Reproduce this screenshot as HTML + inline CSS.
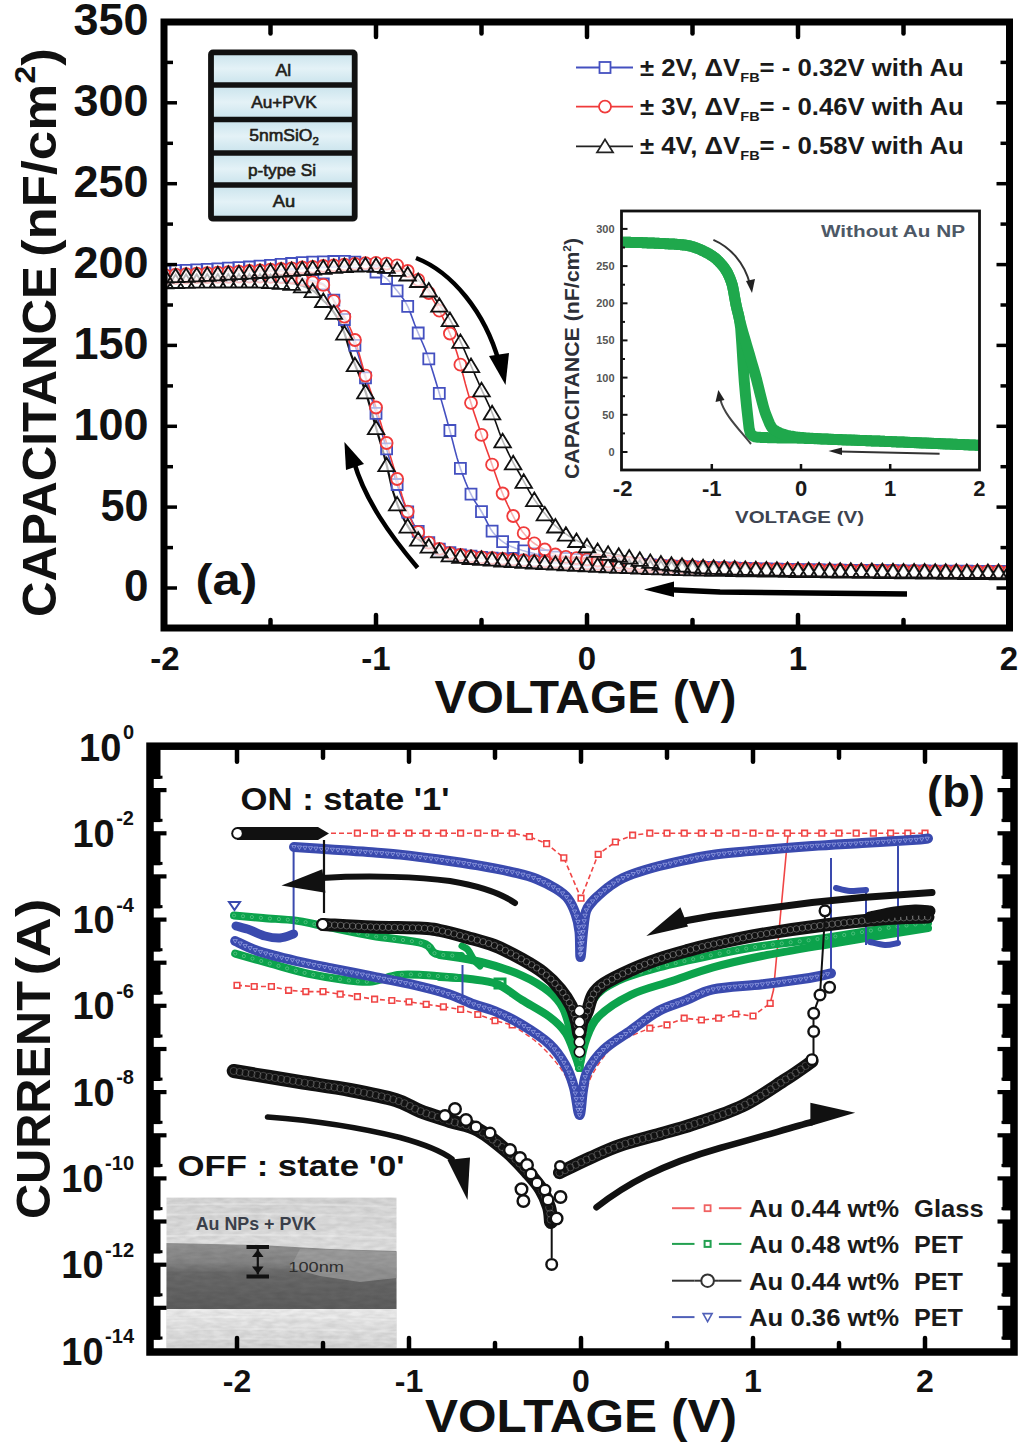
<!DOCTYPE html>
<html><head><meta charset="utf-8"><style>
html,body{margin:0;padding:0;background:#fff;}
svg{display:block;}
text{font-family:"Liberation Sans",sans-serif;}
</style></head><body>
<svg width="1025" height="1447" viewBox="0 0 1025 1447">
<rect width="1025" height="1447" fill="#fff"/>
<defs>
<linearGradient id="semTop" x1="0" y1="0" x2="0" y2="1"><stop offset="0" stop-color="#d8d8d8"/><stop offset="0.5" stop-color="#e6e6e6"/><stop offset="1" stop-color="#d4d4d4"/></linearGradient>
<linearGradient id="semMid" x1="0" y1="0" x2="0" y2="1"><stop offset="0" stop-color="#939393"/><stop offset="0.3" stop-color="#868686"/><stop offset="0.45" stop-color="#6a6a6a"/><stop offset="1" stop-color="#5e5e5e"/></linearGradient>
<linearGradient id="semBot" x1="0" y1="0" x2="0" y2="1"><stop offset="0" stop-color="#efefef"/><stop offset="0.5" stop-color="#e2e2e2"/><stop offset="1" stop-color="#d8d8d8"/></linearGradient>
<filter id="semNoise" x="0" y="0" width="1" height="1"><feTurbulence type="fractalNoise" baseFrequency="0.08 0.25" numOctaves="2" seed="3"/><feColorMatrix type="matrix" values="0 0 0 0 0  0 0 0 0 0  0 0 0 0 0  0 0 0 0.28 -0.07"/><feComposite in2="SourceGraphic" operator="in"/></filter>
</defs>
<rect x="166.5" y="1197.6" width="230.0" height="150" fill="url(#semTop)"/>
<path d="M166.5,1243 L260,1245 L330,1249 L396.5,1251 L396.5,1309 L166.5,1309 Z" fill="url(#semMid)"/>
<path d="M300,1249 L396.5,1252 L396.5,1278 L360,1282 L320,1276 L290,1268 Z" fill="#a4a4a4" opacity="0.7"/>
<rect x="166.5" y="1309" width="230.0" height="39" fill="url(#semBot)"/>
<rect x="166.5" y="1197.6" width="230.0" height="150" fill="#000" filter="url(#semNoise)" opacity="0.5"/>
<path d="M166.5,1205 Q280,1202 396.5,1207" stroke="#fff" stroke-width="2" fill="none" opacity="0.25"/>
<path d="M166.5,1215 Q280,1212 396.5,1217" stroke="#fff" stroke-width="2" fill="none" opacity="0.2"/>
<path d="M166.5,1236 Q280,1233 396.5,1238" stroke="#fff" stroke-width="2" fill="none" opacity="0.25"/>
<path d="M166.5,1318 Q280,1315 396.5,1320" stroke="#fff" stroke-width="2" fill="none" opacity="0.2"/>
<path d="M166.5,1330 Q280,1327 396.5,1332" stroke="#fff" stroke-width="2" fill="none" opacity="0.2"/>
<path d="M166.5,1340 Q280,1337 396.5,1342" stroke="#fff" stroke-width="2" fill="none" opacity="0.15"/>
<g fill="#111" stroke="#111">
<rect x="246.5" y="1245" width="22.5" height="4" stroke="none"/>
<rect x="246.5" y="1274.5" width="22.5" height="4" stroke="none"/>
<line x1="257.8" y1="1249" x2="257.8" y2="1274.5" stroke-width="2.2"/>
<path d="M252,1257 L263.6,1257 L257.8,1249.5 Z" stroke="none"/>
<path d="M252,1266.5 L263.6,1266.5 L257.8,1274 Z" stroke="none"/>
</g>
<text x="288.3" y="1271.5" font-size="15.5" fill="#2e2e2e" textLength="55.7" lengthAdjust="spacingAndGlyphs">100nm</text>
<text x="195.7" y="1230" font-size="17.5" font-weight="bold" fill="#3a3f4a" textLength="120.5" lengthAdjust="spacingAndGlyphs">Au NPs + PVK</text>
<path d="M331.0,833.2 L357.4,833.2 L374.6,833.2 L391.8,833.2 L409.0,833.2 L426.2,833.2 L443.4,833.2 L460.6,833.2 L477.8,833.2 L495.0,833.2 L512.2,833.2 L529.4,836.7 L546.6,843.7 L563.8,857.8 L581.0,898.2 L598.2,854.3 L615.4,842.0 L632.6,835.2 L649.8,833.2 L667.0,833.2 L684.2,833.2 L701.4,833.2 L718.6,833.2 L735.8,833.2 L753.0,833.2 L770.2,833.2 L787.4,833.2 L804.6,833.2 L821.8,833.2 L839.0,833.2 L856.2,833.2 L873.4,833.2 L890.6,833.2 L907.8,833.2 L925.0,833.2" fill="none" stroke="#f04545" stroke-width="1.6" stroke-dasharray="5,3"/>
<path d="M237.0,985.3 L254.2,986.5 L271.4,986.5 L288.6,990.3 L305.8,991.6 L323.0,991.6 L340.2,994.2 L357.4,996.7 L374.6,999.2 L391.8,1000.5 L409.0,1001.8 L426.2,1004.3 L443.4,1006.8 L460.6,1009.4 L477.8,1014.5 L495.0,1020.7 L512.2,1025.0" fill="none" stroke="#f04545" stroke-width="1.6" stroke-dasharray="5,3"/>
<path d="M649.8,1028.2 L667.0,1024.9 L684.2,1018.2 L701.4,1020.0 L718.6,1018.2 L735.8,1014.0 L753.0,1016.0 L770.2,1003.3" fill="none" stroke="#f04545" stroke-width="1.6" stroke-dasharray="5,3"/>
<path d="M770.2,1003.3 L773.5,990.0 L787.0,845.0 L788.0,836.0" fill="none" stroke="#f04545" stroke-width="1.6" />
<path d="M512.2,1025.0 C516.8,1028.3 531.2,1036.7 540.0,1045.0 C548.8,1053.3 558.5,1064.2 565.0,1075.0 C571.5,1085.8 574.5,1110.0 579.0,1110.0 C583.5,1110.0 586.0,1085.8 592.0,1075.0 C598.0,1064.2 605.4,1052.8 615.0,1045.0 C624.6,1037.2 644.0,1031.0 649.8,1028.2" fill="none" stroke="#f04545" stroke-width="1.4" stroke-dasharray="5,3"/>
<path d="M354.6,830.4h5.6v5.6h-5.6zM371.8,830.4h5.6v5.6h-5.6zM389.0,830.4h5.6v5.6h-5.6zM406.2,830.4h5.6v5.6h-5.6zM423.4,830.4h5.6v5.6h-5.6zM440.6,830.4h5.6v5.6h-5.6zM457.8,830.4h5.6v5.6h-5.6zM475.0,830.4h5.6v5.6h-5.6zM492.2,830.4h5.6v5.6h-5.6zM509.4,830.4h5.6v5.6h-5.6zM526.6,833.9h5.6v5.6h-5.6zM543.8,840.9h5.6v5.6h-5.6zM561.0,855.0h5.6v5.6h-5.6zM578.2,895.4h5.6v5.6h-5.6zM595.4,851.5h5.6v5.6h-5.6zM612.6,839.2h5.6v5.6h-5.6zM629.8,832.4h5.6v5.6h-5.6zM647.0,830.4h5.6v5.6h-5.6zM664.2,830.4h5.6v5.6h-5.6zM681.4,830.4h5.6v5.6h-5.6zM698.6,830.4h5.6v5.6h-5.6zM715.8,830.4h5.6v5.6h-5.6zM733.0,830.4h5.6v5.6h-5.6zM750.2,830.4h5.6v5.6h-5.6zM767.4,830.4h5.6v5.6h-5.6zM784.6,830.4h5.6v5.6h-5.6zM801.8,830.4h5.6v5.6h-5.6zM819.0,830.4h5.6v5.6h-5.6zM836.2,830.4h5.6v5.6h-5.6zM853.4,830.4h5.6v5.6h-5.6zM870.6,830.4h5.6v5.6h-5.6zM887.8,830.4h5.6v5.6h-5.6zM905.0,830.4h5.6v5.6h-5.6zM922.2,830.4h5.6v5.6h-5.6z" fill="#fff" stroke="#f04545" stroke-width="1.6"/>
<path d="M234.2,982.5h5.6v5.6h-5.6zM251.4,983.7h5.6v5.6h-5.6zM268.6,983.7h5.6v5.6h-5.6zM285.8,987.5h5.6v5.6h-5.6zM303.0,988.8h5.6v5.6h-5.6zM320.2,988.8h5.6v5.6h-5.6zM337.4,991.4h5.6v5.6h-5.6zM354.6,993.9h5.6v5.6h-5.6zM371.8,996.4h5.6v5.6h-5.6zM389.0,997.7h5.6v5.6h-5.6zM406.2,999.0h5.6v5.6h-5.6zM423.4,1001.5h5.6v5.6h-5.6zM440.6,1004.0h5.6v5.6h-5.6zM457.8,1006.6h5.6v5.6h-5.6zM475.0,1011.7h5.6v5.6h-5.6zM492.2,1017.9h5.6v5.6h-5.6zM509.4,1022.2h5.6v5.6h-5.6z" fill="#fff" stroke="#f04545" stroke-width="1.6"/>
<path d="M647.0,1025.4h5.6v5.6h-5.6zM664.2,1022.1h5.6v5.6h-5.6zM681.4,1015.4h5.6v5.6h-5.6zM698.6,1017.2h5.6v5.6h-5.6zM715.8,1015.4h5.6v5.6h-5.6zM733.0,1011.2h5.6v5.6h-5.6zM750.2,1013.2h5.6v5.6h-5.6zM767.4,1000.5h5.6v5.6h-5.6z" fill="#fff" stroke="#f04545" stroke-width="1.6"/>
<path d="M235.2,953.6 C241.1,955.3 258.4,960.3 270.7,963.7 C283.0,967.1 296.1,971.1 308.8,973.9 C321.5,976.6 336.3,978.9 346.8,980.2 C357.3,981.5 363.5,982.4 372.0,981.5 C380.5,980.6 389.1,976.1 397.6,975.0 C406.1,973.9 412.9,974.5 423.0,975.0 C433.1,975.5 452.6,977.5 458.5,978.0" fill="none" stroke="#0ca34c" stroke-width="8" stroke-linecap="round" stroke-linejoin="round" />
<path d="M234.0,915.5 C238.8,915.9 252.7,917.1 263.0,918.0 C273.3,918.9 286.2,919.3 296.0,920.6 C305.8,921.9 308.8,923.2 321.5,925.7 C334.2,928.2 355.1,932.8 372.0,935.8 C388.9,938.8 412.4,940.4 423.0,943.4 C433.6,946.4 429.3,951.5 435.6,953.6 C441.9,955.7 456.8,955.6 461.0,956.0" fill="none" stroke="#0ca34c" stroke-width="8" stroke-linecap="round" stroke-linejoin="round" />
<path d="M440.0,955.0 C446.8,956.2 467.3,958.6 481.0,962.0 C494.7,965.4 510.6,970.6 522.0,975.6 C533.4,980.6 542.5,986.5 549.3,992.0 C556.1,997.5 559.4,1001.6 563.0,1008.4 C566.6,1015.2 568.7,1025.2 571.0,1033.0 C573.3,1040.8 575.2,1049.2 576.6,1055.0 C578.0,1060.8 578.8,1065.8 579.3,1068.0" fill="none" stroke="#0ca34c" stroke-width="8" stroke-linecap="round" stroke-linejoin="round" />
<path d="M440.0,977.0 C445.0,977.3 460.5,977.8 470.0,979.0 C479.5,980.2 488.3,980.5 497.0,984.0 C505.7,987.5 513.3,994.6 522.0,1000.0 C530.7,1005.4 542.0,1011.1 549.3,1016.6 C556.6,1022.1 561.4,1026.6 565.7,1033.0 C570.0,1039.4 572.7,1049.2 575.0,1055.0 C577.3,1060.8 578.6,1065.8 579.3,1068.0" fill="none" stroke="#0ca34c" stroke-width="8" stroke-linecap="round" stroke-linejoin="round" />
<path d="M579.3,1068.0 C580.4,1063.3 582.8,1048.6 586.0,1040.0 C589.2,1031.4 591.0,1024.1 598.5,1016.6 C606.0,1009.1 618.8,1000.7 631.0,994.8 C643.2,988.9 658.3,985.6 672.0,981.0 C685.7,976.4 698.0,971.6 713.0,967.4 C728.0,963.2 742.5,959.9 762.0,956.0 C781.5,952.1 802.3,948.7 830.0,944.0 C857.7,939.3 911.7,930.7 928.0,928.0" fill="none" stroke="#0ca34c" stroke-width="8" stroke-linecap="round" stroke-linejoin="round" />
<path d="M579.3,1068.0 C580.1,1063.3 581.7,1051.3 584.0,1040.0 C586.3,1028.7 587.4,1010.0 593.0,1000.2 C598.6,990.4 606.7,986.5 617.6,981.0 C628.5,975.5 642.7,971.7 658.6,967.4 C674.5,963.1 695.7,958.6 713.0,955.0 C730.3,951.4 743.7,948.8 762.4,946.0 C781.1,943.2 804.2,941.0 825.0,938.0 C845.8,935.0 870.1,930.5 887.3,928.0 C904.5,925.5 921.2,923.8 928.0,923.0" fill="none" stroke="#0ca34c" stroke-width="8" stroke-linecap="round" stroke-linejoin="round" />
<path d="M232.4,915.5a1.6,1.6 0 1,0 3.2,0a1.6,1.6 0 1,0 -3.2,0M241.4,916.3a1.6,1.6 0 1,0 3.2,0a1.6,1.6 0 1,0 -3.2,0M250.3,917.1a1.6,1.6 0 1,0 3.2,0a1.6,1.6 0 1,0 -3.2,0M259.3,917.8a1.6,1.6 0 1,0 3.2,0a1.6,1.6 0 1,0 -3.2,0M268.3,918.5a1.6,1.6 0 1,0 3.2,0a1.6,1.6 0 1,0 -3.2,0M277.3,919.1a1.6,1.6 0 1,0 3.2,0a1.6,1.6 0 1,0 -3.2,0M286.2,919.7a1.6,1.6 0 1,0 3.2,0a1.6,1.6 0 1,0 -3.2,0M295.2,920.7a1.6,1.6 0 1,0 3.2,0a1.6,1.6 0 1,0 -3.2,0M304.0,922.2a1.6,1.6 0 1,0 3.2,0a1.6,1.6 0 1,0 -3.2,0M312.8,924.2a1.6,1.6 0 1,0 3.2,0a1.6,1.6 0 1,0 -3.2,0M321.6,926.0a1.6,1.6 0 1,0 3.2,0a1.6,1.6 0 1,0 -3.2,0M330.5,927.9a1.6,1.6 0 1,0 3.2,0a1.6,1.6 0 1,0 -3.2,0M339.3,929.7a1.6,1.6 0 1,0 3.2,0a1.6,1.6 0 1,0 -3.2,0M348.1,931.5a1.6,1.6 0 1,0 3.2,0a1.6,1.6 0 1,0 -3.2,0M356.9,933.3a1.6,1.6 0 1,0 3.2,0a1.6,1.6 0 1,0 -3.2,0M365.7,935.0a1.6,1.6 0 1,0 3.2,0a1.6,1.6 0 1,0 -3.2,0M374.6,936.5a1.6,1.6 0 1,0 3.2,0a1.6,1.6 0 1,0 -3.2,0M383.5,937.7a1.6,1.6 0 1,0 3.2,0a1.6,1.6 0 1,0 -3.2,0M392.5,938.9a1.6,1.6 0 1,0 3.2,0a1.6,1.6 0 1,0 -3.2,0M401.4,940.0a1.6,1.6 0 1,0 3.2,0a1.6,1.6 0 1,0 -3.2,0M410.3,941.2a1.6,1.6 0 1,0 3.2,0a1.6,1.6 0 1,0 -3.2,0M419.1,942.8a1.6,1.6 0 1,0 3.2,0a1.6,1.6 0 1,0 -3.2,0M427.4,946.3a1.6,1.6 0 1,0 3.2,0a1.6,1.6 0 1,0 -3.2,0M432.9,953.2a1.6,1.6 0 1,0 3.2,0a1.6,1.6 0 1,0 -3.2,0M441.7,955.0a1.6,1.6 0 1,0 3.2,0a1.6,1.6 0 1,0 -3.2,0M450.7,955.6a1.6,1.6 0 1,0 3.2,0a1.6,1.6 0 1,0 -3.2,0" fill="none" stroke="#9fe0b8" stroke-width="0.8" opacity="0.5"/>
<path d="M233.6,953.6a1.6,1.6 0 1,0 3.2,0a1.6,1.6 0 1,0 -3.2,0M242.3,956.1a1.6,1.6 0 1,0 3.2,0a1.6,1.6 0 1,0 -3.2,0M250.9,958.6a1.6,1.6 0 1,0 3.2,0a1.6,1.6 0 1,0 -3.2,0M259.6,961.0a1.6,1.6 0 1,0 3.2,0a1.6,1.6 0 1,0 -3.2,0M268.2,963.5a1.6,1.6 0 1,0 3.2,0a1.6,1.6 0 1,0 -3.2,0M276.9,965.9a1.6,1.6 0 1,0 3.2,0a1.6,1.6 0 1,0 -3.2,0M285.5,968.4a1.6,1.6 0 1,0 3.2,0a1.6,1.6 0 1,0 -3.2,0M294.2,970.7a1.6,1.6 0 1,0 3.2,0a1.6,1.6 0 1,0 -3.2,0M303.0,972.9a1.6,1.6 0 1,0 3.2,0a1.6,1.6 0 1,0 -3.2,0M311.7,974.8a1.6,1.6 0 1,0 3.2,0a1.6,1.6 0 1,0 -3.2,0M320.6,976.5a1.6,1.6 0 1,0 3.2,0a1.6,1.6 0 1,0 -3.2,0M329.5,978.0a1.6,1.6 0 1,0 3.2,0a1.6,1.6 0 1,0 -3.2,0M338.4,979.3a1.6,1.6 0 1,0 3.2,0a1.6,1.6 0 1,0 -3.2,0M347.3,980.5a1.6,1.6 0 1,0 3.2,0a1.6,1.6 0 1,0 -3.2,0M356.2,981.5a1.6,1.6 0 1,0 3.2,0a1.6,1.6 0 1,0 -3.2,0M365.2,981.8a1.6,1.6 0 1,0 3.2,0a1.6,1.6 0 1,0 -3.2,0M374.2,980.9a1.6,1.6 0 1,0 3.2,0a1.6,1.6 0 1,0 -3.2,0M382.8,978.4a1.6,1.6 0 1,0 3.2,0a1.6,1.6 0 1,0 -3.2,0M391.4,975.9a1.6,1.6 0 1,0 3.2,0a1.6,1.6 0 1,0 -3.2,0M400.3,974.6a1.6,1.6 0 1,0 3.2,0a1.6,1.6 0 1,0 -3.2,0M409.3,974.4a1.6,1.6 0 1,0 3.2,0a1.6,1.6 0 1,0 -3.2,0M418.3,974.8a1.6,1.6 0 1,0 3.2,0a1.6,1.6 0 1,0 -3.2,0M427.3,975.4a1.6,1.6 0 1,0 3.2,0a1.6,1.6 0 1,0 -3.2,0M436.3,976.1a1.6,1.6 0 1,0 3.2,0a1.6,1.6 0 1,0 -3.2,0M445.2,976.9a1.6,1.6 0 1,0 3.2,0a1.6,1.6 0 1,0 -3.2,0M454.2,977.8a1.6,1.6 0 1,0 3.2,0a1.6,1.6 0 1,0 -3.2,0" fill="none" stroke="#9fe0b8" stroke-width="0.8" opacity="0.5"/>
<path d="M577.7,1068.0a1.6,1.6 0 1,0 3.2,0a1.6,1.6 0 1,0 -3.2,0M579.1,1059.1a1.6,1.6 0 1,0 3.2,0a1.6,1.6 0 1,0 -3.2,0M580.5,1050.2a1.6,1.6 0 1,0 3.2,0a1.6,1.6 0 1,0 -3.2,0M582.1,1041.4a1.6,1.6 0 1,0 3.2,0a1.6,1.6 0 1,0 -3.2,0M583.7,1032.5a1.6,1.6 0 1,0 3.2,0a1.6,1.6 0 1,0 -3.2,0M585.0,1023.6a1.6,1.6 0 1,0 3.2,0a1.6,1.6 0 1,0 -3.2,0M586.6,1014.7a1.6,1.6 0 1,0 3.2,0a1.6,1.6 0 1,0 -3.2,0M588.9,1006.0a1.6,1.6 0 1,0 3.2,0a1.6,1.6 0 1,0 -3.2,0M592.8,998.0a1.6,1.6 0 1,0 3.2,0a1.6,1.6 0 1,0 -3.2,0M598.7,991.3a1.6,1.6 0 1,0 3.2,0a1.6,1.6 0 1,0 -3.2,0M606.1,986.2a1.6,1.6 0 1,0 3.2,0a1.6,1.6 0 1,0 -3.2,0M614.1,982.0a1.6,1.6 0 1,0 3.2,0a1.6,1.6 0 1,0 -3.2,0M622.3,978.2a1.6,1.6 0 1,0 3.2,0a1.6,1.6 0 1,0 -3.2,0M630.7,975.1a1.6,1.6 0 1,0 3.2,0a1.6,1.6 0 1,0 -3.2,0M639.3,972.4a1.6,1.6 0 1,0 3.2,0a1.6,1.6 0 1,0 -3.2,0M647.9,969.9a1.6,1.6 0 1,0 3.2,0a1.6,1.6 0 1,0 -3.2,0M656.6,967.5a1.6,1.6 0 1,0 3.2,0a1.6,1.6 0 1,0 -3.2,0M665.3,965.2a1.6,1.6 0 1,0 3.2,0a1.6,1.6 0 1,0 -3.2,0M674.1,963.1a1.6,1.6 0 1,0 3.2,0a1.6,1.6 0 1,0 -3.2,0M682.8,961.1a1.6,1.6 0 1,0 3.2,0a1.6,1.6 0 1,0 -3.2,0M691.6,959.2a1.6,1.6 0 1,0 3.2,0a1.6,1.6 0 1,0 -3.2,0M700.4,957.3a1.6,1.6 0 1,0 3.2,0a1.6,1.6 0 1,0 -3.2,0M709.2,955.4a1.6,1.6 0 1,0 3.2,0a1.6,1.6 0 1,0 -3.2,0M718.1,953.6a1.6,1.6 0 1,0 3.2,0a1.6,1.6 0 1,0 -3.2,0M726.9,951.9a1.6,1.6 0 1,0 3.2,0a1.6,1.6 0 1,0 -3.2,0M735.7,950.2a1.6,1.6 0 1,0 3.2,0a1.6,1.6 0 1,0 -3.2,0M744.6,948.6a1.6,1.6 0 1,0 3.2,0a1.6,1.6 0 1,0 -3.2,0M753.5,947.1a1.6,1.6 0 1,0 3.2,0a1.6,1.6 0 1,0 -3.2,0M762.4,945.8a1.6,1.6 0 1,0 3.2,0a1.6,1.6 0 1,0 -3.2,0M771.3,944.5a1.6,1.6 0 1,0 3.2,0a1.6,1.6 0 1,0 -3.2,0M780.2,943.4a1.6,1.6 0 1,0 3.2,0a1.6,1.6 0 1,0 -3.2,0M789.1,942.3a1.6,1.6 0 1,0 3.2,0a1.6,1.6 0 1,0 -3.2,0M798.1,941.3a1.6,1.6 0 1,0 3.2,0a1.6,1.6 0 1,0 -3.2,0M807.0,940.2a1.6,1.6 0 1,0 3.2,0a1.6,1.6 0 1,0 -3.2,0M815.9,939.0a1.6,1.6 0 1,0 3.2,0a1.6,1.6 0 1,0 -3.2,0M824.8,937.8a1.6,1.6 0 1,0 3.2,0a1.6,1.6 0 1,0 -3.2,0M833.7,936.4a1.6,1.6 0 1,0 3.2,0a1.6,1.6 0 1,0 -3.2,0M842.6,935.0a1.6,1.6 0 1,0 3.2,0a1.6,1.6 0 1,0 -3.2,0M851.5,933.5a1.6,1.6 0 1,0 3.2,0a1.6,1.6 0 1,0 -3.2,0M860.4,932.1a1.6,1.6 0 1,0 3.2,0a1.6,1.6 0 1,0 -3.2,0M869.3,930.6a1.6,1.6 0 1,0 3.2,0a1.6,1.6 0 1,0 -3.2,0M878.2,929.2a1.6,1.6 0 1,0 3.2,0a1.6,1.6 0 1,0 -3.2,0M887.1,927.8a1.6,1.6 0 1,0 3.2,0a1.6,1.6 0 1,0 -3.2,0M896.0,926.6a1.6,1.6 0 1,0 3.2,0a1.6,1.6 0 1,0 -3.2,0M904.9,925.5a1.6,1.6 0 1,0 3.2,0a1.6,1.6 0 1,0 -3.2,0M913.8,924.4a1.6,1.6 0 1,0 3.2,0a1.6,1.6 0 1,0 -3.2,0M922.8,923.4a1.6,1.6 0 1,0 3.2,0a1.6,1.6 0 1,0 -3.2,0" fill="none" stroke="#9fe0b8" stroke-width="0.8" opacity="0.5"/>
<path d="M462.0,946.0 C463.0,946.7 466.0,947.7 468.0,950.0 C470.0,952.3 472.0,957.3 474.0,960.0 C476.0,962.7 479.0,965.0 480.0,966.0" fill="none" stroke="#0ca34c" stroke-width="7" stroke-linecap="round" stroke-linejoin="round" />
<rect x="495" y="979" width="10" height="9" fill="none" stroke="#0ca34c" stroke-width="3"/>
<path d="M294.0,847.0 C300.2,847.4 318.7,848.7 331.0,849.5 C343.3,850.3 356.5,851.1 368.0,852.0 C379.5,852.9 388.2,853.4 400.0,854.6 C411.8,855.9 426.0,857.7 439.0,859.5 C452.0,861.3 465.0,863.1 478.0,865.4 C491.0,867.7 507.2,870.9 517.0,873.2 C526.8,875.5 530.1,876.4 536.6,879.0 C543.1,881.6 550.8,885.5 556.0,888.8 C561.2,892.0 564.5,894.3 567.8,898.5 C571.1,902.7 573.6,908.5 575.6,914.0 C577.6,919.5 578.7,924.5 579.5,931.7 C580.3,938.9 579.9,957.0 580.5,957.0 C581.1,957.0 582.1,939.6 583.0,932.0 C583.9,924.4 584.5,916.4 586.0,911.4 C587.5,906.4 589.9,904.6 592.0,902.0 C594.1,899.4 595.4,898.3 598.4,895.6 C601.4,892.9 605.9,888.9 610.0,886.0 C614.1,883.1 617.2,880.7 623.0,878.0 C628.8,875.3 636.2,872.6 645.0,870.0 C653.8,867.4 664.5,864.7 675.7,862.2 C686.9,859.7 697.6,857.0 712.0,855.0 C726.4,853.0 745.3,851.5 762.0,850.0 C778.7,848.5 795.3,847.2 812.0,846.0 C828.7,844.8 845.3,844.0 862.0,843.0 C878.7,842.0 901.0,840.8 912.0,840.0 C923.0,839.2 925.3,838.8 928.0,838.5" fill="none" stroke="#3a4aae" stroke-width="10" stroke-linecap="round" stroke-linejoin="round" />
<path d="M235.2,941.0 C239.0,942.7 247.9,947.7 258.0,951.0 C268.1,954.3 283.3,958.0 296.0,961.0 C308.7,964.0 321.3,966.2 334.0,968.8 C346.7,971.4 359.3,973.9 372.0,976.4 C384.7,978.9 397.3,981.1 410.0,984.0 C422.7,986.9 437.7,990.6 448.3,994.0 C458.9,997.4 466.0,1001.5 473.7,1004.3 C481.4,1007.1 486.6,1007.6 494.6,1011.0 C502.7,1014.4 512.9,1019.3 522.0,1024.8 C531.1,1030.3 542.0,1037.2 549.3,1044.0 C556.6,1050.8 561.6,1058.5 565.7,1065.8 C569.8,1073.1 571.7,1079.5 574.0,1087.7 C576.3,1095.9 578.0,1114.6 579.5,1115.0 C581.0,1115.4 581.7,1097.3 583.0,1090.0 C584.3,1082.7 584.0,1078.1 587.5,1071.3 C591.0,1064.5 596.8,1056.2 604.0,1049.4 C611.2,1042.6 621.9,1036.7 631.0,1030.3 C640.1,1023.9 649.4,1016.0 658.6,1011.0 C667.8,1006.0 676.9,1003.8 686.0,1000.2 C695.1,996.6 700.3,992.0 713.0,989.3 C725.7,986.6 746.4,986.1 762.4,984.2 C778.4,982.3 797.9,979.8 809.3,978.0 C820.7,976.2 827.4,974.1 831.0,973.3" fill="none" stroke="#3a4aae" stroke-width="10" stroke-linecap="round" stroke-linejoin="round" />
<path d="M236.0,926.0 C238.3,926.7 245.2,928.3 250.0,930.0 C254.8,931.7 260.0,934.7 265.0,936.0 C270.0,937.3 275.2,938.3 280.0,938.0 C284.8,937.7 291.3,934.7 293.6,934.0" fill="none" stroke="#3a4aae" stroke-width="9" stroke-linecap="round" stroke-linejoin="round" />
<path d="M291.9,845.6L296.1,845.6L294.0,849.1ZM297.4,846.0L301.6,846.0L299.5,849.5ZM302.9,846.3L307.1,846.3L305.0,849.8ZM308.4,846.7L312.6,846.7L310.5,850.2ZM313.8,847.1L318.0,847.1L315.9,850.6ZM319.3,847.5L323.5,847.5L321.4,851.0ZM324.8,847.8L329.0,847.8L326.9,851.3ZM330.3,848.2L334.5,848.2L332.4,851.7ZM335.8,848.6L340.0,848.6L337.9,852.1ZM341.3,848.9L345.5,848.9L343.4,852.4ZM346.8,849.3L351.0,849.3L348.9,852.8ZM352.3,849.6L356.5,849.6L354.4,853.1ZM357.8,850.0L362.0,850.0L359.9,853.5ZM363.2,850.4L367.4,850.4L365.3,853.9ZM368.7,850.8L372.9,850.8L370.8,854.3ZM374.2,851.2L378.4,851.2L376.3,854.7ZM379.7,851.6L383.9,851.6L381.8,855.1ZM385.2,852.0L389.4,852.0L387.3,855.5ZM390.7,852.5L394.9,852.5L392.8,856.0ZM396.1,853.0L400.3,853.0L398.2,856.5ZM401.6,853.6L405.8,853.6L403.7,857.1ZM407.1,854.2L411.3,854.2L409.2,857.7ZM412.5,854.9L416.7,854.9L414.6,858.4ZM418.0,855.6L422.2,855.6L420.1,859.1ZM423.4,856.3L427.6,856.3L425.5,859.8ZM428.9,857.0L433.1,857.0L431.0,860.5ZM434.3,857.7L438.5,857.7L436.4,861.2ZM439.8,858.5L444.0,858.5L441.9,862.0ZM445.2,859.3L449.4,859.3L447.3,862.8ZM450.7,860.0L454.9,860.0L452.8,863.5ZM456.1,860.8L460.3,860.8L458.2,864.3ZM461.6,861.6L465.8,861.6L463.7,865.1ZM467.0,862.5L471.2,862.5L469.1,866.0ZM472.4,863.4L476.6,863.4L474.5,866.9ZM477.8,864.3L482.0,864.3L479.9,867.8ZM483.3,865.3L487.5,865.3L485.4,868.8ZM488.7,866.3L492.9,866.3L490.8,869.8ZM494.1,867.4L498.3,867.4L496.2,870.9ZM499.4,868.5L503.6,868.5L501.5,872.0ZM504.8,869.6L509.0,869.6L506.9,873.1ZM510.2,870.7L514.4,870.7L512.3,874.2ZM515.6,872.0L519.8,872.0L517.7,875.5ZM520.9,873.2L525.1,873.2L523.0,876.7ZM526.2,874.7L530.4,874.7L528.3,878.2ZM531.4,876.4L535.6,876.4L533.5,879.9ZM536.6,878.5L540.8,878.5L538.7,882.0ZM541.6,880.7L545.8,880.7L543.7,884.2ZM546.5,883.2L550.7,883.2L548.6,886.7ZM551.3,885.8L555.5,885.8L553.4,889.3ZM556.0,888.7L560.2,888.7L558.1,892.2ZM560.5,891.9L564.7,891.9L562.6,895.4ZM564.5,895.6L568.7,895.6L566.6,899.1ZM567.7,900.1L571.9,900.1L569.8,903.6ZM570.4,904.9L574.6,904.9L572.5,908.4ZM572.5,910.0L576.7,910.0L574.6,913.5ZM574.3,915.1L578.5,915.1L576.4,918.6ZM575.8,920.4L580.0,920.4L577.9,923.9ZM576.8,925.8L581.0,925.8L578.9,929.3ZM577.5,931.3L581.7,931.3L579.6,934.8ZM577.8,936.8L582.0,936.8L579.9,940.3ZM577.9,942.3L582.1,942.3L580.0,945.8ZM578.0,947.8L582.2,947.8L580.1,951.3ZM578.1,953.3L582.3,953.3L580.2,956.8ZM578.9,952.5L583.1,952.5L581.0,956.0ZM579.4,947.0L583.6,947.0L581.5,950.5ZM579.9,941.5L584.1,941.5L582.0,945.0ZM580.3,936.1L584.5,936.1L582.4,939.6ZM580.9,930.6L585.1,930.6L583.0,934.1ZM581.5,925.1L585.7,925.1L583.6,928.6ZM582.1,919.7L586.3,919.7L584.2,923.2ZM582.9,914.2L587.1,914.2L585.0,917.7ZM584.3,908.9L588.5,908.9L586.4,912.4ZM586.9,904.1L591.1,904.1L589.0,907.6ZM590.5,899.9L594.7,899.9L592.6,903.4ZM594.3,896.0L598.5,896.0L596.4,899.5ZM598.4,892.3L602.6,892.3L600.5,895.8ZM602.6,888.7L606.8,888.7L604.7,892.2ZM606.9,885.3L611.1,885.3L609.0,888.8ZM611.4,882.1L615.6,882.1L613.5,885.6ZM616.0,879.1L620.2,879.1L618.1,882.6ZM620.9,876.6L625.1,876.6L623.0,880.1ZM625.9,874.4L630.1,874.4L628.0,877.9ZM631.1,872.5L635.3,872.5L633.2,876.0ZM636.3,870.7L640.5,870.7L638.4,874.2ZM641.5,869.0L645.7,869.0L643.6,872.5ZM646.8,867.5L651.0,867.5L648.9,871.0ZM652.1,866.0L656.3,866.0L654.2,869.5ZM657.4,864.6L661.6,864.6L659.5,868.1ZM662.8,863.3L667.0,863.3L664.9,866.8ZM668.1,862.1L672.3,862.1L670.2,865.6ZM673.5,860.8L677.7,860.8L675.6,864.3ZM678.8,859.6L683.0,859.6L680.9,863.1ZM684.2,858.4L688.4,858.4L686.3,861.9ZM689.6,857.2L693.8,857.2L691.7,860.7ZM695.0,856.1L699.2,856.1L697.1,859.6ZM700.4,855.1L704.6,855.1L702.5,858.6ZM705.8,854.2L710.0,854.2L707.9,857.7ZM711.2,853.4L715.4,853.4L713.3,856.9ZM716.7,852.7L720.9,852.7L718.8,856.2ZM722.1,852.1L726.3,852.1L724.2,855.6ZM727.6,851.5L731.8,851.5L729.7,855.0ZM733.1,851.0L737.3,851.0L735.2,854.5ZM738.6,850.5L742.8,850.5L740.7,854.0ZM744.0,850.0L748.2,850.0L746.1,853.5ZM749.5,849.5L753.7,849.5L751.6,853.0ZM755.0,849.0L759.2,849.0L757.1,852.5ZM760.5,848.5L764.7,848.5L762.6,852.0ZM766.0,848.1L770.2,848.1L768.1,851.6ZM771.4,847.6L775.6,847.6L773.5,851.1ZM776.9,847.1L781.1,847.1L779.0,850.6ZM782.4,846.7L786.6,846.7L784.5,850.2ZM787.9,846.2L792.1,846.2L790.0,849.7ZM793.4,845.8L797.6,845.8L795.5,849.3ZM798.9,845.4L803.1,845.4L801.0,848.9ZM804.3,845.0L808.5,845.0L806.4,848.5ZM809.8,844.6L814.0,844.6L811.9,848.1ZM815.3,844.2L819.5,844.2L817.4,847.7ZM820.8,843.9L825.0,843.9L822.9,847.4ZM826.3,843.5L830.5,843.5L828.4,847.0ZM831.8,843.2L836.0,843.2L833.9,846.7ZM837.3,842.9L841.5,842.9L839.4,846.4ZM842.8,842.6L847.0,842.6L844.9,846.1ZM848.3,842.3L852.5,842.3L850.4,845.8ZM853.7,842.0L857.9,842.0L855.8,845.5ZM859.2,841.6L863.4,841.6L861.3,845.1ZM864.7,841.3L868.9,841.3L866.8,844.8ZM870.2,841.0L874.4,841.0L872.3,844.5ZM875.7,840.7L879.9,840.7L877.8,844.2ZM881.2,840.3L885.4,840.3L883.3,843.8ZM886.7,840.0L890.9,840.0L888.8,843.5ZM892.2,839.7L896.4,839.7L894.3,843.2ZM897.7,839.4L901.9,839.4L899.8,842.9ZM903.2,839.0L907.4,839.0L905.3,842.5ZM908.6,838.7L912.8,838.7L910.7,842.2ZM914.1,838.3L918.3,838.3L916.2,841.8ZM919.6,837.8L923.8,837.8L921.7,841.3ZM925.1,837.2L929.3,837.2L927.2,840.7Z" fill="none" stroke="#c8d0ff" stroke-width="0.9" opacity="0.55"/>
<path d="M233.1,939.6L237.3,939.6L235.2,943.1ZM238.1,942.0L242.3,942.0L240.2,945.5ZM243.0,944.4L247.2,944.4L245.1,947.9ZM248.0,946.6L252.2,946.6L250.1,950.1ZM253.1,948.6L257.3,948.6L255.2,952.1ZM258.4,950.4L262.6,950.4L260.5,953.9ZM263.6,952.0L267.8,952.0L265.7,955.5ZM268.9,953.4L273.1,953.4L271.0,956.9ZM274.3,954.8L278.5,954.8L276.4,958.3ZM279.6,956.2L283.8,956.2L281.7,959.7ZM284.9,957.5L289.1,957.5L287.0,961.0ZM290.3,958.7L294.5,958.7L292.4,962.2ZM295.6,960.0L299.8,960.0L297.7,963.5ZM301.0,961.2L305.2,961.2L303.1,964.7ZM306.4,962.3L310.6,962.3L308.5,965.8ZM311.8,963.4L316.0,963.4L313.9,966.9ZM317.2,964.5L321.4,964.5L319.3,968.0ZM322.6,965.5L326.8,965.5L324.7,969.0ZM328.0,966.6L332.2,966.6L330.1,970.1ZM333.4,967.7L337.6,967.7L335.5,971.2ZM338.7,968.8L342.9,968.8L340.8,972.3ZM344.1,969.9L348.3,969.9L346.2,973.4ZM349.5,970.9L353.7,970.9L351.6,974.4ZM354.9,972.0L359.1,972.0L357.0,975.5ZM360.3,973.1L364.5,973.1L362.4,976.6ZM365.7,974.2L369.9,974.2L367.8,977.7ZM371.1,975.2L375.3,975.2L373.2,978.7ZM376.5,976.3L380.7,976.3L378.6,979.8ZM381.9,977.3L386.1,977.3L384.0,980.8ZM387.3,978.3L391.5,978.3L389.4,981.8ZM392.7,979.4L396.9,979.4L394.8,982.9ZM398.1,980.5L402.3,980.5L400.2,984.0ZM403.5,981.6L407.7,981.6L405.6,985.1ZM408.8,982.8L413.0,982.8L410.9,986.3ZM414.2,984.1L418.4,984.1L416.3,987.6ZM419.6,985.4L423.8,985.4L421.7,988.9ZM424.9,986.7L429.1,986.7L427.0,990.2ZM430.2,988.0L434.4,988.0L432.3,991.5ZM435.5,989.5L439.7,989.5L437.6,993.0ZM440.8,991.0L445.0,991.0L442.9,994.5ZM446.1,992.6L450.3,992.6L448.2,996.1ZM451.3,994.4L455.5,994.4L453.4,997.9ZM456.4,996.4L460.6,996.4L458.5,999.9ZM461.4,998.6L465.6,998.6L463.5,1002.1ZM466.5,1000.8L470.7,1000.8L468.6,1004.3ZM471.6,1002.9L475.8,1002.9L473.7,1006.4ZM476.8,1004.6L481.0,1004.6L478.9,1008.1ZM482.1,1006.1L486.3,1006.1L484.2,1009.6ZM487.4,1007.7L491.6,1007.7L489.5,1011.2ZM492.5,1009.6L496.7,1009.6L494.6,1013.1ZM497.5,1011.8L501.7,1011.8L499.6,1015.3ZM502.5,1014.1L506.7,1014.1L504.6,1017.6ZM507.5,1016.6L511.7,1016.6L509.6,1020.1ZM512.3,1019.1L516.5,1019.1L514.4,1022.6ZM517.1,1021.8L521.3,1021.8L519.2,1025.3ZM521.9,1024.6L526.1,1024.6L524.0,1028.1ZM526.5,1027.5L530.7,1027.5L528.6,1031.0ZM531.2,1030.4L535.4,1030.4L533.3,1033.9ZM535.7,1033.5L539.9,1033.5L537.8,1037.0ZM540.2,1036.8L544.4,1036.8L542.3,1040.3ZM544.5,1040.2L548.7,1040.2L546.6,1043.7ZM548.5,1043.9L552.7,1043.9L550.6,1047.4ZM552.3,1047.9L556.5,1047.9L554.4,1051.4ZM555.7,1052.2L559.9,1052.2L557.8,1055.7ZM558.9,1056.7L563.1,1056.7L561.0,1060.2ZM561.8,1061.3L566.0,1061.3L563.9,1064.8ZM564.5,1066.1L568.7,1066.1L566.6,1069.6ZM566.9,1071.1L571.1,1071.1L569.0,1074.6ZM568.9,1076.2L573.1,1076.2L571.0,1079.7ZM570.5,1081.5L574.7,1081.5L572.6,1085.0ZM572.0,1086.8L576.2,1086.8L574.1,1090.3ZM573.2,1092.1L577.4,1092.1L575.3,1095.6ZM574.1,1097.6L578.3,1097.6L576.2,1101.1ZM575.0,1103.0L579.2,1103.0L577.1,1106.5ZM575.9,1108.4L580.1,1108.4L578.0,1111.9ZM577.4,1113.6L581.6,1113.6L579.5,1117.1ZM578.7,1108.4L582.9,1108.4L580.8,1111.9ZM579.3,1102.9L583.5,1102.9L581.4,1106.4ZM579.8,1097.4L584.0,1097.4L581.9,1100.9ZM580.4,1092.0L584.6,1092.0L582.5,1095.5ZM581.2,1086.5L585.4,1086.5L583.3,1090.0ZM582.0,1081.1L586.2,1081.1L584.1,1084.6ZM583.1,1075.7L587.3,1075.7L585.2,1079.2ZM585.1,1070.6L589.3,1070.6L587.2,1074.1ZM587.7,1065.8L591.9,1065.8L589.8,1069.3ZM590.7,1061.1L594.9,1061.1L592.8,1064.6ZM594.0,1056.7L598.2,1056.7L596.1,1060.2ZM597.5,1052.5L601.7,1052.5L599.6,1056.0ZM601.3,1048.5L605.5,1048.5L603.4,1052.0ZM605.5,1044.9L609.7,1044.9L607.6,1048.4ZM609.9,1041.6L614.1,1041.6L612.0,1045.1ZM614.4,1038.5L618.6,1038.5L616.5,1042.0ZM619.0,1035.5L623.2,1035.5L621.1,1039.0ZM623.6,1032.5L627.8,1032.5L625.7,1036.0ZM628.2,1029.4L632.4,1029.4L630.3,1032.9ZM632.6,1026.2L636.8,1026.2L634.7,1029.7ZM637.0,1022.9L641.2,1022.9L639.1,1026.4ZM641.5,1019.6L645.7,1019.6L643.6,1023.1ZM645.9,1016.4L650.1,1016.4L648.0,1019.9ZM650.4,1013.3L654.6,1013.3L652.5,1016.8ZM655.1,1010.4L659.3,1010.4L657.2,1013.9ZM660.0,1007.8L664.2,1007.8L662.1,1011.3ZM665.0,1005.6L669.2,1005.6L667.1,1009.1ZM670.2,1003.7L674.4,1003.7L672.3,1007.2ZM675.4,1001.9L679.6,1001.9L677.5,1005.4ZM680.5,1000.1L684.7,1000.1L682.6,1003.6ZM685.7,998.1L689.9,998.1L687.8,1001.6ZM690.6,995.7L694.8,995.7L692.7,999.2ZM695.5,993.2L699.7,993.2L697.6,996.7ZM700.6,991.0L704.8,991.0L702.7,994.5ZM705.8,989.2L710.0,989.2L707.9,992.7ZM711.1,987.9L715.3,987.9L713.2,991.4ZM716.5,986.9L720.7,986.9L718.6,990.4ZM722.0,986.2L726.2,986.2L724.1,989.7ZM727.4,985.7L731.6,985.7L729.5,989.2ZM732.9,985.2L737.1,985.2L735.0,988.7ZM738.4,984.7L742.6,984.7L740.5,988.2ZM743.9,984.3L748.1,984.3L746.0,987.8ZM749.4,983.9L753.6,983.9L751.5,987.4ZM754.8,983.4L759.0,983.4L756.9,986.9ZM760.3,982.8L764.5,982.8L762.4,986.3ZM765.8,982.1L770.0,982.1L767.9,985.6ZM771.2,981.5L775.4,981.5L773.3,985.0ZM776.7,980.8L780.9,980.8L778.8,984.3ZM782.1,980.1L786.3,980.1L784.2,983.6ZM787.6,979.4L791.8,979.4L789.7,982.9ZM793.1,978.7L797.3,978.7L795.2,982.2ZM798.5,977.9L802.7,977.9L800.6,981.4ZM803.9,977.1L808.1,977.1L806.0,980.6ZM809.4,976.2L813.6,976.2L811.5,979.7ZM814.8,975.2L819.0,975.2L816.9,978.7ZM820.2,974.1L824.4,974.1L822.3,977.6ZM825.5,972.7L829.7,972.7L827.6,976.2Z" fill="none" stroke="#c8d0ff" stroke-width="0.9" opacity="0.55"/>
<path d="M293.6,848.0 L293.6,938.0" fill="none" stroke="#3a4aae" stroke-width="2" />
<path d="M831.0,973.0 L831.0,858.0" fill="none" stroke="#3a4aae" stroke-width="2" />
<path d="M898.0,846.0 L898.0,945.0" fill="none" stroke="#3a4aae" stroke-width="2" />
<path d="M866.0,888.0 L866.0,945.0" fill="none" stroke="#3a4aae" stroke-width="2" />
<path d="M462.5,965.0 L462.5,999.0" fill="none" stroke="#3a4aae" stroke-width="2" />
<path d="M836.0,888.0 C838.3,888.5 845.0,890.7 850.0,891.0 C855.0,891.3 863.3,890.2 866.0,890.0" fill="none" stroke="#3a4aae" stroke-width="6" stroke-linecap="round" stroke-linejoin="round" />
<path d="M870.0,942.0 C872.5,942.5 880.3,944.8 885.0,945.0 C889.7,945.2 895.8,943.3 898.0,943.0" fill="none" stroke="#3a4aae" stroke-width="6" stroke-linecap="round" stroke-linejoin="round" />
<path d="M229,902 h11 l-5.5,8z" fill="#fff" stroke="#3a4aae" stroke-width="2"/>
<path d="M237,827 L318,827 L329,833.4 L318,840 L237,840 Z" fill="#111"/>
<circle cx="237.5" cy="833.4" r="6.3" fill="#111"/>
<circle cx="237.5" cy="833.4" r="4.3" fill="#fff"/>
<path d="M324.0,840.0 L324.0,913.0" fill="none" stroke="#111" stroke-width="2.2" />
<path d="M322.7,924.4 C330.9,924.8 355.3,926.4 372.0,927.0 C388.7,927.6 411.7,927.6 423.0,928.2 C434.3,928.8 432.6,929.0 440.0,930.5 C447.4,932.0 458.2,934.9 467.3,937.4 C476.4,939.9 485.5,942.0 494.6,945.6 C503.7,949.2 513.8,954.6 522.0,959.2 C530.2,963.8 537.4,968.0 543.8,973.0 C550.2,978.0 555.7,983.8 560.2,989.3 C564.7,994.8 568.3,1000.2 571.0,1005.7 C573.7,1011.2 575.2,1017.1 576.6,1022.0 C578.0,1026.9 578.4,1035.0 579.3,1035.0 C580.2,1035.0 580.6,1026.0 582.0,1022.0 C583.4,1018.0 585.7,1015.5 587.5,1011.0 C589.3,1006.5 590.2,999.3 593.0,994.8 C595.8,990.3 597.7,987.9 604.0,983.8 C610.3,979.7 621.9,974.1 631.0,970.0 C640.1,965.9 649.4,962.4 658.6,959.2 C667.8,956.0 676.9,953.5 686.0,951.0 C695.1,948.5 700.3,947.0 713.0,944.2 C725.7,941.4 743.7,937.4 762.4,934.2 C781.1,931.0 804.2,927.6 825.0,925.0 C845.8,922.4 870.1,919.9 887.3,918.6 C904.5,917.3 921.2,917.3 928.0,917.0" fill="none" stroke="#111" stroke-width="13" stroke-linecap="round" stroke-linejoin="round" />
<path d="M319.5,924.4a3.2,3.2 0 1,0 6.4,0a3.2,3.2 0 1,0 -6.4,0M325.5,924.7a3.2,3.2 0 1,0 6.4,0a3.2,3.2 0 1,0 -6.4,0M331.5,925.1a3.2,3.2 0 1,0 6.4,0a3.2,3.2 0 1,0 -6.4,0M337.5,925.4a3.2,3.2 0 1,0 6.4,0a3.2,3.2 0 1,0 -6.4,0M343.5,925.8a3.2,3.2 0 1,0 6.4,0a3.2,3.2 0 1,0 -6.4,0M349.5,926.1a3.2,3.2 0 1,0 6.4,0a3.2,3.2 0 1,0 -6.4,0M355.4,926.4a3.2,3.2 0 1,0 6.4,0a3.2,3.2 0 1,0 -6.4,0M361.4,926.7a3.2,3.2 0 1,0 6.4,0a3.2,3.2 0 1,0 -6.4,0M367.4,926.9a3.2,3.2 0 1,0 6.4,0a3.2,3.2 0 1,0 -6.4,0M373.4,927.2a3.2,3.2 0 1,0 6.4,0a3.2,3.2 0 1,0 -6.4,0M379.4,927.3a3.2,3.2 0 1,0 6.4,0a3.2,3.2 0 1,0 -6.4,0M385.4,927.4a3.2,3.2 0 1,0 6.4,0a3.2,3.2 0 1,0 -6.4,0M391.4,927.5a3.2,3.2 0 1,0 6.4,0a3.2,3.2 0 1,0 -6.4,0M397.4,927.6a3.2,3.2 0 1,0 6.4,0a3.2,3.2 0 1,0 -6.4,0M403.4,927.7a3.2,3.2 0 1,0 6.4,0a3.2,3.2 0 1,0 -6.4,0M409.4,927.9a3.2,3.2 0 1,0 6.4,0a3.2,3.2 0 1,0 -6.4,0M415.4,928.0a3.2,3.2 0 1,0 6.4,0a3.2,3.2 0 1,0 -6.4,0M421.4,928.3a3.2,3.2 0 1,0 6.4,0a3.2,3.2 0 1,0 -6.4,0M427.4,928.7a3.2,3.2 0 1,0 6.4,0a3.2,3.2 0 1,0 -6.4,0M433.3,929.7a3.2,3.2 0 1,0 6.4,0a3.2,3.2 0 1,0 -6.4,0M439.2,931.0a3.2,3.2 0 1,0 6.4,0a3.2,3.2 0 1,0 -6.4,0M445.0,932.4a3.2,3.2 0 1,0 6.4,0a3.2,3.2 0 1,0 -6.4,0M450.8,933.8a3.2,3.2 0 1,0 6.4,0a3.2,3.2 0 1,0 -6.4,0M456.6,935.4a3.2,3.2 0 1,0 6.4,0a3.2,3.2 0 1,0 -6.4,0M462.4,936.9a3.2,3.2 0 1,0 6.4,0a3.2,3.2 0 1,0 -6.4,0M468.2,938.5a3.2,3.2 0 1,0 6.4,0a3.2,3.2 0 1,0 -6.4,0M474.0,940.1a3.2,3.2 0 1,0 6.4,0a3.2,3.2 0 1,0 -6.4,0M479.8,941.7a3.2,3.2 0 1,0 6.4,0a3.2,3.2 0 1,0 -6.4,0M485.5,943.5a3.2,3.2 0 1,0 6.4,0a3.2,3.2 0 1,0 -6.4,0M491.2,945.5a3.2,3.2 0 1,0 6.4,0a3.2,3.2 0 1,0 -6.4,0M496.7,947.8a3.2,3.2 0 1,0 6.4,0a3.2,3.2 0 1,0 -6.4,0M502.1,950.4a3.2,3.2 0 1,0 6.4,0a3.2,3.2 0 1,0 -6.4,0M507.5,953.1a3.2,3.2 0 1,0 6.4,0a3.2,3.2 0 1,0 -6.4,0M512.8,955.9a3.2,3.2 0 1,0 6.4,0a3.2,3.2 0 1,0 -6.4,0M518.0,958.8a3.2,3.2 0 1,0 6.4,0a3.2,3.2 0 1,0 -6.4,0M523.3,961.7a3.2,3.2 0 1,0 6.4,0a3.2,3.2 0 1,0 -6.4,0M528.4,964.7a3.2,3.2 0 1,0 6.4,0a3.2,3.2 0 1,0 -6.4,0M533.5,967.9a3.2,3.2 0 1,0 6.4,0a3.2,3.2 0 1,0 -6.4,0M538.4,971.4a3.2,3.2 0 1,0 6.4,0a3.2,3.2 0 1,0 -6.4,0M543.1,975.1a3.2,3.2 0 1,0 6.4,0a3.2,3.2 0 1,0 -6.4,0M547.6,979.1a3.2,3.2 0 1,0 6.4,0a3.2,3.2 0 1,0 -6.4,0M551.8,983.4a3.2,3.2 0 1,0 6.4,0a3.2,3.2 0 1,0 -6.4,0M555.8,987.9a3.2,3.2 0 1,0 6.4,0a3.2,3.2 0 1,0 -6.4,0M559.6,992.5a3.2,3.2 0 1,0 6.4,0a3.2,3.2 0 1,0 -6.4,0M563.0,997.4a3.2,3.2 0 1,0 6.4,0a3.2,3.2 0 1,0 -6.4,0M566.1,1002.6a3.2,3.2 0 1,0 6.4,0a3.2,3.2 0 1,0 -6.4,0M568.8,1007.9a3.2,3.2 0 1,0 6.4,0a3.2,3.2 0 1,0 -6.4,0M570.9,1013.5a3.2,3.2 0 1,0 6.4,0a3.2,3.2 0 1,0 -6.4,0M572.6,1019.3a3.2,3.2 0 1,0 6.4,0a3.2,3.2 0 1,0 -6.4,0M574.1,1025.1a3.2,3.2 0 1,0 6.4,0a3.2,3.2 0 1,0 -6.4,0M575.0,1031.0a3.2,3.2 0 1,0 6.4,0a3.2,3.2 0 1,0 -6.4,0M576.7,1033.4a3.2,3.2 0 1,0 6.4,0a3.2,3.2 0 1,0 -6.4,0M577.6,1027.4a3.2,3.2 0 1,0 6.4,0a3.2,3.2 0 1,0 -6.4,0M578.9,1021.6a3.2,3.2 0 1,0 6.4,0a3.2,3.2 0 1,0 -6.4,0M581.6,1016.2a3.2,3.2 0 1,0 6.4,0a3.2,3.2 0 1,0 -6.4,0M584.3,1010.9a3.2,3.2 0 1,0 6.4,0a3.2,3.2 0 1,0 -6.4,0M586.1,1005.2a3.2,3.2 0 1,0 6.4,0a3.2,3.2 0 1,0 -6.4,0M587.8,999.4a3.2,3.2 0 1,0 6.4,0a3.2,3.2 0 1,0 -6.4,0M590.3,994.0a3.2,3.2 0 1,0 6.4,0a3.2,3.2 0 1,0 -6.4,0M593.9,989.2a3.2,3.2 0 1,0 6.4,0a3.2,3.2 0 1,0 -6.4,0M598.5,985.4a3.2,3.2 0 1,0 6.4,0a3.2,3.2 0 1,0 -6.4,0M603.6,982.1a3.2,3.2 0 1,0 6.4,0a3.2,3.2 0 1,0 -6.4,0M608.8,979.2a3.2,3.2 0 1,0 6.4,0a3.2,3.2 0 1,0 -6.4,0M614.1,976.5a3.2,3.2 0 1,0 6.4,0a3.2,3.2 0 1,0 -6.4,0M619.5,973.8a3.2,3.2 0 1,0 6.4,0a3.2,3.2 0 1,0 -6.4,0M625.0,971.3a3.2,3.2 0 1,0 6.4,0a3.2,3.2 0 1,0 -6.4,0M630.4,968.8a3.2,3.2 0 1,0 6.4,0a3.2,3.2 0 1,0 -6.4,0M636.0,966.5a3.2,3.2 0 1,0 6.4,0a3.2,3.2 0 1,0 -6.4,0M641.5,964.3a3.2,3.2 0 1,0 6.4,0a3.2,3.2 0 1,0 -6.4,0M647.2,962.1a3.2,3.2 0 1,0 6.4,0a3.2,3.2 0 1,0 -6.4,0M652.8,960.1a3.2,3.2 0 1,0 6.4,0a3.2,3.2 0 1,0 -6.4,0M658.5,958.2a3.2,3.2 0 1,0 6.4,0a3.2,3.2 0 1,0 -6.4,0M664.2,956.3a3.2,3.2 0 1,0 6.4,0a3.2,3.2 0 1,0 -6.4,0M669.9,954.6a3.2,3.2 0 1,0 6.4,0a3.2,3.2 0 1,0 -6.4,0M675.7,953.0a3.2,3.2 0 1,0 6.4,0a3.2,3.2 0 1,0 -6.4,0M681.5,951.4a3.2,3.2 0 1,0 6.4,0a3.2,3.2 0 1,0 -6.4,0M687.3,949.8a3.2,3.2 0 1,0 6.4,0a3.2,3.2 0 1,0 -6.4,0M693.1,948.2a3.2,3.2 0 1,0 6.4,0a3.2,3.2 0 1,0 -6.4,0M698.9,946.7a3.2,3.2 0 1,0 6.4,0a3.2,3.2 0 1,0 -6.4,0M704.7,945.3a3.2,3.2 0 1,0 6.4,0a3.2,3.2 0 1,0 -6.4,0M710.6,944.0a3.2,3.2 0 1,0 6.4,0a3.2,3.2 0 1,0 -6.4,0M716.4,942.7a3.2,3.2 0 1,0 6.4,0a3.2,3.2 0 1,0 -6.4,0M722.3,941.5a3.2,3.2 0 1,0 6.4,0a3.2,3.2 0 1,0 -6.4,0M728.2,940.2a3.2,3.2 0 1,0 6.4,0a3.2,3.2 0 1,0 -6.4,0M734.0,939.0a3.2,3.2 0 1,0 6.4,0a3.2,3.2 0 1,0 -6.4,0M739.9,937.8a3.2,3.2 0 1,0 6.4,0a3.2,3.2 0 1,0 -6.4,0M745.8,936.6a3.2,3.2 0 1,0 6.4,0a3.2,3.2 0 1,0 -6.4,0M751.7,935.5a3.2,3.2 0 1,0 6.4,0a3.2,3.2 0 1,0 -6.4,0M757.6,934.5a3.2,3.2 0 1,0 6.4,0a3.2,3.2 0 1,0 -6.4,0M763.5,933.5a3.2,3.2 0 1,0 6.4,0a3.2,3.2 0 1,0 -6.4,0M769.4,932.5a3.2,3.2 0 1,0 6.4,0a3.2,3.2 0 1,0 -6.4,0M775.4,931.6a3.2,3.2 0 1,0 6.4,0a3.2,3.2 0 1,0 -6.4,0M781.3,930.6a3.2,3.2 0 1,0 6.4,0a3.2,3.2 0 1,0 -6.4,0M787.2,929.7a3.2,3.2 0 1,0 6.4,0a3.2,3.2 0 1,0 -6.4,0M793.2,928.9a3.2,3.2 0 1,0 6.4,0a3.2,3.2 0 1,0 -6.4,0M799.1,928.0a3.2,3.2 0 1,0 6.4,0a3.2,3.2 0 1,0 -6.4,0M805.0,927.2a3.2,3.2 0 1,0 6.4,0a3.2,3.2 0 1,0 -6.4,0M811.0,926.4a3.2,3.2 0 1,0 6.4,0a3.2,3.2 0 1,0 -6.4,0M816.9,925.6a3.2,3.2 0 1,0 6.4,0a3.2,3.2 0 1,0 -6.4,0M822.9,924.9a3.2,3.2 0 1,0 6.4,0a3.2,3.2 0 1,0 -6.4,0M828.9,924.1a3.2,3.2 0 1,0 6.4,0a3.2,3.2 0 1,0 -6.4,0M834.8,923.4a3.2,3.2 0 1,0 6.4,0a3.2,3.2 0 1,0 -6.4,0M840.8,922.8a3.2,3.2 0 1,0 6.4,0a3.2,3.2 0 1,0 -6.4,0M846.7,922.1a3.2,3.2 0 1,0 6.4,0a3.2,3.2 0 1,0 -6.4,0M852.7,921.5a3.2,3.2 0 1,0 6.4,0a3.2,3.2 0 1,0 -6.4,0M858.7,920.9a3.2,3.2 0 1,0 6.4,0a3.2,3.2 0 1,0 -6.4,0M864.6,920.3a3.2,3.2 0 1,0 6.4,0a3.2,3.2 0 1,0 -6.4,0M870.6,919.7a3.2,3.2 0 1,0 6.4,0a3.2,3.2 0 1,0 -6.4,0M876.6,919.2a3.2,3.2 0 1,0 6.4,0a3.2,3.2 0 1,0 -6.4,0M882.6,918.7a3.2,3.2 0 1,0 6.4,0a3.2,3.2 0 1,0 -6.4,0M888.6,918.3a3.2,3.2 0 1,0 6.4,0a3.2,3.2 0 1,0 -6.4,0M894.6,917.9a3.2,3.2 0 1,0 6.4,0a3.2,3.2 0 1,0 -6.4,0M900.5,917.7a3.2,3.2 0 1,0 6.4,0a3.2,3.2 0 1,0 -6.4,0M906.5,917.5a3.2,3.2 0 1,0 6.4,0a3.2,3.2 0 1,0 -6.4,0M912.5,917.3a3.2,3.2 0 1,0 6.4,0a3.2,3.2 0 1,0 -6.4,0M918.5,917.2a3.2,3.2 0 1,0 6.4,0a3.2,3.2 0 1,0 -6.4,0M924.5,917.0a3.2,3.2 0 1,0 6.4,0a3.2,3.2 0 1,0 -6.4,0" fill="none" stroke="#fff" stroke-width="0.8" opacity="0.35"/>
<circle cx="579.5" cy="1011" r="5.2" fill="#fff" stroke="#111" stroke-width="1.6"/>
<circle cx="579.5" cy="1022" r="5.2" fill="#fff" stroke="#111" stroke-width="1.6"/>
<circle cx="579.5" cy="1032" r="5.2" fill="#fff" stroke="#111" stroke-width="1.6"/>
<circle cx="579.5" cy="1042" r="5.2" fill="#fff" stroke="#111" stroke-width="1.6"/>
<circle cx="579.5" cy="1052" r="5.2" fill="#fff" stroke="#111" stroke-width="1.6"/>
<circle cx="322.7" cy="924.4" r="5.5" fill="#fff" stroke="#111" stroke-width="2"/>
<path d="M870.0,917.0 C874.2,916.2 887.5,913.2 895.0,912.0 C902.5,910.8 909.2,910.2 915.0,910.0 C920.8,909.8 927.5,910.8 930.0,911.0" fill="none" stroke="#111" stroke-width="11" stroke-linecap="round" stroke-linejoin="round" />
<path d="M233.7,1071.0 C239.8,1072.0 258.9,1075.2 270.0,1077.0 C281.1,1078.8 286.7,1079.8 300.0,1082.0 C313.3,1084.2 334.1,1087.0 350.0,1090.0 C365.9,1093.0 383.9,1096.5 395.6,1100.0 C407.3,1103.5 410.9,1107.5 420.0,1111.0 C429.1,1114.5 440.2,1117.8 450.0,1121.0 C459.8,1124.2 468.9,1124.8 478.5,1130.0 C488.1,1135.2 499.7,1145.0 507.8,1152.0 C515.9,1159.0 521.8,1165.8 527.3,1172.0 C532.8,1178.2 537.4,1183.2 541.0,1189.0 C544.6,1194.8 547.3,1201.5 549.0,1207.0 C550.7,1212.5 550.7,1219.5 551.0,1222.0" fill="none" stroke="#111" stroke-width="14" stroke-linecap="round" stroke-linejoin="round" />
<path d="M230.1,1071.0a3.6,3.6 0 1,0 7.2,0a3.6,3.6 0 1,0 -7.2,0M236.0,1072.0a3.6,3.6 0 1,0 7.2,0a3.6,3.6 0 1,0 -7.2,0M241.9,1073.0a3.6,3.6 0 1,0 7.2,0a3.6,3.6 0 1,0 -7.2,0M247.9,1073.9a3.6,3.6 0 1,0 7.2,0a3.6,3.6 0 1,0 -7.2,0M253.8,1074.9a3.6,3.6 0 1,0 7.2,0a3.6,3.6 0 1,0 -7.2,0M259.7,1075.9a3.6,3.6 0 1,0 7.2,0a3.6,3.6 0 1,0 -7.2,0M265.6,1076.9a3.6,3.6 0 1,0 7.2,0a3.6,3.6 0 1,0 -7.2,0M271.5,1077.9a3.6,3.6 0 1,0 7.2,0a3.6,3.6 0 1,0 -7.2,0M277.5,1078.9a3.6,3.6 0 1,0 7.2,0a3.6,3.6 0 1,0 -7.2,0M283.4,1079.8a3.6,3.6 0 1,0 7.2,0a3.6,3.6 0 1,0 -7.2,0M289.3,1080.8a3.6,3.6 0 1,0 7.2,0a3.6,3.6 0 1,0 -7.2,0M295.2,1081.8a3.6,3.6 0 1,0 7.2,0a3.6,3.6 0 1,0 -7.2,0M301.1,1082.8a3.6,3.6 0 1,0 7.2,0a3.6,3.6 0 1,0 -7.2,0M307.1,1083.7a3.6,3.6 0 1,0 7.2,0a3.6,3.6 0 1,0 -7.2,0M313.0,1084.6a3.6,3.6 0 1,0 7.2,0a3.6,3.6 0 1,0 -7.2,0M318.9,1085.5a3.6,3.6 0 1,0 7.2,0a3.6,3.6 0 1,0 -7.2,0M324.9,1086.4a3.6,3.6 0 1,0 7.2,0a3.6,3.6 0 1,0 -7.2,0M330.8,1087.3a3.6,3.6 0 1,0 7.2,0a3.6,3.6 0 1,0 -7.2,0M336.7,1088.3a3.6,3.6 0 1,0 7.2,0a3.6,3.6 0 1,0 -7.2,0M342.6,1089.3a3.6,3.6 0 1,0 7.2,0a3.6,3.6 0 1,0 -7.2,0M348.5,1090.4a3.6,3.6 0 1,0 7.2,0a3.6,3.6 0 1,0 -7.2,0M354.4,1091.5a3.6,3.6 0 1,0 7.2,0a3.6,3.6 0 1,0 -7.2,0M360.3,1092.7a3.6,3.6 0 1,0 7.2,0a3.6,3.6 0 1,0 -7.2,0M366.2,1093.9a3.6,3.6 0 1,0 7.2,0a3.6,3.6 0 1,0 -7.2,0M372.1,1095.1a3.6,3.6 0 1,0 7.2,0a3.6,3.6 0 1,0 -7.2,0M377.9,1096.4a3.6,3.6 0 1,0 7.2,0a3.6,3.6 0 1,0 -7.2,0M383.8,1097.8a3.6,3.6 0 1,0 7.2,0a3.6,3.6 0 1,0 -7.2,0M389.6,1099.3a3.6,3.6 0 1,0 7.2,0a3.6,3.6 0 1,0 -7.2,0M395.3,1101.1a3.6,3.6 0 1,0 7.2,0a3.6,3.6 0 1,0 -7.2,0M400.8,1103.3a3.6,3.6 0 1,0 7.2,0a3.6,3.6 0 1,0 -7.2,0M406.2,1106.0a3.6,3.6 0 1,0 7.2,0a3.6,3.6 0 1,0 -7.2,0M411.5,1108.8a3.6,3.6 0 1,0 7.2,0a3.6,3.6 0 1,0 -7.2,0M417.0,1111.2a3.6,3.6 0 1,0 7.2,0a3.6,3.6 0 1,0 -7.2,0M422.6,1113.3a3.6,3.6 0 1,0 7.2,0a3.6,3.6 0 1,0 -7.2,0M428.3,1115.2a3.6,3.6 0 1,0 7.2,0a3.6,3.6 0 1,0 -7.2,0M434.0,1117.1a3.6,3.6 0 1,0 7.2,0a3.6,3.6 0 1,0 -7.2,0M439.7,1118.9a3.6,3.6 0 1,0 7.2,0a3.6,3.6 0 1,0 -7.2,0M445.5,1120.7a3.6,3.6 0 1,0 7.2,0a3.6,3.6 0 1,0 -7.2,0M451.2,1122.4a3.6,3.6 0 1,0 7.2,0a3.6,3.6 0 1,0 -7.2,0M457.0,1123.8a3.6,3.6 0 1,0 7.2,0a3.6,3.6 0 1,0 -7.2,0M462.8,1125.3a3.6,3.6 0 1,0 7.2,0a3.6,3.6 0 1,0 -7.2,0M468.6,1127.2a3.6,3.6 0 1,0 7.2,0a3.6,3.6 0 1,0 -7.2,0M474.1,1129.6a3.6,3.6 0 1,0 7.2,0a3.6,3.6 0 1,0 -7.2,0M479.3,1132.6a3.6,3.6 0 1,0 7.2,0a3.6,3.6 0 1,0 -7.2,0M484.2,1135.9a3.6,3.6 0 1,0 7.2,0a3.6,3.6 0 1,0 -7.2,0M489.0,1139.5a3.6,3.6 0 1,0 7.2,0a3.6,3.6 0 1,0 -7.2,0M493.7,1143.2a3.6,3.6 0 1,0 7.2,0a3.6,3.6 0 1,0 -7.2,0M498.4,1147.0a3.6,3.6 0 1,0 7.2,0a3.6,3.6 0 1,0 -7.2,0M502.9,1150.9a3.6,3.6 0 1,0 7.2,0a3.6,3.6 0 1,0 -7.2,0M507.4,1154.9a3.6,3.6 0 1,0 7.2,0a3.6,3.6 0 1,0 -7.2,0M511.8,1159.1a3.6,3.6 0 1,0 7.2,0a3.6,3.6 0 1,0 -7.2,0M515.9,1163.4a3.6,3.6 0 1,0 7.2,0a3.6,3.6 0 1,0 -7.2,0M520.0,1167.8a3.6,3.6 0 1,0 7.2,0a3.6,3.6 0 1,0 -7.2,0M524.0,1172.3a3.6,3.6 0 1,0 7.2,0a3.6,3.6 0 1,0 -7.2,0M528.0,1176.8a3.6,3.6 0 1,0 7.2,0a3.6,3.6 0 1,0 -7.2,0M531.8,1181.3a3.6,3.6 0 1,0 7.2,0a3.6,3.6 0 1,0 -7.2,0M535.5,1186.1a3.6,3.6 0 1,0 7.2,0a3.6,3.6 0 1,0 -7.2,0M538.7,1191.2a3.6,3.6 0 1,0 7.2,0a3.6,3.6 0 1,0 -7.2,0M541.4,1196.5a3.6,3.6 0 1,0 7.2,0a3.6,3.6 0 1,0 -7.2,0M543.7,1202.1a3.6,3.6 0 1,0 7.2,0a3.6,3.6 0 1,0 -7.2,0M545.6,1207.7a3.6,3.6 0 1,0 7.2,0a3.6,3.6 0 1,0 -7.2,0M546.7,1213.6a3.6,3.6 0 1,0 7.2,0a3.6,3.6 0 1,0 -7.2,0M547.2,1219.6a3.6,3.6 0 1,0 7.2,0a3.6,3.6 0 1,0 -7.2,0" fill="none" stroke="#fff" stroke-width="0.8" opacity="0.25"/>
<path d="M559.5,1172.7 C564.6,1170.2 579.9,1162.5 590.0,1158.0 C600.1,1153.5 608.3,1149.4 620.0,1145.4 C631.7,1141.4 647.9,1137.5 660.0,1134.0 C672.1,1130.5 679.0,1129.1 692.7,1124.4 C706.4,1119.7 726.9,1113.5 742.4,1106.0 C757.9,1098.5 773.9,1087.0 785.5,1079.6 C797.1,1072.2 807.6,1064.4 812.0,1061.4" fill="none" stroke="#111" stroke-width="13" stroke-linecap="round" stroke-linejoin="round" />
<path d="M555.9,1172.7a3.6,3.6 0 1,0 7.2,0a3.6,3.6 0 1,0 -7.2,0M561.3,1170.1a3.6,3.6 0 1,0 7.2,0a3.6,3.6 0 1,0 -7.2,0M566.7,1167.4a3.6,3.6 0 1,0 7.2,0a3.6,3.6 0 1,0 -7.2,0M572.1,1164.8a3.6,3.6 0 1,0 7.2,0a3.6,3.6 0 1,0 -7.2,0M577.5,1162.2a3.6,3.6 0 1,0 7.2,0a3.6,3.6 0 1,0 -7.2,0M582.9,1159.6a3.6,3.6 0 1,0 7.2,0a3.6,3.6 0 1,0 -7.2,0M588.4,1157.1a3.6,3.6 0 1,0 7.2,0a3.6,3.6 0 1,0 -7.2,0M593.8,1154.6a3.6,3.6 0 1,0 7.2,0a3.6,3.6 0 1,0 -7.2,0M599.3,1152.2a3.6,3.6 0 1,0 7.2,0a3.6,3.6 0 1,0 -7.2,0M604.8,1149.8a3.6,3.6 0 1,0 7.2,0a3.6,3.6 0 1,0 -7.2,0M610.4,1147.6a3.6,3.6 0 1,0 7.2,0a3.6,3.6 0 1,0 -7.2,0M616.0,1145.5a3.6,3.6 0 1,0 7.2,0a3.6,3.6 0 1,0 -7.2,0M621.7,1143.7a3.6,3.6 0 1,0 7.2,0a3.6,3.6 0 1,0 -7.2,0M627.5,1142.0a3.6,3.6 0 1,0 7.2,0a3.6,3.6 0 1,0 -7.2,0M633.2,1140.3a3.6,3.6 0 1,0 7.2,0a3.6,3.6 0 1,0 -7.2,0M639.0,1138.8a3.6,3.6 0 1,0 7.2,0a3.6,3.6 0 1,0 -7.2,0M644.8,1137.2a3.6,3.6 0 1,0 7.2,0a3.6,3.6 0 1,0 -7.2,0M650.6,1135.6a3.6,3.6 0 1,0 7.2,0a3.6,3.6 0 1,0 -7.2,0M656.4,1134.0a3.6,3.6 0 1,0 7.2,0a3.6,3.6 0 1,0 -7.2,0M662.2,1132.4a3.6,3.6 0 1,0 7.2,0a3.6,3.6 0 1,0 -7.2,0M668.0,1130.8a3.6,3.6 0 1,0 7.2,0a3.6,3.6 0 1,0 -7.2,0M673.7,1129.2a3.6,3.6 0 1,0 7.2,0a3.6,3.6 0 1,0 -7.2,0M679.5,1127.5a3.6,3.6 0 1,0 7.2,0a3.6,3.6 0 1,0 -7.2,0M685.2,1125.7a3.6,3.6 0 1,0 7.2,0a3.6,3.6 0 1,0 -7.2,0M690.9,1123.8a3.6,3.6 0 1,0 7.2,0a3.6,3.6 0 1,0 -7.2,0M696.6,1121.9a3.6,3.6 0 1,0 7.2,0a3.6,3.6 0 1,0 -7.2,0M702.3,1120.0a3.6,3.6 0 1,0 7.2,0a3.6,3.6 0 1,0 -7.2,0M708.0,1118.1a3.6,3.6 0 1,0 7.2,0a3.6,3.6 0 1,0 -7.2,0M713.6,1116.1a3.6,3.6 0 1,0 7.2,0a3.6,3.6 0 1,0 -7.2,0M719.3,1114.1a3.6,3.6 0 1,0 7.2,0a3.6,3.6 0 1,0 -7.2,0M724.9,1112.0a3.6,3.6 0 1,0 7.2,0a3.6,3.6 0 1,0 -7.2,0M730.5,1109.7a3.6,3.6 0 1,0 7.2,0a3.6,3.6 0 1,0 -7.2,0M736.0,1107.3a3.6,3.6 0 1,0 7.2,0a3.6,3.6 0 1,0 -7.2,0M741.4,1104.7a3.6,3.6 0 1,0 7.2,0a3.6,3.6 0 1,0 -7.2,0M746.7,1101.9a3.6,3.6 0 1,0 7.2,0a3.6,3.6 0 1,0 -7.2,0M751.9,1098.9a3.6,3.6 0 1,0 7.2,0a3.6,3.6 0 1,0 -7.2,0M757.0,1095.8a3.6,3.6 0 1,0 7.2,0a3.6,3.6 0 1,0 -7.2,0M762.1,1092.6a3.6,3.6 0 1,0 7.2,0a3.6,3.6 0 1,0 -7.2,0M767.1,1089.3a3.6,3.6 0 1,0 7.2,0a3.6,3.6 0 1,0 -7.2,0M772.1,1086.0a3.6,3.6 0 1,0 7.2,0a3.6,3.6 0 1,0 -7.2,0M777.1,1082.7a3.6,3.6 0 1,0 7.2,0a3.6,3.6 0 1,0 -7.2,0M782.1,1079.4a3.6,3.6 0 1,0 7.2,0a3.6,3.6 0 1,0 -7.2,0M787.2,1076.2a3.6,3.6 0 1,0 7.2,0a3.6,3.6 0 1,0 -7.2,0M792.1,1072.8a3.6,3.6 0 1,0 7.2,0a3.6,3.6 0 1,0 -7.2,0M797.1,1069.4a3.6,3.6 0 1,0 7.2,0a3.6,3.6 0 1,0 -7.2,0M802.0,1065.9a3.6,3.6 0 1,0 7.2,0a3.6,3.6 0 1,0 -7.2,0M806.9,1062.5a3.6,3.6 0 1,0 7.2,0a3.6,3.6 0 1,0 -7.2,0" fill="none" stroke="#fff" stroke-width="0.8" opacity="0.25"/>
<path d="M551.7,1215.0 L551.7,1258.0" fill="none" stroke="#111" stroke-width="2" />
<path d="M813.5,1061.0 L813.5,1013.0 L820.0,995.0 L825.0,915.0" fill="none" stroke="#111" stroke-width="2" />
<circle cx="551.7" cy="1264.4" r="5.3" fill="#fff" stroke="#111" stroke-width="2.4"/>
<circle cx="521.5" cy="1189.3" r="5.8" fill="#fff" stroke="#111" stroke-width="2.4"/>
<circle cx="445" cy="1116" r="5.8" fill="#fff" stroke="#111" stroke-width="2.4"/>
<circle cx="455" cy="1109" r="5.8" fill="#fff" stroke="#111" stroke-width="2.4"/>
<circle cx="466" cy="1120" r="5.8" fill="#fff" stroke="#111" stroke-width="2.4"/>
<circle cx="476" cy="1127" r="5.3" fill="#fff" stroke="#111" stroke-width="2.4"/>
<circle cx="490" cy="1133" r="5.3" fill="#fff" stroke="#111" stroke-width="2.4"/>
<circle cx="510" cy="1150" r="5.8" fill="#fff" stroke="#111" stroke-width="2.4"/>
<circle cx="520" cy="1158" r="5.8" fill="#fff" stroke="#111" stroke-width="2.4"/>
<circle cx="527" cy="1165" r="5.8" fill="#fff" stroke="#111" stroke-width="2.4"/>
<circle cx="531" cy="1174" r="5.3" fill="#fff" stroke="#111" stroke-width="2.4"/>
<circle cx="537" cy="1183" r="5.3" fill="#fff" stroke="#111" stroke-width="2.4"/>
<circle cx="545" cy="1190" r="5.3" fill="#fff" stroke="#111" stroke-width="2.4"/>
<circle cx="523.4" cy="1201" r="5.8" fill="#fff" stroke="#111" stroke-width="2.4"/>
<circle cx="560.5" cy="1197" r="5.8" fill="#fff" stroke="#111" stroke-width="2.4"/>
<circle cx="556.6" cy="1218.5" r="5.8" fill="#fff" stroke="#111" stroke-width="2.4"/>
<circle cx="548" cy="1200" r="5.3" fill="#fff" stroke="#111" stroke-width="2.4"/>
<circle cx="813.7" cy="1013.3" r="5.3" fill="#fff" stroke="#111" stroke-width="2.4"/>
<circle cx="813.7" cy="1031.5" r="5.3" fill="#fff" stroke="#111" stroke-width="2.4"/>
<circle cx="812" cy="1059.7" r="5.3" fill="#fff" stroke="#111" stroke-width="2.4"/>
<circle cx="825" cy="910.8" r="5.3" fill="#fff" stroke="#111" stroke-width="2.4"/>
<circle cx="829.6" cy="987.3" r="5.3" fill="#fff" stroke="#111" stroke-width="2.4"/>
<circle cx="820" cy="995" r="5.3" fill="#fff" stroke="#111" stroke-width="2.4"/>
<circle cx="560" cy="1166" r="4.8" fill="#fff" stroke="#111" stroke-width="2.4"/>
<path d="M515,903 C502,894 480,886 450,881 C420,877 370,875 322,878" fill="none" stroke="#111" stroke-width="6" stroke-linecap="round"/>
<path d="M281.5,885.4 L322.4,869.3 L325.4,892.7 Z" fill="#111"/>
<path d="M932,892.5 L862,897.5 L812,902.5 L762,909 L712,916 L684,921" fill="none" stroke="#111" stroke-width="7" stroke-linecap="round"/>
<path d="M646.3,936 L680.4,907.3 L688,926.4 Z" fill="#111"/>
<path d="M267.5,1117 C320,1121 370,1130 400,1137.5 C420,1143 440,1150 452,1159" fill="none" stroke="#111" stroke-width="5.5" stroke-linecap="round"/>
<path d="M447.5,1160 L470,1157.5 L467.5,1200 Z" fill="#111"/>
<path d="M596.5,1207.3 C625,1185 660,1165 720,1148 C760,1137 790,1128 812,1122" fill="none" stroke="#111" stroke-width="6.5" stroke-linecap="round"/>
<path d="M810.4,1102.8 L810.4,1126 L855.2,1112.8 Z" fill="#111"/>
<line x1="672" y1="1208.2" x2="694.5" y2="1208.2" stroke="#f06262" stroke-width="2"/>
<line x1="718.9" y1="1208.2" x2="741.4" y2="1208.2" stroke="#f06262" stroke-width="2"/>
<rect x="704.6" y="1205.2" width="6" height="6" fill="#fff" stroke="#f06262" stroke-width="1.8"/>
<text x="749" y="1217.0" font-size="24" font-weight="bold" fill="#1a1a1a" textLength="150" lengthAdjust="spacingAndGlyphs">Au 0.44 wt%</text>
<text x="914" y="1217.0" font-size="24" font-weight="bold" fill="#1a1a1a" textLength="69.7" lengthAdjust="spacingAndGlyphs">Glass</text>
<line x1="672" y1="1243.9" x2="694.5" y2="1243.9" stroke="#22a050" stroke-width="2"/>
<line x1="718.9" y1="1243.9" x2="741.4" y2="1243.9" stroke="#22a050" stroke-width="2"/>
<rect x="704.6" y="1240.9" width="6" height="6" fill="#fff" stroke="#22a050" stroke-width="2"/>
<text x="749" y="1252.7" font-size="24" font-weight="bold" fill="#1a1a1a" textLength="150" lengthAdjust="spacingAndGlyphs">Au 0.48 wt%</text>
<text x="914" y="1252.7" font-size="24" font-weight="bold" fill="#1a1a1a" textLength="49" lengthAdjust="spacingAndGlyphs">PET</text>
<line x1="672" y1="1280.7" x2="694.5" y2="1280.7" stroke="#333" stroke-width="2"/>
<line x1="718.9" y1="1280.7" x2="741.4" y2="1280.7" stroke="#333" stroke-width="2"/>
<circle cx="707.6" cy="1280.7" r="6.3" fill="#fff" stroke="#333" stroke-width="2"/>
<line x1="694.5" y1="1280.7" x2="701.3" y2="1280.7" stroke="#333" stroke-width="2"/>
<line x1="713.9" y1="1280.7" x2="718.9" y2="1280.7" stroke="#333" stroke-width="2"/>
<text x="749" y="1289.5" font-size="24" font-weight="bold" fill="#1a1a1a" textLength="150" lengthAdjust="spacingAndGlyphs">Au 0.44 wt%</text>
<text x="914" y="1289.5" font-size="24" font-weight="bold" fill="#1a1a1a" textLength="49" lengthAdjust="spacingAndGlyphs">PET</text>
<line x1="672" y1="1317.1" x2="694.5" y2="1317.1" stroke="#5060b8" stroke-width="2"/>
<line x1="718.9" y1="1317.1" x2="741.4" y2="1317.1" stroke="#5060b8" stroke-width="2"/>
<path d="M703.1,1313.6 L712.1,1313.6 L707.6,1321.6 Z" fill="#fff" stroke="#5060b8" stroke-width="1.6"/>
<text x="749" y="1325.8999999999999" font-size="24" font-weight="bold" fill="#1a1a1a" textLength="150" lengthAdjust="spacingAndGlyphs">Au 0.36 wt%</text>
<text x="914" y="1325.8999999999999" font-size="24" font-weight="bold" fill="#1a1a1a" textLength="49" lengthAdjust="spacingAndGlyphs">PET</text>
<defs><clipPath id="clipA"><rect x="165" y="22" width="844" height="606"/></clipPath></defs><g clip-path="url(#clipA)">
<path d="M165.0,271.0 L167.1,271.0 L169.2,270.9 L171.3,270.8 L173.5,270.7 L175.6,270.7 L177.7,270.6 L179.8,270.5 L181.9,270.4 L184.0,270.3 L186.2,270.3 L188.3,270.2 L190.4,270.1 L192.5,270.0 L194.6,269.9 L196.7,269.8 L198.8,269.7 L201.0,269.6 L203.1,269.5 L205.2,269.4 L207.3,269.3 L209.4,269.2 L211.5,269.1 L213.7,269.0 L215.8,268.9 L217.9,268.8 L220.0,268.7 L222.1,268.5 L224.2,268.4 L226.3,268.3 L228.5,268.2 L230.6,268.1 L232.7,268.0 L234.8,267.8 L236.9,267.7 L239.0,267.6 L241.2,267.5 L243.3,267.3 L245.4,267.2 L247.5,267.1 L249.6,267.0 L251.7,266.8 L253.8,266.7 L256.0,266.5 L258.1,266.4 L260.2,266.2 L262.3,266.1 L264.4,265.9 L266.5,265.7 L268.6,265.5 L270.8,265.3 L272.9,265.1 L275.0,264.9 L277.1,264.7 L279.2,264.5 L281.3,264.3 L283.5,264.2 L285.6,264.0 L287.7,263.8 L289.8,263.6 L291.9,263.4 L294.0,263.3 L296.1,263.1 L298.3,262.9 L300.4,262.8 L302.5,262.7 L304.6,262.5 L306.7,262.4 L308.8,262.3 L311.0,262.2 L313.1,262.1 L315.2,262.0 L317.3,262.0 L319.4,261.9 L321.5,261.8 L323.6,261.7 L325.8,261.7 L327.9,261.6 L330.0,261.5 L332.1,261.5 L334.2,261.4 L336.3,261.4 L338.5,261.4 L340.6,261.3 L342.7,261.3 L344.8,261.3 L346.9,261.4 L349.0,261.5 L351.1,261.7 L353.3,262.0 L355.4,262.3 L357.5,262.7 L359.6,263.1 L361.7,263.6 L363.8,264.1 L366.0,264.7 L368.1,265.9 L370.2,267.5 L372.3,269.3 L374.4,271.0 L376.5,272.3 L378.6,273.4 L380.8,274.6 L382.9,275.8 L385.0,277.3 L387.1,279.0 L389.2,281.2 L391.3,283.7 L393.5,286.3 L395.6,289.0 L397.7,291.6 L399.8,294.2 L401.9,296.9 L404.0,299.9 L406.1,303.4 L408.3,307.7 L410.4,312.9 L412.5,318.5 L414.6,324.2 L416.7,329.5 L418.8,334.4 L420.9,339.3 L423.1,344.2 L425.2,349.3 L427.3,354.8 L429.4,360.9 L431.5,367.4 L433.6,374.3 L435.8,381.4 L437.9,388.5 L440.0,395.7 L442.1,402.9 L444.2,410.3 L446.3,417.8 L448.4,425.4 L450.6,433.2 L452.7,441.4 L454.8,449.6 L456.9,457.4 L459.0,464.3 L461.1,470.4 L463.3,476.2 L465.4,481.7 L467.5,486.8 L469.6,491.4 L471.7,495.7 L473.8,499.5 L475.9,502.9 L478.1,506.2 L480.2,509.5 L482.3,513.0 L484.4,516.8 L486.5,521.1 L488.6,525.4 L490.8,529.2 L492.9,532.2 L495.0,534.7 L497.1,536.9 L499.2,538.9 L501.3,540.6 L503.4,542.2 L505.6,543.6 L507.7,544.8 L509.8,545.9 L511.9,546.8 L514.0,547.6 L516.1,548.4 L518.3,549.1 L520.4,549.8 L522.5,550.5 L524.6,551.1 L526.7,551.7 L528.8,552.3 L530.9,552.8 L533.1,553.3 L535.2,553.8 L537.3,554.3 L539.4,554.7 L541.5,555.1 L543.6,555.5 L545.8,555.8 L547.9,556.1 L550.0,556.5 L552.1,556.8 L554.2,557.1 L556.3,557.4 L558.4,557.6 L560.6,557.9 L562.7,558.1 L564.8,558.4 L566.9,558.6 L569.0,558.8 L571.1,559.1 L573.3,559.3 L575.4,559.5 L577.5,559.7 L579.6,559.9 L581.7,560.1 L583.8,560.2 L585.9,560.4 L588.1,560.6 L590.2,560.8 L592.3,560.9 L594.4,561.1 L596.5,561.3 L598.6,561.5 L600.7,561.6 L602.9,561.8 L605.0,562.0 L607.1,562.1 L609.2,562.3 L611.3,562.4 L613.4,562.6 L615.6,562.8 L617.7,562.9 L619.8,563.1 L621.9,563.2 L624.0,563.4 L626.1,563.5 L628.2,563.7 L630.4,563.8 L632.5,563.9 L634.6,564.1 L636.7,564.2 L638.8,564.3 L640.9,564.5 L643.1,564.6 L645.2,564.7 L647.3,564.9 L649.4,565.0 L651.5,565.1 L653.6,565.2 L655.7,565.3 L657.9,565.5 L660.0,565.6 L662.1,565.7 L664.2,565.8 L666.3,565.9 L668.4,566.0 L670.6,566.1 L672.7,566.2 L674.8,566.3 L676.9,566.4 L679.0,566.5 L681.1,566.6 L683.2,566.6 L685.4,566.7 L687.5,566.8 L689.6,566.9 L691.7,566.9 L693.8,567.0 L695.9,567.1 L698.1,567.2 L700.2,567.2 L702.3,567.3 L704.4,567.4 L706.5,567.4 L708.6,567.5 L710.7,567.6 L712.9,567.6 L715.0,567.7 L717.1,567.7 L719.2,567.8 L721.3,567.9 L723.4,567.9 L725.6,568.0 L727.7,568.0 L729.8,568.1 L731.9,568.2 L734.0,568.2 L736.1,568.3 L738.2,568.3 L740.4,568.4 L742.5,568.4 L744.6,568.5 L746.7,568.6 L748.8,568.6 L750.9,568.7 L753.1,568.7 L755.2,568.8 L757.3,568.8 L759.4,568.9 L761.5,568.9 L763.6,569.0 L765.7,569.0 L767.9,569.0 L770.0,569.1 L772.1,569.1 L774.2,569.2 L776.3,569.2 L778.4,569.3 L780.5,569.3 L782.7,569.4 L784.8,569.4 L786.9,569.4 L789.0,569.5 L791.1,569.5 L793.2,569.5 L795.4,569.6 L797.5,569.6 L799.6,569.7 L801.7,569.7 L803.8,569.7 L805.9,569.8 L808.0,569.8 L810.2,569.8 L812.3,569.9 L814.4,569.9 L816.5,569.9 L818.6,569.9 L820.7,570.0 L822.9,570.0 L825.0,570.0 L827.1,570.1 L829.2,570.1 L831.3,570.1 L833.4,570.1 L835.5,570.2 L837.7,570.2 L839.8,570.2 L841.9,570.2 L844.0,570.3 L846.1,570.3 L848.2,570.3 L850.4,570.3 L852.5,570.3 L854.6,570.4 L856.7,570.4 L858.8,570.4 L860.9,570.4 L863.0,570.4 L865.2,570.5 L867.3,570.5 L869.4,570.5 L871.5,570.5 L873.6,570.5 L875.7,570.6 L877.9,570.6 L880.0,570.6 L882.1,570.6 L884.2,570.7 L886.3,570.7 L888.4,570.7 L890.5,570.7 L892.7,570.7 L894.8,570.7 L896.9,570.8 L899.0,570.8 L901.1,570.8 L903.2,570.8 L905.4,570.8 L907.5,570.9 L909.6,570.9 L911.7,570.9 L913.8,570.9 L915.9,570.9 L918.0,570.9 L920.2,571.0 L922.3,571.0 L924.4,571.0 L926.5,571.0 L928.6,571.0 L930.7,571.0 L932.8,571.1 L935.0,571.1 L937.1,571.1 L939.2,571.1 L941.3,571.1 L943.4,571.1 L945.5,571.1 L947.7,571.2 L949.8,571.2 L951.9,571.2 L954.0,571.2 L956.1,571.2 L958.2,571.2 L960.3,571.2 L962.5,571.2 L964.6,571.2 L966.7,571.2 L968.8,571.3 L970.9,571.3 L973.0,571.3 L975.2,571.3 L977.3,571.3 L979.4,571.3 L981.5,571.3 L983.6,571.3 L985.7,571.3 L987.8,571.3 L990.0,571.3 L992.1,571.3 L994.2,571.3 L996.3,571.3 L998.4,571.3 L1000.5,571.3 L1002.7,571.3 L1004.8,571.3 L1006.9,571.3 L1009.0,571.3" fill="none" stroke="#4450c0" stroke-width="1.6"/>
<path d="M165.0,277.5 L167.1,277.4 L169.2,277.3 L171.3,277.2 L173.5,277.1 L175.6,277.1 L177.7,277.0 L179.8,276.9 L181.9,276.8 L184.0,276.8 L186.2,276.7 L188.3,276.7 L190.4,276.6 L192.5,276.5 L194.6,276.5 L196.7,276.4 L198.8,276.4 L201.0,276.3 L203.1,276.3 L205.2,276.3 L207.3,276.2 L209.4,276.2 L211.5,276.1 L213.7,276.1 L215.8,276.1 L217.9,276.1 L220.0,276.0 L222.1,276.0 L224.2,276.0 L226.3,276.0 L228.5,276.0 L230.6,275.9 L232.7,275.9 L234.8,275.9 L236.9,275.9 L239.0,275.9 L241.2,275.9 L243.3,275.9 L245.4,275.9 L247.5,275.9 L249.6,275.9 L251.7,275.9 L253.8,275.9 L256.0,275.9 L258.1,275.9 L260.2,275.9 L262.3,276.0 L264.4,276.0 L266.5,276.0 L268.6,276.0 L270.8,276.1 L272.9,276.1 L275.0,276.2 L277.1,276.2 L279.2,276.3 L281.3,276.3 L283.5,276.4 L285.6,276.5 L287.7,276.5 L289.8,276.6 L291.9,276.7 L294.0,276.9 L296.1,277.1 L298.3,277.4 L300.4,277.8 L302.5,278.2 L304.6,278.7 L306.7,279.2 L308.8,279.8 L311.0,280.3 L313.1,280.8 L315.2,281.3 L317.3,281.8 L319.4,282.4 L321.5,283.2 L323.6,284.2 L325.8,286.3 L327.9,289.4 L330.0,293.2 L332.1,297.1 L334.2,300.8 L336.3,304.4 L338.5,308.2 L340.6,312.0 L342.7,316.1 L344.8,320.5 L346.9,325.2 L349.0,330.2 L351.1,335.5 L353.3,341.0 L355.4,346.7 L357.5,352.8 L359.6,359.2 L361.7,365.8 L363.8,372.6 L366.0,379.4 L368.1,386.4 L370.2,393.5 L372.3,400.7 L374.4,408.0 L376.5,415.1 L378.6,422.3 L380.8,429.4 L382.9,436.5 L385.0,443.7 L387.1,450.8 L389.2,458.1 L391.3,465.6 L393.5,472.9 L395.6,479.8 L397.7,486.2 L399.8,492.3 L401.9,498.1 L404.0,503.5 L406.1,508.6 L408.3,513.3 L410.4,517.7 L412.5,521.9 L414.6,525.8 L416.7,529.3 L418.8,532.2 L420.9,534.9 L423.1,537.4 L425.2,539.6 L427.3,541.5 L429.4,543.2 L431.5,544.8 L433.6,546.2 L435.8,547.5 L437.9,548.6 L440.0,549.5 L442.1,550.3 L444.2,551.0 L446.3,551.7 L448.4,552.3 L450.6,552.8 L452.7,553.3 L454.8,553.8 L456.9,554.2 L459.0,554.5 L461.1,554.9 L463.3,555.2 L465.4,555.5 L467.5,555.8 L469.6,556.1 L471.7,556.3 L473.8,556.5 L475.9,556.8 L478.1,557.0 L480.2,557.2 L482.3,557.3 L484.4,557.5 L486.5,557.7 L488.6,557.8 L490.8,558.0 L492.9,558.1 L495.0,558.3 L497.1,558.4 L499.2,558.6 L501.3,558.7 L503.4,558.9 L505.6,559.0 L507.7,559.1 L509.8,559.3 L511.9,559.4 L514.0,559.5 L516.1,559.6 L518.3,559.7 L520.4,559.8 L522.5,560.0 L524.6,560.1 L526.7,560.2 L528.8,560.3 L530.9,560.4 L533.1,560.5 L535.2,560.6 L537.3,560.7 L539.4,560.8 L541.5,560.9 L543.6,561.0 L545.8,561.1 L547.9,561.2 L550.0,561.3 L552.1,561.3 L554.2,561.4 L556.3,561.5 L558.4,561.6 L560.6,561.7 L562.7,561.8 L564.8,561.9 L566.9,562.0 L569.0,562.1 L571.1,562.2 L573.3,562.3 L575.4,562.4 L577.5,562.5 L579.6,562.6 L581.7,562.7 L583.8,562.8 L585.9,562.9 L588.1,563.0 L590.2,563.1 L592.3,563.2 L594.4,563.3 L596.5,563.4 L598.6,563.5 L600.7,563.6 L602.9,563.7 L605.0,563.9 L607.1,564.0 L609.2,564.1 L611.3,564.2 L613.4,564.3 L615.6,564.4 L617.7,564.5 L619.8,564.6 L621.9,564.7 L624.0,564.8 L626.1,565.0 L628.2,565.1 L630.4,565.2 L632.5,565.3 L634.6,565.4 L636.7,565.5 L638.8,565.6 L640.9,565.7 L643.1,565.8 L645.2,565.9 L647.3,566.0 L649.4,566.1 L651.5,566.2 L653.6,566.3 L655.7,566.4 L657.9,566.5 L660.0,566.6 L662.1,566.7 L664.2,566.8 L666.3,566.9 L668.4,567.0 L670.6,567.0 L672.7,567.1 L674.8,567.2 L676.9,567.3 L679.0,567.4 L681.1,567.4 L683.2,567.5 L685.4,567.6 L687.5,567.6 L689.6,567.7 L691.7,567.8 L693.8,567.8 L695.9,567.9 L698.1,567.9 L700.2,568.0 L702.3,568.0 L704.4,568.1 L706.5,568.2 L708.6,568.2 L710.7,568.3 L712.9,568.3 L715.0,568.4 L717.1,568.4 L719.2,568.5 L721.3,568.5 L723.4,568.6 L725.6,568.6 L727.7,568.7 L729.8,568.7 L731.9,568.7 L734.0,568.8 L736.1,568.8 L738.2,568.9 L740.4,568.9 L742.5,569.0 L744.6,569.0 L746.7,569.0 L748.8,569.1 L750.9,569.1 L753.1,569.2 L755.2,569.2 L757.3,569.2 L759.4,569.3 L761.5,569.3 L763.6,569.3 L765.7,569.4 L767.9,569.4 L770.0,569.5 L772.1,569.5 L774.2,569.5 L776.3,569.6 L778.4,569.6 L780.5,569.6 L782.7,569.7 L784.8,569.7 L786.9,569.7 L789.0,569.8 L791.1,569.8 L793.2,569.8 L795.4,569.8 L797.5,569.9 L799.6,569.9 L801.7,569.9 L803.8,570.0 L805.9,570.0 L808.0,570.0 L810.2,570.1 L812.3,570.1 L814.4,570.1 L816.5,570.2 L818.6,570.2 L820.7,570.2 L822.9,570.2 L825.0,570.3 L827.1,570.3 L829.2,570.3 L831.3,570.4 L833.4,570.4 L835.5,570.4 L837.7,570.4 L839.8,570.5 L841.9,570.5 L844.0,570.5 L846.1,570.6 L848.2,570.6 L850.4,570.6 L852.5,570.6 L854.6,570.7 L856.7,570.7 L858.8,570.7 L860.9,570.8 L863.0,570.8 L865.2,570.8 L867.3,570.8 L869.4,570.9 L871.5,570.9 L873.6,570.9 L875.7,570.9 L877.9,571.0 L880.0,571.0 L882.1,571.0 L884.2,571.1 L886.3,571.1 L888.4,571.1 L890.5,571.1 L892.7,571.2 L894.8,571.2 L896.9,571.2 L899.0,571.2 L901.1,571.3 L903.2,571.3 L905.4,571.3 L907.5,571.3 L909.6,571.3 L911.7,571.4 L913.8,571.4 L915.9,571.4 L918.0,571.4 L920.2,571.5 L922.3,571.5 L924.4,571.5 L926.5,571.5 L928.6,571.5 L930.7,571.6 L932.8,571.6 L935.0,571.6 L937.1,571.6 L939.2,571.7 L941.3,571.7 L943.4,571.7 L945.5,571.7 L947.7,571.7 L949.8,571.7 L951.9,571.8 L954.0,571.8 L956.1,571.8 L958.2,571.8 L960.3,571.8 L962.5,571.9 L964.6,571.9 L966.7,571.9 L968.8,571.9 L970.9,571.9 L973.0,571.9 L975.2,572.0 L977.3,572.0 L979.4,572.0 L981.5,572.0 L983.6,572.0 L985.7,572.0 L987.8,572.0 L990.0,572.0 L992.1,572.1 L994.2,572.1 L996.3,572.1 L998.4,572.1 L1000.5,572.1 L1002.7,572.1 L1004.8,572.1 L1006.9,572.1 L1009.0,572.2" fill="none" stroke="#4450c0" stroke-width="1.6"/>
<path d="M165.0,275.1 L167.1,275.0 L169.2,274.9 L171.3,274.8 L173.5,274.7 L175.6,274.7 L177.7,274.6 L179.8,274.5 L181.9,274.4 L184.0,274.3 L186.2,274.2 L188.3,274.1 L190.4,274.0 L192.5,273.9 L194.6,273.8 L196.7,273.7 L198.8,273.6 L201.0,273.5 L203.1,273.4 L205.2,273.3 L207.3,273.2 L209.4,273.1 L211.5,273.0 L213.7,272.9 L215.8,272.8 L217.9,272.7 L220.0,272.6 L222.1,272.5 L224.2,272.4 L226.3,272.3 L228.5,272.2 L230.6,272.1 L232.7,271.9 L234.8,271.8 L236.9,271.7 L239.0,271.6 L241.2,271.5 L243.3,271.4 L245.4,271.3 L247.5,271.1 L249.6,271.0 L251.7,270.9 L253.8,270.8 L256.0,270.6 L258.1,270.5 L260.2,270.4 L262.3,270.3 L264.4,270.1 L266.5,270.0 L268.6,269.8 L270.8,269.7 L272.9,269.6 L275.0,269.4 L277.1,269.3 L279.2,269.1 L281.3,269.0 L283.5,268.8 L285.6,268.7 L287.7,268.5 L289.8,268.4 L291.9,268.2 L294.0,268.1 L296.1,267.9 L298.3,267.8 L300.4,267.6 L302.5,267.5 L304.6,267.3 L306.7,267.2 L308.8,267.0 L311.0,266.9 L313.1,266.7 L315.2,266.6 L317.3,266.4 L319.4,266.3 L321.5,266.2 L323.6,266.0 L325.8,265.9 L327.9,265.7 L330.0,265.6 L332.1,265.5 L334.2,265.3 L336.3,265.2 L338.5,265.1 L340.6,264.9 L342.7,264.8 L344.8,264.6 L346.9,264.4 L349.0,264.3 L351.1,264.1 L353.3,263.9 L355.4,263.8 L357.5,263.7 L359.6,263.5 L361.7,263.4 L363.8,263.3 L366.0,263.2 L368.1,263.1 L370.2,263.0 L372.3,263.0 L374.4,262.9 L376.5,262.9 L378.6,263.0 L380.8,263.1 L382.9,263.2 L385.0,263.4 L387.1,263.7 L389.2,264.0 L391.3,264.3 L393.5,264.7 L395.6,265.1 L397.7,265.5 L399.8,266.2 L401.9,267.2 L404.0,268.5 L406.1,269.9 L408.3,271.5 L410.4,273.1 L412.5,274.7 L414.6,276.5 L416.7,278.4 L418.8,280.6 L420.9,282.8 L423.1,285.3 L425.2,288.0 L427.3,290.9 L429.4,294.0 L431.5,297.4 L433.6,300.8 L435.8,304.4 L437.9,308.1 L440.0,312.0 L442.1,316.2 L444.2,320.5 L446.3,325.2 L448.4,330.1 L450.6,335.3 L452.7,340.8 L454.8,346.6 L456.9,352.8 L459.0,359.7 L461.1,367.5 L463.3,375.7 L465.4,383.9 L467.5,391.4 L469.6,398.5 L471.7,405.3 L473.8,411.9 L475.9,418.3 L478.1,424.7 L480.2,431.0 L482.3,437.2 L484.4,443.2 L486.5,449.2 L488.6,455.1 L490.8,461.1 L492.9,467.1 L495.0,473.1 L497.1,479.1 L499.2,484.9 L501.3,490.4 L503.4,495.5 L505.6,500.3 L507.7,505.0 L509.8,509.4 L511.9,513.6 L514.0,517.7 L516.1,521.6 L518.3,525.4 L520.4,528.8 L522.5,531.7 L524.6,534.3 L526.7,536.7 L528.8,538.8 L530.9,540.7 L533.1,542.5 L535.2,544.0 L537.3,545.4 L539.4,546.6 L541.5,547.8 L543.6,548.9 L545.8,550.0 L547.9,551.2 L550.0,552.3 L552.1,553.3 L554.2,554.1 L556.3,554.8 L558.4,555.4 L560.6,555.8 L562.7,556.3 L564.8,556.6 L566.9,557.0 L569.0,557.3 L571.1,557.6 L573.3,557.8 L575.4,558.1 L577.5,558.4 L579.6,558.6 L581.7,558.9 L583.8,559.1 L585.9,559.3 L588.1,559.6 L590.2,559.8 L592.3,560.0 L594.4,560.2 L596.5,560.4 L598.6,560.6 L600.7,560.8 L602.9,561.0 L605.0,561.1 L607.1,561.3 L609.2,561.5 L611.3,561.6 L613.4,561.8 L615.6,562.0 L617.7,562.1 L619.8,562.3 L621.9,562.4 L624.0,562.6 L626.1,562.7 L628.2,562.9 L630.4,563.0 L632.5,563.2 L634.6,563.3 L636.7,563.4 L638.8,563.6 L640.9,563.7 L643.1,563.8 L645.2,564.0 L647.3,564.1 L649.4,564.2 L651.5,564.4 L653.6,564.5 L655.7,564.6 L657.9,564.7 L660.0,564.9 L662.1,565.0 L664.2,565.1 L666.3,565.2 L668.4,565.3 L670.6,565.4 L672.7,565.6 L674.8,565.7 L676.9,565.8 L679.0,565.9 L681.1,566.0 L683.2,566.1 L685.4,566.2 L687.5,566.3 L689.6,566.4 L691.7,566.5 L693.8,566.6 L695.9,566.6 L698.1,566.7 L700.2,566.8 L702.3,566.9 L704.4,567.0 L706.5,567.1 L708.6,567.1 L710.7,567.2 L712.9,567.3 L715.0,567.3 L717.1,567.4 L719.2,567.5 L721.3,567.5 L723.4,567.6 L725.6,567.7 L727.7,567.7 L729.8,567.8 L731.9,567.9 L734.0,567.9 L736.1,568.0 L738.2,568.1 L740.4,568.1 L742.5,568.2 L744.6,568.3 L746.7,568.3 L748.8,568.4 L750.9,568.4 L753.1,568.5 L755.2,568.6 L757.3,568.6 L759.4,568.7 L761.5,568.7 L763.6,568.8 L765.7,568.8 L767.9,568.9 L770.0,568.9 L772.1,569.0 L774.2,569.0 L776.3,569.1 L778.4,569.1 L780.5,569.2 L782.7,569.2 L784.8,569.3 L786.9,569.3 L789.0,569.4 L791.1,569.4 L793.2,569.5 L795.4,569.5 L797.5,569.6 L799.6,569.6 L801.7,569.6 L803.8,569.7 L805.9,569.7 L808.0,569.8 L810.2,569.8 L812.3,569.8 L814.4,569.9 L816.5,569.9 L818.6,569.9 L820.7,570.0 L822.9,570.0 L825.0,570.0 L827.1,570.1 L829.2,570.1 L831.3,570.1 L833.4,570.1 L835.5,570.2 L837.7,570.2 L839.8,570.2 L841.9,570.2 L844.0,570.3 L846.1,570.3 L848.2,570.3 L850.4,570.3 L852.5,570.3 L854.6,570.4 L856.7,570.4 L858.8,570.4 L860.9,570.4 L863.0,570.4 L865.2,570.5 L867.3,570.5 L869.4,570.5 L871.5,570.5 L873.6,570.6 L875.7,570.6 L877.9,570.6 L880.0,570.6 L882.1,570.6 L884.2,570.7 L886.3,570.7 L888.4,570.7 L890.5,570.7 L892.7,570.7 L894.8,570.8 L896.9,570.8 L899.0,570.8 L901.1,570.8 L903.2,570.8 L905.4,570.8 L907.5,570.9 L909.6,570.9 L911.7,570.9 L913.8,570.9 L915.9,570.9 L918.0,571.0 L920.2,571.0 L922.3,571.0 L924.4,571.0 L926.5,571.0 L928.6,571.0 L930.7,571.0 L932.8,571.1 L935.0,571.1 L937.1,571.1 L939.2,571.1 L941.3,571.1 L943.4,571.1 L945.5,571.1 L947.7,571.2 L949.8,571.2 L951.9,571.2 L954.0,571.2 L956.1,571.2 L958.2,571.2 L960.3,571.2 L962.5,571.2 L964.6,571.2 L966.7,571.2 L968.8,571.3 L970.9,571.3 L973.0,571.3 L975.2,571.3 L977.3,571.3 L979.4,571.3 L981.5,571.3 L983.6,571.3 L985.7,571.3 L987.8,571.3 L990.0,571.3 L992.1,571.3 L994.2,571.3 L996.3,571.3 L998.4,571.3 L1000.5,571.3 L1002.7,571.3 L1004.8,571.3 L1006.9,571.3 L1009.0,571.3" fill="none" stroke="#f03a3a" stroke-width="1.6"/>
<path d="M165.0,278.3 L167.1,278.2 L169.2,278.1 L171.3,278.0 L173.5,278.0 L175.6,277.9 L177.7,277.8 L179.8,277.7 L181.9,277.7 L184.0,277.6 L186.2,277.5 L188.3,277.5 L190.4,277.4 L192.5,277.3 L194.6,277.3 L196.7,277.2 L198.8,277.2 L201.0,277.1 L203.1,277.1 L205.2,277.1 L207.3,277.0 L209.4,277.0 L211.5,277.0 L213.7,276.9 L215.8,276.9 L217.9,276.9 L220.0,276.8 L222.1,276.8 L224.2,276.8 L226.3,276.8 L228.5,276.8 L230.6,276.7 L232.7,276.7 L234.8,276.7 L236.9,276.7 L239.0,276.7 L241.2,276.7 L243.3,276.7 L245.4,276.7 L247.5,276.7 L249.6,276.7 L251.7,276.7 L253.8,276.7 L256.0,276.7 L258.1,276.7 L260.2,276.7 L262.3,276.8 L264.4,276.8 L266.5,276.8 L268.6,276.9 L270.8,276.9 L272.9,276.9 L275.0,277.0 L277.1,277.0 L279.2,277.1 L281.3,277.1 L283.5,277.2 L285.6,277.3 L287.7,277.4 L289.8,277.4 L291.9,277.5 L294.0,277.7 L296.1,278.0 L298.3,278.4 L300.4,278.9 L302.5,279.5 L304.6,280.1 L306.7,280.7 L308.8,281.3 L311.0,281.9 L313.1,282.4 L315.2,282.9 L317.3,283.2 L319.4,283.7 L321.5,284.2 L323.6,285.1 L325.8,287.1 L327.9,290.1 L330.0,293.9 L332.1,298.0 L334.2,301.9 L336.3,305.3 L338.5,308.3 L340.6,311.2 L342.7,314.1 L344.8,317.4 L346.9,321.2 L349.0,325.5 L351.1,330.3 L353.3,335.6 L355.4,341.4 L357.5,348.1 L359.6,355.4 L361.7,363.0 L363.8,370.4 L366.0,377.2 L368.1,383.6 L370.2,389.9 L372.3,396.1 L374.4,402.5 L376.5,409.2 L378.6,416.2 L380.8,423.3 L382.9,430.5 L385.0,437.7 L387.1,444.9 L389.2,452.1 L391.3,459.4 L393.5,466.7 L395.6,473.8 L397.7,481.0 L399.8,488.2 L401.9,495.3 L404.0,501.8 L406.1,507.6 L408.3,513.1 L410.4,518.3 L412.5,523.0 L414.6,527.0 L416.7,530.2 L418.8,533.0 L420.9,535.6 L423.1,537.8 L425.2,539.8 L427.3,541.6 L429.4,543.2 L431.5,544.6 L433.6,545.9 L435.8,547.1 L437.9,548.2 L440.0,549.2 L442.1,550.2 L444.2,551.1 L446.3,552.0 L448.4,552.7 L450.6,553.2 L452.7,553.7 L454.8,554.1 L456.9,554.4 L459.0,554.8 L461.1,555.1 L463.3,555.4 L465.4,555.7 L467.5,555.9 L469.6,556.1 L471.7,556.4 L473.8,556.6 L475.9,556.8 L478.1,557.0 L480.2,557.2 L482.3,557.3 L484.4,557.5 L486.5,557.7 L488.6,557.9 L490.8,558.1 L492.9,558.2 L495.0,558.4 L497.1,558.6 L499.2,558.7 L501.3,558.9 L503.4,559.1 L505.6,559.2 L507.7,559.4 L509.8,559.5 L511.9,559.7 L514.0,559.8 L516.1,559.9 L518.3,560.1 L520.4,560.2 L522.5,560.4 L524.6,560.5 L526.7,560.6 L528.8,560.7 L530.9,560.9 L533.1,561.0 L535.2,561.1 L537.3,561.2 L539.4,561.4 L541.5,561.5 L543.6,561.6 L545.8,561.7 L547.9,561.8 L550.0,561.9 L552.1,562.0 L554.2,562.1 L556.3,562.3 L558.4,562.4 L560.6,562.5 L562.7,562.6 L564.8,562.7 L566.9,562.8 L569.0,562.9 L571.1,563.0 L573.3,563.1 L575.4,563.2 L577.5,563.3 L579.6,563.4 L581.7,563.5 L583.8,563.6 L585.9,563.7 L588.1,563.8 L590.2,563.9 L592.3,564.0 L594.4,564.1 L596.5,564.2 L598.6,564.3 L600.7,564.4 L602.9,564.5 L605.0,564.6 L607.1,564.7 L609.2,564.8 L611.3,564.9 L613.4,564.9 L615.6,565.0 L617.7,565.1 L619.8,565.2 L621.9,565.3 L624.0,565.4 L626.1,565.5 L628.2,565.6 L630.4,565.7 L632.5,565.8 L634.6,565.8 L636.7,565.9 L638.8,566.0 L640.9,566.1 L643.1,566.2 L645.2,566.2 L647.3,566.3 L649.4,566.4 L651.5,566.5 L653.6,566.6 L655.7,566.6 L657.9,566.7 L660.0,566.8 L662.1,566.9 L664.2,566.9 L666.3,567.0 L668.4,567.1 L670.6,567.1 L672.7,567.2 L674.8,567.3 L676.9,567.3 L679.0,567.4 L681.1,567.5 L683.2,567.5 L685.4,567.6 L687.5,567.6 L689.6,567.7 L691.7,567.8 L693.8,567.8 L695.9,567.9 L698.1,567.9 L700.2,568.0 L702.3,568.0 L704.4,568.1 L706.5,568.1 L708.6,568.2 L710.7,568.2 L712.9,568.3 L715.0,568.3 L717.1,568.4 L719.2,568.4 L721.3,568.5 L723.4,568.5 L725.6,568.6 L727.7,568.6 L729.8,568.7 L731.9,568.7 L734.0,568.8 L736.1,568.8 L738.2,568.9 L740.4,568.9 L742.5,568.9 L744.6,569.0 L746.7,569.0 L748.8,569.1 L750.9,569.1 L753.1,569.1 L755.2,569.2 L757.3,569.2 L759.4,569.3 L761.5,569.3 L763.6,569.3 L765.7,569.4 L767.9,569.4 L770.0,569.4 L772.1,569.5 L774.2,569.5 L776.3,569.6 L778.4,569.6 L780.5,569.6 L782.7,569.7 L784.8,569.7 L786.9,569.7 L789.0,569.8 L791.1,569.8 L793.2,569.8 L795.4,569.8 L797.5,569.9 L799.6,569.9 L801.7,569.9 L803.8,570.0 L805.9,570.0 L808.0,570.0 L810.2,570.1 L812.3,570.1 L814.4,570.1 L816.5,570.2 L818.6,570.2 L820.7,570.2 L822.9,570.2 L825.0,570.3 L827.1,570.3 L829.2,570.3 L831.3,570.4 L833.4,570.4 L835.5,570.4 L837.7,570.4 L839.8,570.5 L841.9,570.5 L844.0,570.5 L846.1,570.6 L848.2,570.6 L850.4,570.6 L852.5,570.6 L854.6,570.7 L856.7,570.7 L858.8,570.7 L860.9,570.8 L863.0,570.8 L865.2,570.8 L867.3,570.8 L869.4,570.9 L871.5,570.9 L873.6,570.9 L875.7,570.9 L877.9,571.0 L880.0,571.0 L882.1,571.0 L884.2,571.1 L886.3,571.1 L888.4,571.1 L890.5,571.1 L892.7,571.2 L894.8,571.2 L896.9,571.2 L899.0,571.2 L901.1,571.3 L903.2,571.3 L905.4,571.3 L907.5,571.3 L909.6,571.3 L911.7,571.4 L913.8,571.4 L915.9,571.4 L918.0,571.4 L920.2,571.5 L922.3,571.5 L924.4,571.5 L926.5,571.5 L928.6,571.5 L930.7,571.6 L932.8,571.6 L935.0,571.6 L937.1,571.6 L939.2,571.7 L941.3,571.7 L943.4,571.7 L945.5,571.7 L947.7,571.7 L949.8,571.7 L951.9,571.8 L954.0,571.8 L956.1,571.8 L958.2,571.8 L960.3,571.8 L962.5,571.9 L964.6,571.9 L966.7,571.9 L968.8,571.9 L970.9,571.9 L973.0,571.9 L975.2,572.0 L977.3,572.0 L979.4,572.0 L981.5,572.0 L983.6,572.0 L985.7,572.0 L987.8,572.0 L990.0,572.0 L992.1,572.1 L994.2,572.1 L996.3,572.1 L998.4,572.1 L1000.5,572.1 L1002.7,572.1 L1004.8,572.1 L1006.9,572.1 L1009.0,572.2" fill="none" stroke="#f03a3a" stroke-width="1.6"/>
<path d="M165.0,281.5 L167.1,281.5 L169.2,281.4 L171.3,281.4 L173.5,281.3 L175.6,281.3 L177.7,281.2 L179.8,281.2 L181.9,281.1 L184.0,281.1 L186.2,281.1 L188.3,281.0 L190.4,281.0 L192.5,281.0 L194.6,281.0 L196.7,280.9 L198.8,280.9 L201.0,280.9 L203.1,280.9 L205.2,280.8 L207.3,280.8 L209.4,280.8 L211.5,280.8 L213.7,280.8 L215.8,280.8 L217.9,280.8 L220.0,280.8 L222.1,280.8 L224.2,280.8 L226.3,280.7 L228.5,280.7 L230.6,280.7 L232.7,280.7 L234.8,280.7 L236.9,280.7 L239.0,280.7 L241.2,280.7 L243.3,280.7 L245.4,280.7 L247.5,280.7 L249.6,280.7 L251.7,280.7 L253.8,280.8 L256.0,280.8 L258.1,280.8 L260.2,280.9 L262.3,281.0 L264.4,281.1 L266.5,281.2 L268.6,281.3 L270.8,281.4 L272.9,281.5 L275.0,281.7 L277.1,281.8 L279.2,282.0 L281.3,282.2 L283.5,282.4 L285.6,282.5 L287.7,282.8 L289.8,283.0 L291.9,283.2 L294.0,283.5 L296.1,283.9 L298.3,284.4 L300.4,285.1 L302.5,285.8 L304.6,286.6 L306.7,287.5 L308.8,288.5 L311.0,289.5 L313.1,290.6 L315.2,292.2 L317.3,294.3 L319.4,296.5 L321.5,298.6 L323.6,300.7 L325.8,302.7 L327.9,304.9 L330.0,307.2 L332.1,309.8 L334.2,312.8 L336.3,316.1 L338.5,319.9 L340.6,324.0 L342.7,328.6 L344.8,334.2 L346.9,340.9 L349.0,348.0 L351.1,354.6 L353.3,360.3 L355.4,365.6 L357.5,370.8 L359.6,375.9 L361.7,381.2 L363.8,386.9 L366.0,393.1 L368.1,399.9 L370.2,407.1 L372.3,414.5 L374.4,421.9 L376.5,429.2 L378.6,436.4 L380.8,443.6 L382.9,451.0 L385.0,458.6 L387.1,466.7 L389.2,475.8 L391.3,485.0 L393.5,493.0 L395.6,499.4 L397.7,505.2 L399.8,510.4 L401.9,515.1 L404.0,519.4 L406.1,523.3 L408.3,526.9 L410.4,530.2 L412.5,533.2 L414.6,535.6 L416.7,537.6 L418.8,539.5 L420.9,541.1 L423.1,542.5 L425.2,543.8 L427.3,545.1 L429.4,546.2 L431.5,547.2 L433.6,548.1 L435.8,549.0 L437.9,549.9 L440.0,550.8 L442.1,551.8 L444.2,552.7 L446.3,553.5 L448.4,554.2 L450.6,554.7 L452.7,555.0 L454.8,555.4 L456.9,555.7 L459.0,556.0 L461.1,556.2 L463.3,556.5 L465.4,556.7 L467.5,556.9 L469.6,557.1 L471.7,557.3 L473.8,557.5 L475.9,557.6 L478.1,557.8 L480.2,558.0 L482.3,558.1 L484.4,558.3 L486.5,558.5 L488.6,558.7 L490.8,558.8 L492.9,559.0 L495.0,559.2 L497.1,559.3 L499.2,559.5 L501.3,559.6 L503.4,559.8 L505.6,559.9 L507.7,560.1 L509.8,560.2 L511.9,560.4 L514.0,560.5 L516.1,560.7 L518.3,560.8 L520.4,560.9 L522.5,561.1 L524.6,561.2 L526.7,561.3 L528.8,561.5 L530.9,561.6 L533.1,561.7 L535.2,561.9 L537.3,562.0 L539.4,562.1 L541.5,562.2 L543.6,562.3 L545.8,562.5 L547.9,562.6 L550.0,562.7 L552.1,562.8 L554.2,562.9 L556.3,563.0 L558.4,563.1 L560.6,563.3 L562.7,563.4 L564.8,563.5 L566.9,563.6 L569.0,563.7 L571.1,563.8 L573.3,563.9 L575.4,564.0 L577.5,564.1 L579.6,564.2 L581.7,564.3 L583.8,564.4 L585.9,564.5 L588.1,564.6 L590.2,564.7 L592.3,564.8 L594.4,564.9 L596.5,565.0 L598.6,565.1 L600.7,565.2 L602.9,565.3 L605.0,565.4 L607.1,565.5 L609.2,565.6 L611.3,565.7 L613.4,565.8 L615.6,565.9 L617.7,566.0 L619.8,566.1 L621.9,566.2 L624.0,566.2 L626.1,566.3 L628.2,566.4 L630.4,566.5 L632.5,566.6 L634.6,566.7 L636.7,566.8 L638.8,566.9 L640.9,567.0 L643.1,567.0 L645.2,567.1 L647.3,567.2 L649.4,567.3 L651.5,567.4 L653.6,567.4 L655.7,567.5 L657.9,567.6 L660.0,567.7 L662.1,567.7 L664.2,567.8 L666.3,567.9 L668.4,567.9 L670.6,568.0 L672.7,568.1 L674.8,568.1 L676.9,568.2 L679.0,568.3 L681.1,568.3 L683.2,568.4 L685.4,568.4 L687.5,568.5 L689.6,568.5 L691.7,568.6 L693.8,568.6 L695.9,568.7 L698.1,568.7 L700.2,568.8 L702.3,568.8 L704.4,568.8 L706.5,568.9 L708.6,568.9 L710.7,569.0 L712.9,569.0 L715.0,569.0 L717.1,569.1 L719.2,569.1 L721.3,569.1 L723.4,569.2 L725.6,569.2 L727.7,569.3 L729.8,569.3 L731.9,569.3 L734.0,569.3 L736.1,569.4 L738.2,569.4 L740.4,569.4 L742.5,569.5 L744.6,569.5 L746.7,569.5 L748.8,569.6 L750.9,569.6 L753.1,569.6 L755.2,569.7 L757.3,569.7 L759.4,569.7 L761.5,569.7 L763.6,569.8 L765.7,569.8 L767.9,569.8 L770.0,569.8 L772.1,569.9 L774.2,569.9 L776.3,569.9 L778.4,570.0 L780.5,570.0 L782.7,570.0 L784.8,570.0 L786.9,570.1 L789.0,570.1 L791.1,570.1 L793.2,570.1 L795.4,570.2 L797.5,570.2 L799.6,570.2 L801.7,570.3 L803.8,570.3 L805.9,570.3 L808.0,570.3 L810.2,570.4 L812.3,570.4 L814.4,570.4 L816.5,570.5 L818.6,570.5 L820.7,570.5 L822.9,570.5 L825.0,570.6 L827.1,570.6 L829.2,570.6 L831.3,570.6 L833.4,570.7 L835.5,570.7 L837.7,570.7 L839.8,570.8 L841.9,570.8 L844.0,570.8 L846.1,570.8 L848.2,570.9 L850.4,570.9 L852.5,570.9 L854.6,570.9 L856.7,571.0 L858.8,571.0 L860.9,571.0 L863.0,571.1 L865.2,571.1 L867.3,571.1 L869.4,571.1 L871.5,571.2 L873.6,571.2 L875.7,571.2 L877.9,571.2 L880.0,571.3 L882.1,571.3 L884.2,571.3 L886.3,571.3 L888.4,571.4 L890.5,571.4 L892.7,571.4 L894.8,571.4 L896.9,571.5 L899.0,571.5 L901.1,571.5 L903.2,571.5 L905.4,571.6 L907.5,571.6 L909.6,571.6 L911.7,571.6 L913.8,571.7 L915.9,571.7 L918.0,571.7 L920.2,571.7 L922.3,571.8 L924.4,571.8 L926.5,571.8 L928.6,571.8 L930.7,571.8 L932.8,571.9 L935.0,571.9 L937.1,571.9 L939.2,571.9 L941.3,572.0 L943.4,572.0 L945.5,572.0 L947.7,572.0 L949.8,572.1 L951.9,572.1 L954.0,572.1 L956.1,572.1 L958.2,572.1 L960.3,572.2 L962.5,572.2 L964.6,572.2 L966.7,572.2 L968.8,572.3 L970.9,572.3 L973.0,572.3 L975.2,572.3 L977.3,572.3 L979.4,572.4 L981.5,572.4 L983.6,572.4 L985.7,572.4 L987.8,572.4 L990.0,572.5 L992.1,572.5 L994.2,572.5 L996.3,572.5 L998.4,572.5 L1000.5,572.6 L1002.7,572.6 L1004.8,572.6 L1006.9,572.6 L1009.0,572.6" fill="none" stroke="#111" stroke-width="2.2"/>
<path d="M165.0,275.9 L167.1,275.8 L169.2,275.7 L171.3,275.6 L173.5,275.5 L175.6,275.5 L177.7,275.4 L179.8,275.3 L181.9,275.2 L184.0,275.1 L186.2,275.0 L188.3,274.9 L190.4,274.8 L192.5,274.7 L194.6,274.6 L196.7,274.5 L198.8,274.4 L201.0,274.3 L203.1,274.2 L205.2,274.1 L207.3,274.0 L209.4,273.9 L211.5,273.8 L213.7,273.7 L215.8,273.6 L217.9,273.5 L220.0,273.4 L222.1,273.3 L224.2,273.2 L226.3,273.1 L228.5,273.0 L230.6,272.9 L232.7,272.7 L234.8,272.6 L236.9,272.5 L239.0,272.4 L241.2,272.3 L243.3,272.2 L245.4,272.1 L247.5,271.9 L249.6,271.8 L251.7,271.7 L253.8,271.6 L256.0,271.5 L258.1,271.3 L260.2,271.2 L262.3,271.1 L264.4,271.0 L266.5,270.8 L268.6,270.7 L270.8,270.5 L272.9,270.4 L275.0,270.3 L277.1,270.1 L279.2,270.0 L281.3,269.9 L283.5,269.7 L285.6,269.6 L287.7,269.4 L289.8,269.3 L291.9,269.1 L294.0,269.0 L296.1,268.9 L298.3,268.7 L300.4,268.6 L302.5,268.4 L304.6,268.3 L306.7,268.2 L308.8,268.0 L311.0,267.9 L313.1,267.8 L315.2,267.6 L317.3,267.5 L319.4,267.3 L321.5,267.2 L323.6,267.0 L325.8,266.8 L327.9,266.7 L330.0,266.5 L332.1,266.3 L334.2,266.1 L336.3,266.0 L338.5,265.8 L340.6,265.7 L342.7,265.5 L344.8,265.4 L346.9,265.2 L349.0,265.1 L351.1,265.0 L353.3,264.9 L355.4,264.8 L357.5,264.7 L359.6,264.6 L361.7,264.6 L363.8,264.6 L366.0,264.6 L368.1,264.6 L370.2,264.7 L372.3,264.8 L374.4,264.9 L376.5,265.1 L378.6,265.3 L380.8,265.5 L382.9,265.7 L385.0,266.0 L387.1,266.3 L389.2,266.6 L391.3,267.2 L393.5,267.8 L395.6,268.5 L397.7,269.4 L399.8,270.2 L401.9,271.2 L404.0,272.1 L406.1,273.1 L408.3,274.1 L410.4,275.2 L412.5,276.4 L414.6,277.7 L416.7,279.2 L418.8,280.7 L420.9,282.3 L423.1,284.1 L425.2,286.0 L427.3,288.2 L429.4,290.5 L431.5,293.2 L433.6,296.4 L435.8,299.7 L437.9,302.9 L440.0,305.9 L442.1,308.6 L444.2,311.2 L446.3,314.0 L448.4,317.0 L450.6,320.6 L452.7,324.7 L454.8,329.1 L456.9,333.6 L459.0,338.2 L461.1,342.8 L463.3,347.6 L465.4,352.5 L467.5,357.4 L469.6,362.2 L471.7,367.1 L473.8,372.0 L475.9,376.9 L478.1,381.7 L480.2,386.6 L482.3,391.2 L484.4,395.7 L486.5,400.2 L488.6,404.7 L490.8,409.5 L492.9,414.6 L495.0,420.2 L497.1,426.1 L499.2,432.0 L501.3,437.5 L503.4,442.5 L505.6,447.2 L507.7,451.7 L509.8,456.0 L511.9,460.2 L514.0,464.2 L516.1,467.9 L518.3,471.5 L520.4,475.2 L522.5,478.9 L524.6,482.8 L526.7,486.7 L528.8,490.6 L530.9,494.2 L533.1,497.6 L535.2,500.7 L537.3,503.7 L539.4,506.6 L541.5,509.4 L543.6,512.1 L545.8,514.8 L547.9,517.5 L550.0,520.1 L552.1,522.5 L554.2,524.7 L556.3,526.6 L558.4,528.4 L560.6,530.1 L562.7,531.7 L564.8,533.2 L566.9,534.6 L569.0,536.0 L571.1,537.3 L573.3,538.5 L575.4,539.7 L577.5,540.8 L579.6,541.9 L581.7,543.0 L583.8,544.0 L585.9,545.0 L588.1,546.0 L590.2,547.0 L592.3,548.0 L594.4,548.9 L596.5,549.8 L598.6,550.6 L600.7,551.3 L602.9,551.8 L605.0,552.4 L607.1,552.9 L609.2,553.3 L611.3,553.7 L613.4,554.1 L615.6,554.5 L617.7,554.8 L619.8,555.2 L621.9,555.5 L624.0,555.9 L626.1,556.3 L628.2,556.7 L630.4,557.1 L632.5,557.5 L634.6,558.0 L636.7,558.4 L638.8,558.8 L640.9,559.3 L643.1,559.7 L645.2,560.2 L647.3,560.6 L649.4,561.0 L651.5,561.4 L653.6,561.7 L655.7,562.1 L657.9,562.4 L660.0,562.7 L662.1,563.0 L664.2,563.2 L666.3,563.4 L668.4,563.7 L670.6,563.9 L672.7,564.1 L674.8,564.3 L676.9,564.5 L679.0,564.7 L681.1,564.9 L683.2,565.1 L685.4,565.3 L687.5,565.4 L689.6,565.6 L691.7,565.8 L693.8,565.9 L695.9,566.1 L698.1,566.2 L700.2,566.3 L702.3,566.5 L704.4,566.6 L706.5,566.7 L708.6,566.8 L710.7,566.9 L712.9,567.0 L715.0,567.1 L717.1,567.2 L719.2,567.3 L721.3,567.4 L723.4,567.5 L725.6,567.5 L727.7,567.6 L729.8,567.7 L731.9,567.8 L734.0,567.8 L736.1,567.9 L738.2,568.0 L740.4,568.0 L742.5,568.1 L744.6,568.2 L746.7,568.2 L748.8,568.3 L750.9,568.3 L753.1,568.4 L755.2,568.4 L757.3,568.5 L759.4,568.5 L761.5,568.6 L763.6,568.6 L765.7,568.7 L767.9,568.7 L770.0,568.8 L772.1,568.8 L774.2,568.9 L776.3,568.9 L778.4,568.9 L780.5,569.0 L782.7,569.0 L784.8,569.1 L786.9,569.1 L789.0,569.2 L791.1,569.2 L793.2,569.2 L795.4,569.3 L797.5,569.3 L799.6,569.3 L801.7,569.4 L803.8,569.4 L805.9,569.5 L808.0,569.5 L810.2,569.5 L812.3,569.6 L814.4,569.6 L816.5,569.6 L818.6,569.7 L820.7,569.7 L822.9,569.7 L825.0,569.8 L827.1,569.8 L829.2,569.8 L831.3,569.8 L833.4,569.9 L835.5,569.9 L837.7,569.9 L839.8,570.0 L841.9,570.0 L844.0,570.0 L846.1,570.0 L848.2,570.1 L850.4,570.1 L852.5,570.1 L854.6,570.1 L856.7,570.2 L858.8,570.2 L860.9,570.2 L863.0,570.2 L865.2,570.3 L867.3,570.3 L869.4,570.3 L871.5,570.3 L873.6,570.3 L875.7,570.4 L877.9,570.4 L880.0,570.4 L882.1,570.4 L884.2,570.5 L886.3,570.5 L888.4,570.5 L890.5,570.5 L892.7,570.5 L894.8,570.6 L896.9,570.6 L899.0,570.6 L901.1,570.6 L903.2,570.6 L905.4,570.7 L907.5,570.7 L909.6,570.7 L911.7,570.7 L913.8,570.7 L915.9,570.8 L918.0,570.8 L920.2,570.8 L922.3,570.8 L924.4,570.8 L926.5,570.9 L928.6,570.9 L930.7,570.9 L932.8,570.9 L935.0,570.9 L937.1,570.9 L939.2,571.0 L941.3,571.0 L943.4,571.0 L945.5,571.0 L947.7,571.0 L949.8,571.0 L951.9,571.1 L954.0,571.1 L956.1,571.1 L958.2,571.1 L960.3,571.1 L962.5,571.1 L964.6,571.1 L966.7,571.2 L968.8,571.2 L970.9,571.2 L973.0,571.2 L975.2,571.2 L977.3,571.2 L979.4,571.2 L981.5,571.2 L983.6,571.2 L985.7,571.3 L987.8,571.3 L990.0,571.3 L992.1,571.3 L994.2,571.3 L996.3,571.3 L998.4,571.3 L1000.5,571.3 L1002.7,571.3 L1004.8,571.3 L1006.9,571.3 L1009.0,571.3" fill="none" stroke="#111" stroke-width="1.6"/>
<path d="M159.5,272.0h11v11h-11zM170.1,271.6h11v11h-11zM180.6,271.2h11v11h-11zM191.2,270.9h11v11h-11zM201.7,270.7h11v11h-11zM212.3,270.6h11v11h-11zM222.8,270.5h11v11h-11zM233.4,270.4h11v11h-11zM243.9,270.4h11v11h-11zM254.5,270.4h11v11h-11zM265.0,270.6h11v11h-11zM275.6,270.8h11v11h-11zM286.1,271.2h11v11h-11zM296.7,272.7h11v11h-11zM307.2,275.2h11v11h-11zM317.8,278.5h11v11h-11zM328.3,294.6h11v11h-11zM338.9,314.0h11v11h-11zM349.4,339.9h11v11h-11zM360.0,372.3h11v11h-11zM370.5,407.8h11v11h-11zM381.1,443.4h11v11h-11zM391.6,479.0h11v11h-11zM402.2,506.5h11v11h-11zM412.7,525.9h11v11h-11zM423.3,537.2h11v11h-11zM433.8,543.7h11v11h-11zM444.4,547.2h11v11h-11zM454.9,549.3h11v11h-11zM465.5,550.7h11v11h-11zM476.0,551.8h11v11h-11zM486.6,552.6h11v11h-11zM497.1,553.3h11v11h-11zM507.7,553.9h11v11h-11zM518.2,554.5h11v11h-11zM528.8,555.0h11v11h-11zM539.3,555.5h11v11h-11zM549.9,556.0h11v11h-11zM560.4,556.5h11v11h-11zM571.0,556.9h11v11h-11zM581.5,557.4h11v11h-11zM592.1,558.0h11v11h-11zM602.6,558.5h11v11h-11zM613.2,559.1h11v11h-11zM623.7,559.6h11v11h-11zM634.3,560.1h11v11h-11zM644.8,560.7h11v11h-11zM655.4,561.1h11v11h-11zM665.9,561.6h11v11h-11zM676.5,562.0h11v11h-11zM687.0,562.3h11v11h-11zM697.6,562.6h11v11h-11zM708.1,562.8h11v11h-11zM718.7,563.1h11v11h-11zM729.2,563.3h11v11h-11zM739.8,563.5h11v11h-11zM750.3,563.7h11v11h-11zM760.9,563.9h11v11h-11zM771.4,564.1h11v11h-11zM782.0,564.2h11v11h-11zM792.5,564.4h11v11h-11zM803.1,564.5h11v11h-11zM813.6,564.7h11v11h-11zM824.2,564.8h11v11h-11zM834.7,565.0h11v11h-11zM845.3,565.1h11v11h-11zM855.8,565.3h11v11h-11zM866.4,565.4h11v11h-11zM876.9,565.5h11v11h-11zM887.5,565.7h11v11h-11zM898.0,565.8h11v11h-11zM908.6,565.9h11v11h-11zM919.1,566.0h11v11h-11zM929.7,566.1h11v11h-11zM940.2,566.2h11v11h-11zM950.8,566.3h11v11h-11zM961.3,566.4h11v11h-11zM971.9,566.5h11v11h-11zM982.4,566.5h11v11h-11zM993.0,566.6h11v11h-11zM1003.5,566.7h11v11h-11z" fill="#fff" fill-opacity="0.6" stroke="#4450c0" stroke-width="1.8"/>
<path d="M159.5,265.5h11v11h-11zM170.1,265.2h11v11h-11zM180.6,264.8h11v11h-11zM191.2,264.3h11v11h-11zM201.7,263.8h11v11h-11zM212.3,263.3h11v11h-11zM222.8,262.7h11v11h-11zM233.4,262.1h11v11h-11zM243.9,261.5h11v11h-11zM254.5,260.7h11v11h-11zM265.0,259.8h11v11h-11zM275.6,258.9h11v11h-11zM286.1,258.0h11v11h-11zM296.7,257.2h11v11h-11zM307.2,256.6h11v11h-11zM317.8,256.3h11v11h-11zM328.3,256.0h11v11h-11zM338.9,255.8h11v11h-11zM349.4,256.7h11v11h-11zM360.0,259.1h11v11h-11zM370.5,266.5h11v11h-11zM381.1,273.0h11v11h-11zM391.6,285.4h11v11h-11zM402.2,300.9h11v11h-11zM412.7,327.5h11v11h-11zM423.3,353.4h11v11h-11zM433.8,387.9h11v11h-11zM444.4,425.0h11v11h-11zM454.9,462.8h11v11h-11zM465.5,488.7h11v11h-11zM476.0,506.1h11v11h-11zM486.6,525.6h11v11h-11zM497.1,536.1h11v11h-11zM507.7,541.8h11v11h-11zM518.2,545.3h11v11h-11zM528.8,548.1h11v11h-11zM539.3,550.2h11v11h-11zM549.9,551.7h11v11h-11zM560.4,553.0h11v11h-11zM571.0,554.1h11v11h-11zM581.5,555.0h11v11h-11zM592.1,555.9h11v11h-11zM602.6,556.7h11v11h-11zM613.2,557.5h11v11h-11zM623.7,558.2h11v11h-11zM634.3,558.9h11v11h-11zM644.8,559.5h11v11h-11zM655.4,560.1h11v11h-11zM665.9,560.6h11v11h-11zM676.5,561.1h11v11h-11zM687.0,561.5h11v11h-11zM697.6,561.8h11v11h-11zM708.1,562.1h11v11h-11zM718.7,562.5h11v11h-11zM729.2,562.7h11v11h-11zM739.8,563.0h11v11h-11zM750.3,563.3h11v11h-11zM760.9,563.5h11v11h-11zM771.4,563.7h11v11h-11zM782.0,563.9h11v11h-11zM792.5,564.1h11v11h-11zM803.1,564.3h11v11h-11zM813.6,564.5h11v11h-11zM824.2,564.6h11v11h-11zM834.7,564.7h11v11h-11zM845.3,564.8h11v11h-11zM855.8,564.9h11v11h-11zM866.4,565.0h11v11h-11zM876.9,565.1h11v11h-11zM887.5,565.2h11v11h-11zM898.0,565.3h11v11h-11zM908.6,565.4h11v11h-11zM919.1,565.5h11v11h-11zM929.7,565.6h11v11h-11zM940.2,565.6h11v11h-11zM950.8,565.7h11v11h-11zM961.3,565.7h11v11h-11zM971.9,565.8h11v11h-11zM982.4,565.8h11v11h-11zM993.0,565.8h11v11h-11zM1003.5,565.8h11v11h-11z" fill="#fff" fill-opacity="0.6" stroke="#4450c0" stroke-width="1.8"/>
<circle cx="165.0" cy="278.3" r="6" fill="#fff" fill-opacity="0.6" stroke="#f03a3a" stroke-width="1.8"/>
<circle cx="175.6" cy="277.9" r="6" fill="#fff" fill-opacity="0.6" stroke="#f03a3a" stroke-width="1.8"/>
<circle cx="186.1" cy="277.5" r="6" fill="#fff" fill-opacity="0.6" stroke="#f03a3a" stroke-width="1.8"/>
<circle cx="196.7" cy="277.2" r="6" fill="#fff" fill-opacity="0.6" stroke="#f03a3a" stroke-width="1.8"/>
<circle cx="207.2" cy="277.0" r="6" fill="#fff" fill-opacity="0.6" stroke="#f03a3a" stroke-width="1.8"/>
<circle cx="217.8" cy="276.9" r="6" fill="#fff" fill-opacity="0.6" stroke="#f03a3a" stroke-width="1.8"/>
<circle cx="228.3" cy="276.8" r="6" fill="#fff" fill-opacity="0.6" stroke="#f03a3a" stroke-width="1.8"/>
<circle cx="238.9" cy="276.7" r="6" fill="#fff" fill-opacity="0.6" stroke="#f03a3a" stroke-width="1.8"/>
<circle cx="249.4" cy="276.7" r="6" fill="#fff" fill-opacity="0.6" stroke="#f03a3a" stroke-width="1.8"/>
<circle cx="260.0" cy="276.7" r="6" fill="#fff" fill-opacity="0.6" stroke="#f03a3a" stroke-width="1.8"/>
<circle cx="270.5" cy="276.9" r="6" fill="#fff" fill-opacity="0.6" stroke="#f03a3a" stroke-width="1.8"/>
<circle cx="281.1" cy="277.1" r="6" fill="#fff" fill-opacity="0.6" stroke="#f03a3a" stroke-width="1.8"/>
<circle cx="291.6" cy="277.5" r="6" fill="#fff" fill-opacity="0.6" stroke="#f03a3a" stroke-width="1.8"/>
<circle cx="302.2" cy="279.4" r="6" fill="#fff" fill-opacity="0.6" stroke="#f03a3a" stroke-width="1.8"/>
<circle cx="312.7" cy="282.3" r="6" fill="#fff" fill-opacity="0.6" stroke="#f03a3a" stroke-width="1.8"/>
<circle cx="323.3" cy="284.9" r="6" fill="#fff" fill-opacity="0.6" stroke="#f03a3a" stroke-width="1.8"/>
<circle cx="333.8" cy="301.1" r="6" fill="#fff" fill-opacity="0.6" stroke="#f03a3a" stroke-width="1.8"/>
<circle cx="344.4" cy="316.7" r="6" fill="#fff" fill-opacity="0.6" stroke="#f03a3a" stroke-width="1.8"/>
<circle cx="354.9" cy="340.0" r="6" fill="#fff" fill-opacity="0.6" stroke="#f03a3a" stroke-width="1.8"/>
<circle cx="365.5" cy="375.6" r="6" fill="#fff" fill-opacity="0.6" stroke="#f03a3a" stroke-width="1.8"/>
<circle cx="376.0" cy="407.5" r="6" fill="#fff" fill-opacity="0.6" stroke="#f03a3a" stroke-width="1.8"/>
<circle cx="386.6" cy="443.0" r="6" fill="#fff" fill-opacity="0.6" stroke="#f03a3a" stroke-width="1.8"/>
<circle cx="397.1" cy="479.0" r="6" fill="#fff" fill-opacity="0.6" stroke="#f03a3a" stroke-width="1.8"/>
<circle cx="407.7" cy="511.6" r="6" fill="#fff" fill-opacity="0.6" stroke="#f03a3a" stroke-width="1.8"/>
<circle cx="418.2" cy="532.2" r="6" fill="#fff" fill-opacity="0.6" stroke="#f03a3a" stroke-width="1.8"/>
<circle cx="428.8" cy="542.7" r="6" fill="#fff" fill-opacity="0.6" stroke="#f03a3a" stroke-width="1.8"/>
<circle cx="439.3" cy="548.9" r="6" fill="#fff" fill-opacity="0.6" stroke="#f03a3a" stroke-width="1.8"/>
<circle cx="449.9" cy="553.1" r="6" fill="#fff" fill-opacity="0.6" stroke="#f03a3a" stroke-width="1.8"/>
<circle cx="460.4" cy="555.0" r="6" fill="#fff" fill-opacity="0.6" stroke="#f03a3a" stroke-width="1.8"/>
<circle cx="471.0" cy="556.3" r="6" fill="#fff" fill-opacity="0.6" stroke="#f03a3a" stroke-width="1.8"/>
<circle cx="481.5" cy="557.3" r="6" fill="#fff" fill-opacity="0.6" stroke="#f03a3a" stroke-width="1.8"/>
<circle cx="492.1" cy="558.2" r="6" fill="#fff" fill-opacity="0.6" stroke="#f03a3a" stroke-width="1.8"/>
<circle cx="502.6" cy="559.0" r="6" fill="#fff" fill-opacity="0.6" stroke="#f03a3a" stroke-width="1.8"/>
<circle cx="513.2" cy="559.7" r="6" fill="#fff" fill-opacity="0.6" stroke="#f03a3a" stroke-width="1.8"/>
<circle cx="523.7" cy="560.4" r="6" fill="#fff" fill-opacity="0.6" stroke="#f03a3a" stroke-width="1.8"/>
<circle cx="534.3" cy="561.1" r="6" fill="#fff" fill-opacity="0.6" stroke="#f03a3a" stroke-width="1.8"/>
<circle cx="544.8" cy="561.7" r="6" fill="#fff" fill-opacity="0.6" stroke="#f03a3a" stroke-width="1.8"/>
<circle cx="555.4" cy="562.2" r="6" fill="#fff" fill-opacity="0.6" stroke="#f03a3a" stroke-width="1.8"/>
<circle cx="565.9" cy="562.7" r="6" fill="#fff" fill-opacity="0.6" stroke="#f03a3a" stroke-width="1.8"/>
<circle cx="576.5" cy="563.2" r="6" fill="#fff" fill-opacity="0.6" stroke="#f03a3a" stroke-width="1.8"/>
<circle cx="587.0" cy="563.7" r="6" fill="#fff" fill-opacity="0.6" stroke="#f03a3a" stroke-width="1.8"/>
<circle cx="597.6" cy="564.2" r="6" fill="#fff" fill-opacity="0.6" stroke="#f03a3a" stroke-width="1.8"/>
<circle cx="608.1" cy="564.7" r="6" fill="#fff" fill-opacity="0.6" stroke="#f03a3a" stroke-width="1.8"/>
<circle cx="618.7" cy="565.2" r="6" fill="#fff" fill-opacity="0.6" stroke="#f03a3a" stroke-width="1.8"/>
<circle cx="629.2" cy="565.6" r="6" fill="#fff" fill-opacity="0.6" stroke="#f03a3a" stroke-width="1.8"/>
<circle cx="639.8" cy="566.0" r="6" fill="#fff" fill-opacity="0.6" stroke="#f03a3a" stroke-width="1.8"/>
<circle cx="650.3" cy="566.4" r="6" fill="#fff" fill-opacity="0.6" stroke="#f03a3a" stroke-width="1.8"/>
<circle cx="660.9" cy="566.8" r="6" fill="#fff" fill-opacity="0.6" stroke="#f03a3a" stroke-width="1.8"/>
<circle cx="671.4" cy="567.2" r="6" fill="#fff" fill-opacity="0.6" stroke="#f03a3a" stroke-width="1.8"/>
<circle cx="682.0" cy="567.5" r="6" fill="#fff" fill-opacity="0.6" stroke="#f03a3a" stroke-width="1.8"/>
<circle cx="692.5" cy="567.8" r="6" fill="#fff" fill-opacity="0.6" stroke="#f03a3a" stroke-width="1.8"/>
<circle cx="703.1" cy="568.1" r="6" fill="#fff" fill-opacity="0.6" stroke="#f03a3a" stroke-width="1.8"/>
<circle cx="713.6" cy="568.3" r="6" fill="#fff" fill-opacity="0.6" stroke="#f03a3a" stroke-width="1.8"/>
<circle cx="724.2" cy="568.5" r="6" fill="#fff" fill-opacity="0.6" stroke="#f03a3a" stroke-width="1.8"/>
<circle cx="734.7" cy="568.8" r="6" fill="#fff" fill-opacity="0.6" stroke="#f03a3a" stroke-width="1.8"/>
<circle cx="745.3" cy="569.0" r="6" fill="#fff" fill-opacity="0.6" stroke="#f03a3a" stroke-width="1.8"/>
<circle cx="755.8" cy="569.2" r="6" fill="#fff" fill-opacity="0.6" stroke="#f03a3a" stroke-width="1.8"/>
<circle cx="766.4" cy="569.4" r="6" fill="#fff" fill-opacity="0.6" stroke="#f03a3a" stroke-width="1.8"/>
<circle cx="776.9" cy="569.6" r="6" fill="#fff" fill-opacity="0.6" stroke="#f03a3a" stroke-width="1.8"/>
<circle cx="787.5" cy="569.7" r="6" fill="#fff" fill-opacity="0.6" stroke="#f03a3a" stroke-width="1.8"/>
<circle cx="798.0" cy="569.9" r="6" fill="#fff" fill-opacity="0.6" stroke="#f03a3a" stroke-width="1.8"/>
<circle cx="808.6" cy="570.0" r="6" fill="#fff" fill-opacity="0.6" stroke="#f03a3a" stroke-width="1.8"/>
<circle cx="819.1" cy="570.2" r="6" fill="#fff" fill-opacity="0.6" stroke="#f03a3a" stroke-width="1.8"/>
<circle cx="829.7" cy="570.3" r="6" fill="#fff" fill-opacity="0.6" stroke="#f03a3a" stroke-width="1.8"/>
<circle cx="840.2" cy="570.5" r="6" fill="#fff" fill-opacity="0.6" stroke="#f03a3a" stroke-width="1.8"/>
<circle cx="850.8" cy="570.6" r="6" fill="#fff" fill-opacity="0.6" stroke="#f03a3a" stroke-width="1.8"/>
<circle cx="861.3" cy="570.8" r="6" fill="#fff" fill-opacity="0.6" stroke="#f03a3a" stroke-width="1.8"/>
<circle cx="871.9" cy="570.9" r="6" fill="#fff" fill-opacity="0.6" stroke="#f03a3a" stroke-width="1.8"/>
<circle cx="882.4" cy="571.0" r="6" fill="#fff" fill-opacity="0.6" stroke="#f03a3a" stroke-width="1.8"/>
<circle cx="893.0" cy="571.2" r="6" fill="#fff" fill-opacity="0.6" stroke="#f03a3a" stroke-width="1.8"/>
<circle cx="903.5" cy="571.3" r="6" fill="#fff" fill-opacity="0.6" stroke="#f03a3a" stroke-width="1.8"/>
<circle cx="914.1" cy="571.4" r="6" fill="#fff" fill-opacity="0.6" stroke="#f03a3a" stroke-width="1.8"/>
<circle cx="924.6" cy="571.5" r="6" fill="#fff" fill-opacity="0.6" stroke="#f03a3a" stroke-width="1.8"/>
<circle cx="935.2" cy="571.6" r="6" fill="#fff" fill-opacity="0.6" stroke="#f03a3a" stroke-width="1.8"/>
<circle cx="945.7" cy="571.7" r="6" fill="#fff" fill-opacity="0.6" stroke="#f03a3a" stroke-width="1.8"/>
<circle cx="956.3" cy="571.8" r="6" fill="#fff" fill-opacity="0.6" stroke="#f03a3a" stroke-width="1.8"/>
<circle cx="966.8" cy="571.9" r="6" fill="#fff" fill-opacity="0.6" stroke="#f03a3a" stroke-width="1.8"/>
<circle cx="977.4" cy="572.0" r="6" fill="#fff" fill-opacity="0.6" stroke="#f03a3a" stroke-width="1.8"/>
<circle cx="987.9" cy="572.0" r="6" fill="#fff" fill-opacity="0.6" stroke="#f03a3a" stroke-width="1.8"/>
<circle cx="998.5" cy="572.1" r="6" fill="#fff" fill-opacity="0.6" stroke="#f03a3a" stroke-width="1.8"/>
<circle cx="1009.0" cy="572.2" r="6" fill="#fff" fill-opacity="0.6" stroke="#f03a3a" stroke-width="1.8"/>
<circle cx="165.0" cy="275.1" r="6" fill="#fff" fill-opacity="0.6" stroke="#f03a3a" stroke-width="1.8"/>
<circle cx="175.6" cy="274.7" r="6" fill="#fff" fill-opacity="0.6" stroke="#f03a3a" stroke-width="1.8"/>
<circle cx="186.1" cy="274.2" r="6" fill="#fff" fill-opacity="0.6" stroke="#f03a3a" stroke-width="1.8"/>
<circle cx="196.7" cy="273.7" r="6" fill="#fff" fill-opacity="0.6" stroke="#f03a3a" stroke-width="1.8"/>
<circle cx="207.2" cy="273.2" r="6" fill="#fff" fill-opacity="0.6" stroke="#f03a3a" stroke-width="1.8"/>
<circle cx="217.8" cy="272.7" r="6" fill="#fff" fill-opacity="0.6" stroke="#f03a3a" stroke-width="1.8"/>
<circle cx="228.3" cy="272.2" r="6" fill="#fff" fill-opacity="0.6" stroke="#f03a3a" stroke-width="1.8"/>
<circle cx="238.9" cy="271.6" r="6" fill="#fff" fill-opacity="0.6" stroke="#f03a3a" stroke-width="1.8"/>
<circle cx="249.4" cy="271.0" r="6" fill="#fff" fill-opacity="0.6" stroke="#f03a3a" stroke-width="1.8"/>
<circle cx="260.0" cy="270.4" r="6" fill="#fff" fill-opacity="0.6" stroke="#f03a3a" stroke-width="1.8"/>
<circle cx="270.5" cy="269.7" r="6" fill="#fff" fill-opacity="0.6" stroke="#f03a3a" stroke-width="1.8"/>
<circle cx="281.1" cy="269.0" r="6" fill="#fff" fill-opacity="0.6" stroke="#f03a3a" stroke-width="1.8"/>
<circle cx="291.6" cy="268.3" r="6" fill="#fff" fill-opacity="0.6" stroke="#f03a3a" stroke-width="1.8"/>
<circle cx="302.2" cy="267.5" r="6" fill="#fff" fill-opacity="0.6" stroke="#f03a3a" stroke-width="1.8"/>
<circle cx="312.7" cy="266.8" r="6" fill="#fff" fill-opacity="0.6" stroke="#f03a3a" stroke-width="1.8"/>
<circle cx="323.3" cy="266.0" r="6" fill="#fff" fill-opacity="0.6" stroke="#f03a3a" stroke-width="1.8"/>
<circle cx="333.8" cy="265.4" r="6" fill="#fff" fill-opacity="0.6" stroke="#f03a3a" stroke-width="1.8"/>
<circle cx="344.4" cy="264.6" r="6" fill="#fff" fill-opacity="0.6" stroke="#f03a3a" stroke-width="1.8"/>
<circle cx="354.9" cy="263.8" r="6" fill="#fff" fill-opacity="0.6" stroke="#f03a3a" stroke-width="1.8"/>
<circle cx="365.5" cy="263.2" r="6" fill="#fff" fill-opacity="0.6" stroke="#f03a3a" stroke-width="1.8"/>
<circle cx="376.0" cy="262.9" r="6" fill="#fff" fill-opacity="0.6" stroke="#f03a3a" stroke-width="1.8"/>
<circle cx="386.6" cy="263.6" r="6" fill="#fff" fill-opacity="0.6" stroke="#f03a3a" stroke-width="1.8"/>
<circle cx="397.1" cy="265.4" r="6" fill="#fff" fill-opacity="0.6" stroke="#f03a3a" stroke-width="1.8"/>
<circle cx="407.7" cy="271.0" r="6" fill="#fff" fill-opacity="0.6" stroke="#f03a3a" stroke-width="1.8"/>
<circle cx="418.2" cy="279.9" r="6" fill="#fff" fill-opacity="0.6" stroke="#f03a3a" stroke-width="1.8"/>
<circle cx="428.8" cy="293.0" r="6" fill="#fff" fill-opacity="0.6" stroke="#f03a3a" stroke-width="1.8"/>
<circle cx="439.3" cy="310.7" r="6" fill="#fff" fill-opacity="0.6" stroke="#f03a3a" stroke-width="1.8"/>
<circle cx="449.9" cy="333.5" r="6" fill="#fff" fill-opacity="0.6" stroke="#f03a3a" stroke-width="1.8"/>
<circle cx="460.4" cy="364.7" r="6" fill="#fff" fill-opacity="0.6" stroke="#f03a3a" stroke-width="1.8"/>
<circle cx="471.0" cy="402.8" r="6" fill="#fff" fill-opacity="0.6" stroke="#f03a3a" stroke-width="1.8"/>
<circle cx="481.5" cy="434.9" r="6" fill="#fff" fill-opacity="0.6" stroke="#f03a3a" stroke-width="1.8"/>
<circle cx="492.1" cy="464.7" r="6" fill="#fff" fill-opacity="0.6" stroke="#f03a3a" stroke-width="1.8"/>
<circle cx="502.6" cy="493.5" r="6" fill="#fff" fill-opacity="0.6" stroke="#f03a3a" stroke-width="1.8"/>
<circle cx="513.2" cy="516.0" r="6" fill="#fff" fill-opacity="0.6" stroke="#f03a3a" stroke-width="1.8"/>
<circle cx="523.7" cy="533.2" r="6" fill="#fff" fill-opacity="0.6" stroke="#f03a3a" stroke-width="1.8"/>
<circle cx="534.3" cy="543.3" r="6" fill="#fff" fill-opacity="0.6" stroke="#f03a3a" stroke-width="1.8"/>
<circle cx="544.8" cy="549.5" r="6" fill="#fff" fill-opacity="0.6" stroke="#f03a3a" stroke-width="1.8"/>
<circle cx="555.4" cy="554.5" r="6" fill="#fff" fill-opacity="0.6" stroke="#f03a3a" stroke-width="1.8"/>
<circle cx="565.9" cy="556.8" r="6" fill="#fff" fill-opacity="0.6" stroke="#f03a3a" stroke-width="1.8"/>
<circle cx="576.5" cy="558.2" r="6" fill="#fff" fill-opacity="0.6" stroke="#f03a3a" stroke-width="1.8"/>
<circle cx="587.0" cy="559.4" r="6" fill="#fff" fill-opacity="0.6" stroke="#f03a3a" stroke-width="1.8"/>
<circle cx="597.6" cy="560.5" r="6" fill="#fff" fill-opacity="0.6" stroke="#f03a3a" stroke-width="1.8"/>
<circle cx="608.1" cy="561.4" r="6" fill="#fff" fill-opacity="0.6" stroke="#f03a3a" stroke-width="1.8"/>
<circle cx="618.7" cy="562.2" r="6" fill="#fff" fill-opacity="0.6" stroke="#f03a3a" stroke-width="1.8"/>
<circle cx="629.2" cy="562.9" r="6" fill="#fff" fill-opacity="0.6" stroke="#f03a3a" stroke-width="1.8"/>
<circle cx="639.8" cy="563.6" r="6" fill="#fff" fill-opacity="0.6" stroke="#f03a3a" stroke-width="1.8"/>
<circle cx="650.3" cy="564.3" r="6" fill="#fff" fill-opacity="0.6" stroke="#f03a3a" stroke-width="1.8"/>
<circle cx="660.9" cy="564.9" r="6" fill="#fff" fill-opacity="0.6" stroke="#f03a3a" stroke-width="1.8"/>
<circle cx="671.4" cy="565.5" r="6" fill="#fff" fill-opacity="0.6" stroke="#f03a3a" stroke-width="1.8"/>
<circle cx="682.0" cy="566.0" r="6" fill="#fff" fill-opacity="0.6" stroke="#f03a3a" stroke-width="1.8"/>
<circle cx="692.5" cy="566.5" r="6" fill="#fff" fill-opacity="0.6" stroke="#f03a3a" stroke-width="1.8"/>
<circle cx="703.1" cy="566.9" r="6" fill="#fff" fill-opacity="0.6" stroke="#f03a3a" stroke-width="1.8"/>
<circle cx="713.6" cy="567.3" r="6" fill="#fff" fill-opacity="0.6" stroke="#f03a3a" stroke-width="1.8"/>
<circle cx="724.2" cy="567.6" r="6" fill="#fff" fill-opacity="0.6" stroke="#f03a3a" stroke-width="1.8"/>
<circle cx="734.7" cy="568.0" r="6" fill="#fff" fill-opacity="0.6" stroke="#f03a3a" stroke-width="1.8"/>
<circle cx="745.3" cy="568.3" r="6" fill="#fff" fill-opacity="0.6" stroke="#f03a3a" stroke-width="1.8"/>
<circle cx="755.8" cy="568.6" r="6" fill="#fff" fill-opacity="0.6" stroke="#f03a3a" stroke-width="1.8"/>
<circle cx="766.4" cy="568.8" r="6" fill="#fff" fill-opacity="0.6" stroke="#f03a3a" stroke-width="1.8"/>
<circle cx="776.9" cy="569.1" r="6" fill="#fff" fill-opacity="0.6" stroke="#f03a3a" stroke-width="1.8"/>
<circle cx="787.5" cy="569.3" r="6" fill="#fff" fill-opacity="0.6" stroke="#f03a3a" stroke-width="1.8"/>
<circle cx="798.0" cy="569.6" r="6" fill="#fff" fill-opacity="0.6" stroke="#f03a3a" stroke-width="1.8"/>
<circle cx="808.6" cy="569.8" r="6" fill="#fff" fill-opacity="0.6" stroke="#f03a3a" stroke-width="1.8"/>
<circle cx="819.1" cy="569.9" r="6" fill="#fff" fill-opacity="0.6" stroke="#f03a3a" stroke-width="1.8"/>
<circle cx="829.7" cy="570.1" r="6" fill="#fff" fill-opacity="0.6" stroke="#f03a3a" stroke-width="1.8"/>
<circle cx="840.2" cy="570.2" r="6" fill="#fff" fill-opacity="0.6" stroke="#f03a3a" stroke-width="1.8"/>
<circle cx="850.8" cy="570.3" r="6" fill="#fff" fill-opacity="0.6" stroke="#f03a3a" stroke-width="1.8"/>
<circle cx="861.3" cy="570.4" r="6" fill="#fff" fill-opacity="0.6" stroke="#f03a3a" stroke-width="1.8"/>
<circle cx="871.9" cy="570.5" r="6" fill="#fff" fill-opacity="0.6" stroke="#f03a3a" stroke-width="1.8"/>
<circle cx="882.4" cy="570.6" r="6" fill="#fff" fill-opacity="0.6" stroke="#f03a3a" stroke-width="1.8"/>
<circle cx="893.0" cy="570.7" r="6" fill="#fff" fill-opacity="0.6" stroke="#f03a3a" stroke-width="1.8"/>
<circle cx="903.5" cy="570.8" r="6" fill="#fff" fill-opacity="0.6" stroke="#f03a3a" stroke-width="1.8"/>
<circle cx="914.1" cy="570.9" r="6" fill="#fff" fill-opacity="0.6" stroke="#f03a3a" stroke-width="1.8"/>
<circle cx="924.6" cy="571.0" r="6" fill="#fff" fill-opacity="0.6" stroke="#f03a3a" stroke-width="1.8"/>
<circle cx="935.2" cy="571.1" r="6" fill="#fff" fill-opacity="0.6" stroke="#f03a3a" stroke-width="1.8"/>
<circle cx="945.7" cy="571.1" r="6" fill="#fff" fill-opacity="0.6" stroke="#f03a3a" stroke-width="1.8"/>
<circle cx="956.3" cy="571.2" r="6" fill="#fff" fill-opacity="0.6" stroke="#f03a3a" stroke-width="1.8"/>
<circle cx="966.8" cy="571.3" r="6" fill="#fff" fill-opacity="0.6" stroke="#f03a3a" stroke-width="1.8"/>
<circle cx="977.4" cy="571.3" r="6" fill="#fff" fill-opacity="0.6" stroke="#f03a3a" stroke-width="1.8"/>
<circle cx="987.9" cy="571.3" r="6" fill="#fff" fill-opacity="0.6" stroke="#f03a3a" stroke-width="1.8"/>
<circle cx="998.5" cy="571.3" r="6" fill="#fff" fill-opacity="0.6" stroke="#f03a3a" stroke-width="1.8"/>
<circle cx="1009.0" cy="571.3" r="6" fill="#fff" fill-opacity="0.6" stroke="#f03a3a" stroke-width="1.8"/>
<path d="M156.8,288.3 L165.0,274.8 L173.2,288.3 ZM167.3,288.0 L175.6,274.5 L183.8,288.0 ZM177.9,287.8 L186.1,274.3 L194.4,287.8 ZM188.4,287.7 L196.7,274.2 L204.9,287.7 ZM199.0,287.6 L207.2,274.1 L215.5,287.6 ZM209.5,287.5 L217.8,274.0 L226.0,287.5 ZM220.1,287.5 L228.3,274.0 L236.6,287.5 ZM230.6,287.5 L238.9,274.0 L247.1,287.5 ZM241.2,287.5 L249.4,274.0 L257.7,287.5 ZM251.7,287.6 L260.0,274.1 L268.2,287.6 ZM262.3,288.1 L270.5,274.6 L278.8,288.1 ZM272.8,288.9 L281.1,275.4 L289.3,288.9 ZM283.4,289.9 L291.6,276.4 L299.9,289.9 ZM293.9,292.4 L302.2,278.9 L310.4,292.4 ZM304.5,297.2 L312.7,283.7 L321.0,297.2 ZM315.0,307.0 L323.3,293.5 L331.5,307.0 ZM325.6,318.9 L333.8,305.4 L342.1,318.9 ZM336.1,339.6 L344.4,326.1 L352.6,339.6 ZM346.7,371.2 L354.9,357.7 L363.2,371.2 ZM357.2,398.3 L365.5,384.8 L373.7,398.3 ZM367.8,434.2 L376.0,420.7 L384.3,434.2 ZM378.3,471.2 L386.6,457.7 L394.8,471.2 ZM388.9,510.4 L397.1,496.9 L405.4,510.4 ZM399.4,532.6 L407.7,519.1 L415.9,532.6 ZM410.0,545.7 L418.2,532.2 L426.5,545.7 ZM420.5,552.6 L428.8,539.1 L437.0,552.6 ZM431.1,557.3 L439.3,543.8 L447.6,557.3 ZM441.6,561.3 L449.9,547.8 L458.1,561.3 ZM452.2,562.9 L460.4,549.4 L468.7,562.9 ZM462.7,564.0 L471.0,550.5 L479.2,564.0 ZM473.3,564.8 L481.5,551.3 L489.8,564.8 ZM483.8,565.7 L492.1,552.2 L500.3,565.7 ZM494.4,566.5 L502.6,553.0 L510.9,566.5 ZM504.9,567.2 L513.2,553.7 L521.4,567.2 ZM515.5,567.9 L523.7,554.4 L532.0,567.9 ZM526.0,568.5 L534.3,555.0 L542.5,568.5 ZM536.6,569.2 L544.8,555.7 L553.1,569.2 ZM547.1,569.7 L555.4,556.2 L563.6,569.7 ZM557.7,570.3 L565.9,556.8 L574.2,570.3 ZM568.2,570.8 L576.5,557.3 L584.7,570.8 ZM578.8,571.3 L587.0,557.8 L595.3,571.3 ZM589.3,571.8 L597.6,558.3 L605.8,571.8 ZM599.9,572.3 L608.1,558.8 L616.4,572.3 ZM610.4,572.8 L618.7,559.3 L626.9,572.8 ZM621.0,573.2 L629.2,559.7 L637.5,573.2 ZM631.5,573.7 L639.8,560.2 L648.0,573.7 ZM642.1,574.1 L650.3,560.6 L658.6,574.1 ZM652.6,574.4 L660.9,560.9 L669.1,574.4 ZM663.2,574.8 L671.4,561.3 L679.7,574.8 ZM673.7,575.1 L682.0,561.6 L690.2,575.1 ZM684.3,575.3 L692.5,561.8 L700.8,575.3 ZM694.8,575.6 L703.1,562.1 L711.3,575.6 ZM705.4,575.8 L713.6,562.3 L721.9,575.8 ZM715.9,575.9 L724.2,562.4 L732.4,575.9 ZM726.5,576.1 L734.7,562.6 L743.0,576.1 ZM737.0,576.3 L745.3,562.8 L753.5,576.3 ZM747.6,576.4 L755.8,562.9 L764.1,576.4 ZM758.1,576.5 L766.4,563.0 L774.6,576.5 ZM768.7,576.7 L776.9,563.2 L785.2,576.7 ZM779.2,576.8 L787.5,563.3 L795.7,576.8 ZM789.8,577.0 L798.0,563.5 L806.3,577.0 ZM800.3,577.1 L808.6,563.6 L816.8,577.1 ZM810.9,577.2 L819.1,563.7 L827.4,577.2 ZM821.4,577.4 L829.7,563.9 L837.9,577.4 ZM832.0,577.5 L840.2,564.0 L848.5,577.5 ZM842.5,577.6 L850.8,564.1 L859.0,577.6 ZM853.1,577.8 L861.3,564.3 L869.6,577.8 ZM863.6,577.9 L871.9,564.4 L880.1,577.9 ZM874.2,578.0 L882.4,564.5 L890.7,578.0 ZM884.7,578.2 L893.0,564.7 L901.2,578.2 ZM895.3,578.3 L903.5,564.8 L911.8,578.3 ZM905.8,578.4 L914.1,564.9 L922.3,578.4 ZM916.4,578.5 L924.6,565.0 L932.9,578.5 ZM926.9,578.6 L935.2,565.1 L943.4,578.6 ZM937.5,578.8 L945.7,565.3 L954.0,578.8 ZM948.0,578.9 L956.3,565.4 L964.5,578.9 ZM958.6,579.0 L966.8,565.5 L975.1,579.0 ZM969.1,579.1 L977.4,565.6 L985.6,579.1 ZM979.7,579.2 L987.9,565.7 L996.2,579.2 ZM990.2,579.3 L998.5,565.8 L1006.7,579.3 ZM1000.8,579.4 L1009.0,565.9 L1017.3,579.4 Z" fill="#fff" fill-opacity="0.7" stroke="#111" stroke-width="1.8" stroke-linejoin="miter"/>
<path d="M156.8,282.6 L165.0,269.1 L173.2,282.6 ZM167.3,282.2 L175.6,268.7 L183.8,282.2 ZM177.9,281.8 L186.1,268.3 L194.4,281.8 ZM188.4,281.3 L196.7,267.8 L204.9,281.3 ZM199.0,280.8 L207.2,267.3 L215.5,280.8 ZM209.5,280.3 L217.8,266.8 L226.0,280.3 ZM220.1,279.7 L228.3,266.2 L236.6,279.7 ZM230.6,279.2 L238.9,265.7 L247.1,279.2 ZM241.2,278.6 L249.4,265.1 L257.7,278.6 ZM251.7,278.0 L260.0,264.5 L268.2,278.0 ZM262.3,277.3 L270.5,263.8 L278.8,277.3 ZM272.8,276.6 L281.1,263.1 L289.3,276.6 ZM283.4,275.9 L291.6,262.4 L299.9,275.9 ZM293.9,275.2 L302.2,261.7 L310.4,275.2 ZM304.5,274.5 L312.7,261.0 L321.0,274.5 ZM315.0,273.8 L323.3,260.3 L331.5,273.8 ZM325.6,272.9 L333.8,259.4 L342.1,272.9 ZM336.1,272.1 L344.4,258.6 L352.6,272.1 ZM346.7,271.5 L354.9,258.0 L363.2,271.5 ZM357.2,271.3 L365.5,257.8 L373.7,271.3 ZM367.8,271.8 L376.0,258.3 L384.3,271.8 ZM378.3,272.9 L386.6,259.4 L394.8,272.9 ZM388.9,275.9 L397.1,262.4 L405.4,275.9 ZM399.4,280.5 L407.7,267.0 L415.9,280.5 ZM410.0,287.0 L418.2,273.5 L426.5,287.0 ZM420.5,296.5 L428.8,283.0 L437.0,296.5 ZM431.1,311.7 L439.3,298.2 L447.6,311.7 ZM441.6,326.1 L449.9,312.6 L458.1,326.1 ZM452.2,347.9 L460.4,334.4 L468.7,347.9 ZM462.7,372.1 L471.0,358.6 L479.2,372.1 ZM473.3,396.3 L481.5,382.8 L489.8,396.3 ZM483.8,419.3 L492.1,405.8 L500.3,419.3 ZM494.4,447.3 L502.6,433.8 L510.9,447.3 ZM504.9,469.3 L513.2,455.8 L521.4,469.3 ZM515.5,487.8 L523.7,474.3 L532.0,487.8 ZM526.0,506.1 L534.3,492.6 L542.5,506.1 ZM536.6,520.4 L544.8,506.9 L553.1,520.4 ZM547.1,532.5 L555.4,519.0 L563.6,532.5 ZM557.7,540.7 L565.9,527.2 L574.2,540.7 ZM568.2,547.0 L576.5,533.5 L584.7,547.0 ZM578.8,552.3 L587.0,538.8 L595.3,552.3 ZM589.3,556.9 L597.6,543.4 L605.8,556.9 ZM599.9,559.8 L608.1,546.3 L616.4,559.8 ZM610.4,561.7 L618.7,548.2 L626.9,561.7 ZM621.0,563.6 L629.2,550.1 L637.5,563.6 ZM631.5,565.8 L639.8,552.3 L648.0,565.8 ZM642.1,567.9 L650.3,554.4 L658.6,567.9 ZM652.6,569.6 L660.9,556.1 L669.1,569.6 ZM663.2,570.7 L671.4,557.2 L679.7,570.7 ZM673.7,571.7 L682.0,558.2 L690.2,571.7 ZM684.3,572.6 L692.5,559.1 L700.8,572.6 ZM694.8,573.3 L703.1,559.8 L711.3,573.3 ZM705.4,573.8 L713.6,560.3 L721.9,573.8 ZM715.9,574.2 L724.2,560.7 L732.4,574.2 ZM726.5,574.6 L734.7,561.1 L743.0,574.6 ZM737.0,574.9 L745.3,561.4 L753.5,574.9 ZM747.6,575.2 L755.8,561.7 L764.1,575.2 ZM758.1,575.4 L766.4,561.9 L774.6,575.4 ZM768.7,575.7 L776.9,562.2 L785.2,575.7 ZM779.2,575.9 L787.5,562.4 L795.7,575.9 ZM789.8,576.1 L798.0,562.6 L806.3,576.1 ZM800.3,576.2 L808.6,562.7 L816.8,576.2 ZM810.9,576.4 L819.1,562.9 L827.4,576.4 ZM821.4,576.6 L829.7,563.1 L837.9,576.6 ZM832.0,576.7 L840.2,563.2 L848.5,576.7 ZM842.5,576.8 L850.8,563.3 L859.0,576.8 ZM853.1,577.0 L861.3,563.5 L869.6,577.0 ZM863.6,577.1 L871.9,563.6 L880.1,577.1 ZM874.2,577.2 L882.4,563.7 L890.7,577.2 ZM884.7,577.3 L893.0,563.8 L901.2,577.3 ZM895.3,577.4 L903.5,563.9 L911.8,577.4 ZM905.8,577.5 L914.1,564.0 L922.3,577.5 ZM916.4,577.6 L924.6,564.1 L932.9,577.6 ZM926.9,577.7 L935.2,564.2 L943.4,577.7 ZM937.5,577.8 L945.7,564.3 L954.0,577.8 ZM948.0,577.8 L956.3,564.3 L964.5,577.8 ZM958.6,577.9 L966.8,564.4 L975.1,577.9 ZM969.1,578.0 L977.4,564.5 L985.6,578.0 ZM979.7,578.0 L987.9,564.5 L996.2,578.0 ZM990.2,578.1 L998.5,564.6 L1006.7,578.1 ZM1000.8,578.1 L1009.0,564.6 L1017.3,578.1 Z" fill="#fff" fill-opacity="0.7" stroke="#111" stroke-width="1.8" stroke-linejoin="miter"/>
</g>
<path d="M416,258 C452,272 485,312 499,362" fill="none" stroke="#000" stroke-width="4.5"/>
<path d="M489,356 L509,353 L505.5,385 Z" fill="#000"/>
<path d="M417.6,567.8 C390,535 365,500 354,462" fill="none" stroke="#000" stroke-width="4.5"/>
<path d="M346,470 L364,464 L344.4,442 Z" fill="#000"/>
<path d="M907,594 L720,592 L665,589.5" fill="none" stroke="#000" stroke-width="5.5"/>
<path d="M674,581.5 L674,597 L644,589.5 Z" fill="#000"/>
<rect x="621.5" y="211" width="358.0" height="259" fill="#fff"/>
<path d="M622.6,242.3 L623.8,242.3 L625.0,242.3 L626.2,242.3 L627.4,242.3 L628.6,242.3 L629.8,242.3 L631.0,242.4 L632.1,242.4 L633.3,242.4 L634.5,242.4 L635.7,242.5 L636.9,242.5 L638.1,242.5 L639.3,242.6 L640.5,242.6 L641.7,242.6 L642.9,242.7 L644.1,242.7 L645.3,242.8 L646.5,242.8 L647.7,242.9 L648.9,242.9 L650.0,243.0 L651.2,243.0 L652.4,243.1 L653.6,243.1 L654.8,243.2 L656.0,243.2 L657.2,243.3 L658.4,243.3 L659.6,243.4 L660.8,243.4 L662.0,243.5 L663.2,243.6 L664.4,243.6 L665.6,243.7 L666.8,243.7 L667.9,243.8 L669.1,243.9 L670.3,243.9 L671.5,244.0 L672.7,244.1 L673.9,244.1 L675.1,244.2 L676.3,244.3 L677.5,244.4 L678.7,244.5 L679.9,244.6 L681.1,244.7 L682.3,244.8 L683.5,245.0 L684.7,245.1 L685.8,245.2 L687.0,245.4 L688.2,245.6 L689.4,245.9 L690.6,246.2 L691.8,246.5 L693.0,246.8 L694.2,247.2 L695.4,247.6 L696.6,248.1 L697.8,248.5 L699.0,249.0 L700.2,249.5 L701.4,250.1 L702.6,250.6 L703.7,251.2 L704.9,251.8 L706.1,252.3 L707.3,253.0 L708.5,253.6 L709.7,254.3 L710.9,255.1 L712.1,255.9 L713.3,256.7 L714.5,257.6 L715.7,258.6 L716.9,259.6 L718.1,260.8 L719.3,261.9 L720.5,263.2 L721.6,264.5 L722.8,265.9 L724.0,267.4 L725.2,269.1 L726.4,271.0 L727.6,273.1 L728.8,275.6 L730.0,278.4 L731.2,281.6 L732.4,285.4 L733.6,291.2 L734.8,298.1 L736.0,304.7 L737.2,309.8 L738.4,314.3 L739.5,319.9 L740.7,328.3 L741.9,345.0 L743.1,364.1 L744.3,381.6 L745.5,395.3 L746.7,407.1 L747.9,417.8 L749.1,428.4 L750.3,433.1 L751.5,434.5 L752.7,435.6 L753.9,436.4 L755.1,436.9 L756.3,437.1 L757.4,437.2 L758.6,437.3 L759.8,437.3 L761.0,437.4 L762.2,437.4 L763.4,437.5 L764.6,437.5 L765.8,437.6 L767.0,437.6 L768.2,437.7 L769.4,437.7 L770.6,437.7 L771.8,437.7 L773.0,437.8 L774.2,437.8 L775.3,437.8 L776.5,437.8 L777.7,437.9 L778.9,437.9 L780.1,437.9 L781.3,437.9 L782.5,437.9 L783.7,437.9 L784.9,438.0 L786.1,438.0 L787.3,438.0 L788.5,438.0 L789.7,438.0 L790.9,438.0 L792.1,438.0 L793.2,438.1 L794.4,438.1 L795.6,438.1 L796.8,438.1 L798.0,438.2 L799.2,438.2 L800.4,438.2 L801.6,438.3 L802.8,438.3 L804.0,438.3 L805.2,438.4 L806.4,438.4 L807.6,438.4 L808.8,438.5 L809.9,438.5 L811.1,438.6 L812.3,438.6 L813.5,438.6 L814.7,438.7 L815.9,438.7 L817.1,438.8 L818.3,438.8 L819.5,438.8 L820.7,438.9 L821.9,438.9 L823.1,439.0 L824.3,439.0 L825.5,439.0 L826.7,439.1 L827.8,439.1 L829.0,439.2 L830.2,439.2 L831.4,439.3 L832.6,439.3 L833.8,439.4 L835.0,439.4 L836.2,439.4 L837.4,439.5 L838.6,439.5 L839.8,439.6 L841.0,439.6 L842.2,439.7 L843.4,439.7 L844.6,439.8 L845.7,439.8 L846.9,439.9 L848.1,439.9 L849.3,439.9 L850.5,440.0 L851.7,440.0 L852.9,440.1 L854.1,440.1 L855.3,440.2 L856.5,440.2 L857.7,440.3 L858.9,440.3 L860.1,440.4 L861.3,440.4 L862.5,440.5 L863.6,440.5 L864.8,440.6 L866.0,440.6 L867.2,440.7 L868.4,440.7 L869.6,440.8 L870.8,440.8 L872.0,440.9 L873.2,440.9 L874.4,441.0 L875.6,441.0 L876.8,441.1 L878.0,441.1 L879.2,441.1 L880.4,441.2 L881.5,441.2 L882.7,441.3 L883.9,441.3 L885.1,441.4 L886.3,441.4 L887.5,441.5 L888.7,441.5 L889.9,441.6 L891.1,441.6 L892.3,441.7 L893.5,441.7 L894.7,441.8 L895.9,441.8 L897.1,441.9 L898.3,441.9 L899.4,442.0 L900.6,442.0 L901.8,442.1 L903.0,442.1 L904.2,442.1 L905.4,442.2 L906.6,442.2 L907.8,442.3 L909.0,442.3 L910.2,442.4 L911.4,442.4 L912.6,442.5 L913.8,442.5 L915.0,442.6 L916.2,442.6 L917.3,442.7 L918.5,442.7 L919.7,442.8 L920.9,442.8 L922.1,442.9 L923.3,442.9 L924.5,443.0 L925.7,443.0 L926.9,443.1 L928.1,443.1 L929.3,443.2 L930.5,443.2 L931.7,443.3 L932.9,443.3 L934.1,443.4 L935.2,443.4 L936.4,443.5 L937.6,443.5 L938.8,443.6 L940.0,443.6 L941.2,443.7 L942.4,443.7 L943.6,443.8 L944.8,443.8 L946.0,443.9 L947.2,443.9 L948.4,444.0 L949.6,444.0 L950.8,444.1 L952.0,444.1 L953.1,444.2 L954.3,444.2 L955.5,444.3 L956.7,444.3 L957.9,444.4 L959.1,444.4 L960.3,444.5 L961.5,444.5 L962.7,444.6 L963.9,444.6 L965.1,444.7 L966.3,444.7 L967.5,444.8 L968.7,444.8 L969.9,444.9 L971.0,444.9 L972.2,445.0 L973.4,445.0 L974.6,445.1 L975.8,445.2 L977.0,445.2 L978.2,445.3 L979.4,445.3" fill="none" stroke="#1fa84c" stroke-width="11" stroke-linejoin="round"/>
<path d="M622.6,242.3 L623.8,242.3 L625.0,242.3 L626.2,242.3 L627.4,242.3 L628.6,242.3 L629.8,242.3 L631.0,242.4 L632.1,242.4 L633.3,242.4 L634.5,242.4 L635.7,242.5 L636.9,242.5 L638.1,242.5 L639.3,242.6 L640.5,242.6 L641.7,242.6 L642.9,242.7 L644.1,242.7 L645.3,242.8 L646.5,242.8 L647.7,242.9 L648.9,242.9 L650.0,243.0 L651.2,243.0 L652.4,243.1 L653.6,243.1 L654.8,243.2 L656.0,243.2 L657.2,243.3 L658.4,243.3 L659.6,243.4 L660.8,243.4 L662.0,243.5 L663.2,243.6 L664.4,243.6 L665.6,243.7 L666.8,243.7 L667.9,243.8 L669.1,243.9 L670.3,243.9 L671.5,244.0 L672.7,244.1 L673.9,244.1 L675.1,244.2 L676.3,244.3 L677.5,244.4 L678.7,244.5 L679.9,244.6 L681.1,244.7 L682.3,244.8 L683.5,245.0 L684.7,245.1 L685.8,245.2 L687.0,245.4 L688.2,245.6 L689.4,245.9 L690.6,246.2 L691.8,246.5 L693.0,246.8 L694.2,247.2 L695.4,247.6 L696.6,248.1 L697.8,248.5 L699.0,249.0 L700.2,249.5 L701.4,250.1 L702.6,250.6 L703.7,251.2 L704.9,251.8 L706.1,252.3 L707.3,253.0 L708.5,253.6 L709.7,254.3 L710.9,255.1 L712.1,255.9 L713.3,256.7 L714.5,257.6 L715.7,258.6 L716.9,259.6 L718.1,260.8 L719.3,261.9 L720.5,263.2 L721.6,264.5 L722.8,265.9 L724.0,267.4 L725.2,269.1 L726.4,271.0 L727.6,273.1 L728.8,275.6 L730.0,278.4 L731.2,281.6 L732.4,285.4 L733.6,291.4 L734.8,298.4 L736.0,304.7 L737.2,310.0 L738.4,314.9 L739.5,319.6 L740.7,324.1 L741.9,328.6 L743.1,332.9 L744.3,337.1 L745.5,341.1 L746.7,345.2 L747.9,349.3 L749.1,353.4 L750.3,357.6 L751.5,361.7 L752.7,365.8 L753.9,369.9 L755.1,374.1 L756.3,378.4 L757.4,382.9 L758.6,387.7 L759.8,392.6 L761.0,397.4 L762.2,402.2 L763.4,406.6 L764.6,410.7 L765.8,414.2 L767.0,417.3 L768.2,420.3 L769.4,423.2 L770.6,425.6 L771.8,427.6 L773.0,428.9 L774.2,429.8 L775.3,430.6 L776.5,431.3 L777.7,431.9 L778.9,432.5 L780.1,433.1 L781.3,433.5 L782.5,434.0 L783.7,434.4 L784.9,434.7 L786.1,435.1 L787.3,435.4 L788.5,435.6 L789.7,435.9 L790.9,436.1 L792.1,436.3 L793.2,436.5 L794.4,436.7 L795.6,436.9 L796.8,437.1 L798.0,437.2 L799.2,437.3 L800.4,437.4 L801.6,437.5 L802.8,437.6 L804.0,437.7 L805.2,437.8 L806.4,437.9 L807.6,438.0 L808.8,438.1 L809.9,438.2 L811.1,438.2 L812.3,438.3 L813.5,438.4 L814.7,438.5 L815.9,438.5 L817.1,438.6 L818.3,438.7 L819.5,438.7 L820.7,438.8 L821.9,438.9 L823.1,438.9 L824.3,439.0 L825.5,439.1 L826.7,439.1 L827.8,439.2 L829.0,439.2 L830.2,439.3 L831.4,439.4 L832.6,439.4 L833.8,439.5 L835.0,439.5 L836.2,439.6 L837.4,439.6 L838.6,439.7 L839.8,439.7 L841.0,439.8 L842.2,439.8 L843.4,439.9 L844.6,439.9 L845.7,439.9 L846.9,440.0 L848.1,440.0 L849.3,440.1 L850.5,440.1 L851.7,440.2 L852.9,440.2 L854.1,440.3 L855.3,440.3 L856.5,440.3 L857.7,440.4 L858.9,440.4 L860.1,440.5 L861.3,440.5 L862.5,440.5 L863.6,440.6 L864.8,440.6 L866.0,440.7 L867.2,440.7 L868.4,440.8 L869.6,440.8 L870.8,440.8 L872.0,440.9 L873.2,440.9 L874.4,441.0 L875.6,441.0 L876.8,441.1 L878.0,441.1 L879.2,441.1 L880.4,441.2 L881.5,441.2 L882.7,441.3 L883.9,441.3 L885.1,441.4 L886.3,441.4 L887.5,441.5 L888.7,441.5 L889.9,441.6 L891.1,441.6 L892.3,441.7 L893.5,441.7 L894.7,441.8 L895.9,441.8 L897.1,441.9 L898.3,441.9 L899.4,442.0 L900.6,442.0 L901.8,442.1 L903.0,442.1 L904.2,442.2 L905.4,442.2 L906.6,442.3 L907.8,442.4 L909.0,442.4 L910.2,442.5 L911.4,442.5 L912.6,442.6 L913.8,442.6 L915.0,442.7 L916.2,442.7 L917.3,442.8 L918.5,442.8 L919.7,442.9 L920.9,442.9 L922.1,443.0 L923.3,443.0 L924.5,443.1 L925.7,443.1 L926.9,443.2 L928.1,443.2 L929.3,443.3 L930.5,443.3 L931.7,443.4 L932.9,443.4 L934.1,443.5 L935.2,443.5 L936.4,443.6 L937.6,443.6 L938.8,443.7 L940.0,443.7 L941.2,443.8 L942.4,443.8 L943.6,443.9 L944.8,443.9 L946.0,444.0 L947.2,444.0 L948.4,444.1 L949.6,444.1 L950.8,444.2 L952.0,444.2 L953.1,444.3 L954.3,444.3 L955.5,444.3 L956.7,444.4 L957.9,444.4 L959.1,444.5 L960.3,444.5 L961.5,444.6 L962.7,444.6 L963.9,444.7 L965.1,444.7 L966.3,444.8 L967.5,444.8 L968.7,444.9 L969.9,444.9 L971.0,445.0 L972.2,445.0 L973.4,445.1 L974.6,445.1 L975.8,445.2 L977.0,445.2 L978.2,445.3 L979.4,445.3" fill="none" stroke="#1fa84c" stroke-width="11" stroke-linejoin="round"/>
<rect x="621.5" y="211" width="358.0" height="259" fill="none" stroke="#111" stroke-width="2.8"/>
<line x1="711.8" y1="470" x2="711.8" y2="464" stroke="#111" stroke-width="2.5"/>
<line x1="801.0" y1="470" x2="801.0" y2="464" stroke="#111" stroke-width="2.5"/>
<line x1="890.2" y1="470" x2="890.2" y2="464" stroke="#111" stroke-width="2.5"/>
<line x1="621.5" y1="452.0" x2="627.5" y2="452.0" stroke="#111" stroke-width="2"/>
<line x1="621.5" y1="433.4" x2="625.0" y2="433.4" stroke="#111" stroke-width="2"/>
<line x1="621.5" y1="414.8" x2="627.5" y2="414.8" stroke="#111" stroke-width="2"/>
<line x1="621.5" y1="396.2" x2="625.0" y2="396.2" stroke="#111" stroke-width="2"/>
<line x1="621.5" y1="377.6" x2="627.5" y2="377.6" stroke="#111" stroke-width="2"/>
<line x1="621.5" y1="359.0" x2="625.0" y2="359.0" stroke="#111" stroke-width="2"/>
<line x1="621.5" y1="340.4" x2="627.5" y2="340.4" stroke="#111" stroke-width="2"/>
<line x1="621.5" y1="321.9" x2="625.0" y2="321.9" stroke="#111" stroke-width="2"/>
<line x1="621.5" y1="303.3" x2="627.5" y2="303.3" stroke="#111" stroke-width="2"/>
<line x1="621.5" y1="284.7" x2="625.0" y2="284.7" stroke="#111" stroke-width="2"/>
<line x1="621.5" y1="266.1" x2="627.5" y2="266.1" stroke="#111" stroke-width="2"/>
<line x1="621.5" y1="247.5" x2="625.0" y2="247.5" stroke="#111" stroke-width="2"/>
<line x1="621.5" y1="228.9" x2="627.5" y2="228.9" stroke="#111" stroke-width="2"/>
<text x="614.5" y="456.0" font-size="11" font-weight="bold" fill="#555" text-anchor="end">0</text>
<text x="614.5" y="418.8" font-size="11" font-weight="bold" fill="#555" text-anchor="end">50</text>
<text x="614.5" y="381.6" font-size="11" font-weight="bold" fill="#555" text-anchor="end">100</text>
<text x="614.5" y="344.4" font-size="11" font-weight="bold" fill="#555" text-anchor="end">150</text>
<text x="614.5" y="307.3" font-size="11" font-weight="bold" fill="#555" text-anchor="end">200</text>
<text x="614.5" y="270.1" font-size="11" font-weight="bold" fill="#555" text-anchor="end">250</text>
<text x="614.5" y="232.9" font-size="11" font-weight="bold" fill="#555" text-anchor="end">300</text>
<text x="622.6" y="496.4" font-size="22" font-weight="bold" fill="#1a1a1a" text-anchor="middle">-2</text>
<text x="711.8" y="496.4" font-size="22" font-weight="bold" fill="#1a1a1a" text-anchor="middle">-1</text>
<text x="801.0" y="496.4" font-size="22" font-weight="bold" fill="#1a1a1a" text-anchor="middle">0</text>
<text x="890.2" y="496.4" font-size="22" font-weight="bold" fill="#1a1a1a" text-anchor="middle">1</text>
<text x="979.4" y="496.4" font-size="22" font-weight="bold" fill="#1a1a1a" text-anchor="middle">2</text>
<text x="735" y="522.7" font-size="16.5" font-weight="bold" fill="#3d4350" textLength="129" lengthAdjust="spacingAndGlyphs">VOLTAGE (V)</text>
<text transform="translate(579,479) rotate(-90)" font-size="20" font-weight="bold" fill="#2d3038" textLength="241" lengthAdjust="spacingAndGlyphs">CAPACITANCE  (nF/cm<tspan font-size="11" dy="-8">2</tspan><tspan dy="8">)</tspan></text>
<text x="821" y="237" font-size="16" font-weight="bold" fill="#4d5866" textLength="144" lengthAdjust="spacingAndGlyphs">Without Au NP</text>
<path d="M713.4,239.8 C730,247 744,262 750,284" fill="none" stroke="#333" stroke-width="2"/>
<path d="M746,281 L755,279 L752,293 Z" fill="#222"/>
<path d="M751,444 C738,428 724,414 720.5,400" fill="none" stroke="#444" stroke-width="2"/>
<path d="M715.5,402 L724.5,400 L718.3,390 Z" fill="#222"/>
<path d="M939.6,453.8 L840,451.5" fill="none" stroke="#333" stroke-width="2"/>
<path d="M842,447.5 L842,455 L828.5,451 Z" fill="#222"/>
<defs><linearGradient id="cellg" x1="0" y1="0" x2="0" y2="1"><stop offset="0" stop-color="#c9e3ec"/><stop offset="0.5" stop-color="#e4f2f7"/><stop offset="1" stop-color="#c9e3ec"/></linearGradient></defs>
<rect x="211" y="52.4" width="143.7" height="32.6" fill="url(#cellg)"/>
<rect x="211" y="85" width="143.7" height="34.5" fill="url(#cellg)"/>
<rect x="211" y="119.5" width="143.7" height="33.5" fill="url(#cellg)"/>
<rect x="211" y="153" width="143.7" height="32" fill="url(#cellg)"/>
<rect x="211" y="185" width="143.7" height="33.69999999999999" fill="url(#cellg)"/>
<line x1="211" y1="85" x2="354.7" y2="85" stroke="#111" stroke-width="5.5"/>
<line x1="211" y1="119.5" x2="354.7" y2="119.5" stroke="#111" stroke-width="5.5"/>
<line x1="211" y1="153" x2="354.7" y2="153" stroke="#111" stroke-width="5.5"/>
<line x1="211" y1="185" x2="354.7" y2="185" stroke="#111" stroke-width="5.5"/>
<rect x="211" y="52.4" width="143.7" height="166.29999999999998" rx="2" fill="none" stroke="#111" stroke-width="5.8"/>
<text x="275.4" y="75.6" font-size="17" fill="#221e1a" stroke="#221e1a" stroke-width="0.6" textLength="15.7" lengthAdjust="spacingAndGlyphs">Al</text>
<text x="251.2" y="108" font-size="17" fill="#221e1a" stroke="#221e1a" stroke-width="0.6" textLength="65.5" lengthAdjust="spacingAndGlyphs">Au+PVK</text>
<text x="249.2" y="141.2" font-size="17" fill="#221e1a" stroke="#221e1a" stroke-width="0.6" textLength="69.6" lengthAdjust="spacingAndGlyphs">5nmSiO<tspan font-size="11" dy="4">2</tspan></text>
<text x="248.0" y="175.5" font-size="17" fill="#221e1a" stroke="#221e1a" stroke-width="0.6" textLength="68" lengthAdjust="spacingAndGlyphs">p-type Si</text>
<text x="272.8" y="206.7" font-size="17" fill="#221e1a" stroke="#221e1a" stroke-width="0.6" textLength="22.4" lengthAdjust="spacingAndGlyphs">Au</text>
<line x1="576" y1="67.5" x2="633" y2="67.5" stroke="#4450c0" stroke-width="1.8"/>
<rect x="599.5" y="62.0" width="11" height="11" fill="#fff" stroke="#4450c0" stroke-width="1.8"/>
<text x="640" y="75.5" font-size="23" font-weight="bold" fill="#1a1a1a" textLength="323.7" lengthAdjust="spacingAndGlyphs">± 2V, ΔV<tspan font-size="13" dy="6">FB</tspan><tspan dy="-6">= - 0.32V with Au</tspan></text>
<line x1="576" y1="106.6" x2="633" y2="106.6" stroke="#f03a3a" stroke-width="1.8"/>
<circle cx="605" cy="106.6" r="6" fill="#fff" stroke="#f03a3a" stroke-width="1.8"/>
<text x="640" y="114.6" font-size="23" font-weight="bold" fill="#1a1a1a" textLength="323.7" lengthAdjust="spacingAndGlyphs">± 3V, ΔV<tspan font-size="13" dy="6">FB</tspan><tspan dy="-6">= - 0.46V with Au</tspan></text>
<line x1="576" y1="146.4" x2="633" y2="146.4" stroke="#222" stroke-width="1.8"/>
<path d="M597,152.4 L605,139.4 L613,152.4 Z" fill="#fff" stroke="#222" stroke-width="1.8"/>
<text x="640" y="154.4" font-size="23" font-weight="bold" fill="#1a1a1a" textLength="323.7" lengthAdjust="spacingAndGlyphs">± 4V, ΔV<tspan font-size="13" dy="6">FB</tspan><tspan dy="-6">= - 0.58V with Au</tspan></text>
<line x1="270.5" y1="628" x2="270.5" y2="620" stroke="#000" stroke-width="4.5" stroke-linecap="round"/>
<line x1="270.5" y1="22" x2="270.5" y2="33.5" stroke="#000" stroke-width="4.5" stroke-linecap="round"/>
<line x1="376.0" y1="628" x2="376.0" y2="615" stroke="#000" stroke-width="4.5" stroke-linecap="round"/>
<line x1="376.0" y1="22" x2="376.0" y2="37" stroke="#000" stroke-width="4.5" stroke-linecap="round"/>
<line x1="481.5" y1="628" x2="481.5" y2="620" stroke="#000" stroke-width="4.5" stroke-linecap="round"/>
<line x1="481.5" y1="22" x2="481.5" y2="33.5" stroke="#000" stroke-width="4.5" stroke-linecap="round"/>
<line x1="587.0" y1="628" x2="587.0" y2="615" stroke="#000" stroke-width="4.5" stroke-linecap="round"/>
<line x1="587.0" y1="22" x2="587.0" y2="37" stroke="#000" stroke-width="4.5" stroke-linecap="round"/>
<line x1="692.5" y1="628" x2="692.5" y2="620" stroke="#000" stroke-width="4.5" stroke-linecap="round"/>
<line x1="692.5" y1="22" x2="692.5" y2="33.5" stroke="#000" stroke-width="4.5" stroke-linecap="round"/>
<line x1="798.0" y1="628" x2="798.0" y2="615" stroke="#000" stroke-width="4.5" stroke-linecap="round"/>
<line x1="798.0" y1="22" x2="798.0" y2="37" stroke="#000" stroke-width="4.5" stroke-linecap="round"/>
<line x1="903.5" y1="628" x2="903.5" y2="620" stroke="#000" stroke-width="4.5" stroke-linecap="round"/>
<line x1="903.5" y1="22" x2="903.5" y2="33.5" stroke="#000" stroke-width="4.5" stroke-linecap="round"/>
<line x1="164" y1="588.0" x2="177" y2="588.0" stroke="#000" stroke-width="3.5"/>
<line x1="1009.5" y1="588.0" x2="996.5" y2="588.0" stroke="#000" stroke-width="3.5"/>
<line x1="164" y1="547.6" x2="173" y2="547.6" stroke="#000" stroke-width="3.5"/>
<line x1="1009.5" y1="547.6" x2="1000.5" y2="547.6" stroke="#000" stroke-width="3.5"/>
<line x1="164" y1="507.1" x2="177" y2="507.1" stroke="#000" stroke-width="3.5"/>
<line x1="1009.5" y1="507.1" x2="996.5" y2="507.1" stroke="#000" stroke-width="3.5"/>
<line x1="164" y1="466.7" x2="173" y2="466.7" stroke="#000" stroke-width="3.5"/>
<line x1="1009.5" y1="466.7" x2="1000.5" y2="466.7" stroke="#000" stroke-width="3.5"/>
<line x1="164" y1="426.3" x2="177" y2="426.3" stroke="#000" stroke-width="3.5"/>
<line x1="1009.5" y1="426.3" x2="996.5" y2="426.3" stroke="#000" stroke-width="3.5"/>
<line x1="164" y1="385.9" x2="173" y2="385.9" stroke="#000" stroke-width="3.5"/>
<line x1="1009.5" y1="385.9" x2="1000.5" y2="385.9" stroke="#000" stroke-width="3.5"/>
<line x1="164" y1="345.4" x2="177" y2="345.4" stroke="#000" stroke-width="3.5"/>
<line x1="1009.5" y1="345.4" x2="996.5" y2="345.4" stroke="#000" stroke-width="3.5"/>
<line x1="164" y1="305.0" x2="173" y2="305.0" stroke="#000" stroke-width="3.5"/>
<line x1="1009.5" y1="305.0" x2="1000.5" y2="305.0" stroke="#000" stroke-width="3.5"/>
<line x1="164" y1="264.6" x2="177" y2="264.6" stroke="#000" stroke-width="3.5"/>
<line x1="1009.5" y1="264.6" x2="996.5" y2="264.6" stroke="#000" stroke-width="3.5"/>
<line x1="164" y1="224.1" x2="173" y2="224.1" stroke="#000" stroke-width="3.5"/>
<line x1="1009.5" y1="224.1" x2="1000.5" y2="224.1" stroke="#000" stroke-width="3.5"/>
<line x1="164" y1="183.7" x2="177" y2="183.7" stroke="#000" stroke-width="3.5"/>
<line x1="1009.5" y1="183.7" x2="996.5" y2="183.7" stroke="#000" stroke-width="3.5"/>
<line x1="164" y1="143.3" x2="173" y2="143.3" stroke="#000" stroke-width="3.5"/>
<line x1="1009.5" y1="143.3" x2="1000.5" y2="143.3" stroke="#000" stroke-width="3.5"/>
<line x1="164" y1="102.8" x2="177" y2="102.8" stroke="#000" stroke-width="3.5"/>
<line x1="1009.5" y1="102.8" x2="996.5" y2="102.8" stroke="#000" stroke-width="3.5"/>
<line x1="164" y1="62.4" x2="173" y2="62.4" stroke="#000" stroke-width="3.5"/>
<line x1="1009.5" y1="62.4" x2="1000.5" y2="62.4" stroke="#000" stroke-width="3.5"/>
<rect x="164" y="22" width="845.5" height="606" fill="none" stroke="#000" stroke-width="7"/>
<text x="148.5" y="601.4" font-size="44" font-weight="bold" text-anchor="end" fill="#111" >0</text>
<text x="148.5" y="520.5" font-size="44" font-weight="bold" text-anchor="end" fill="#111" textLength="48" lengthAdjust="spacingAndGlyphs" >50</text>
<text x="148.5" y="439.7" font-size="44" font-weight="bold" text-anchor="end" fill="#111" textLength="75" lengthAdjust="spacingAndGlyphs" >100</text>
<text x="148.5" y="358.8" font-size="44" font-weight="bold" text-anchor="end" fill="#111" textLength="75" lengthAdjust="spacingAndGlyphs" >150</text>
<text x="148.5" y="278.0" font-size="44" font-weight="bold" text-anchor="end" fill="#111" textLength="75" lengthAdjust="spacingAndGlyphs" >200</text>
<text x="148.5" y="197.1" font-size="44" font-weight="bold" text-anchor="end" fill="#111" textLength="75" lengthAdjust="spacingAndGlyphs" >250</text>
<text x="148.5" y="116.2" font-size="44" font-weight="bold" text-anchor="end" fill="#111" textLength="75" lengthAdjust="spacingAndGlyphs" >300</text>
<text x="148.5" y="35.4" font-size="44" font-weight="bold" text-anchor="end" fill="#111" textLength="75" lengthAdjust="spacingAndGlyphs" >350</text>
<text x="165.0" y="670.0" font-size="33" font-weight="bold" text-anchor="middle" fill="#111" >-2</text>
<text x="376.0" y="670.0" font-size="33" font-weight="bold" text-anchor="middle" fill="#111" >-1</text>
<text x="587.0" y="670.0" font-size="33" font-weight="bold" text-anchor="middle" fill="#111" >0</text>
<text x="798.0" y="670.0" font-size="33" font-weight="bold" text-anchor="middle" fill="#111" >1</text>
<text x="1009.0" y="670.0" font-size="33" font-weight="bold" text-anchor="middle" fill="#111" >2</text>
<text x="434.6" y="713.0" font-size="46" font-weight="bold" text-anchor="start" fill="#111" textLength="302" lengthAdjust="spacingAndGlyphs" >VOLTAGE (V)</text>
<g transform="translate(56,614.6) rotate(-90)"><text x="-2.5" y="0" font-size="49" font-weight="bold" fill="#111" textLength="351" lengthAdjust="spacingAndGlyphs">CAPACITANCE</text><text x="357.5" y="0" font-size="49" font-weight="bold" fill="#111" textLength="209" lengthAdjust="spacingAndGlyphs">(nF/cm<tspan font-size="30" dy="-21">2</tspan><tspan dy="21">)</tspan></text></g>
<text x="195.5" y="595.0" font-size="45" font-weight="bold" text-anchor="start" fill="#111" textLength="62" lengthAdjust="spacingAndGlyphs" >(a)</text>
<line x1="237.0" y1="1352" x2="237.0" y2="1338" stroke="#000" stroke-width="4.5" stroke-linecap="round"/>
<line x1="237.0" y1="746.2" x2="237.0" y2="761.7" stroke="#000" stroke-width="4.5" stroke-linecap="round"/>
<line x1="323.0" y1="1352" x2="323.0" y2="1343" stroke="#000" stroke-width="4.5" stroke-linecap="round"/>
<line x1="323.0" y1="746.2" x2="323.0" y2="757.7" stroke="#000" stroke-width="4.5" stroke-linecap="round"/>
<line x1="409.0" y1="1352" x2="409.0" y2="1338" stroke="#000" stroke-width="4.5" stroke-linecap="round"/>
<line x1="409.0" y1="746.2" x2="409.0" y2="761.7" stroke="#000" stroke-width="4.5" stroke-linecap="round"/>
<line x1="495.0" y1="1352" x2="495.0" y2="1343" stroke="#000" stroke-width="4.5" stroke-linecap="round"/>
<line x1="495.0" y1="746.2" x2="495.0" y2="757.7" stroke="#000" stroke-width="4.5" stroke-linecap="round"/>
<line x1="581.0" y1="1352" x2="581.0" y2="1338" stroke="#000" stroke-width="4.5" stroke-linecap="round"/>
<line x1="581.0" y1="746.2" x2="581.0" y2="761.7" stroke="#000" stroke-width="4.5" stroke-linecap="round"/>
<line x1="667.0" y1="1352" x2="667.0" y2="1343" stroke="#000" stroke-width="4.5" stroke-linecap="round"/>
<line x1="667.0" y1="746.2" x2="667.0" y2="757.7" stroke="#000" stroke-width="4.5" stroke-linecap="round"/>
<line x1="753.0" y1="1352" x2="753.0" y2="1338" stroke="#000" stroke-width="4.5" stroke-linecap="round"/>
<line x1="753.0" y1="746.2" x2="753.0" y2="761.7" stroke="#000" stroke-width="4.5" stroke-linecap="round"/>
<line x1="839.0" y1="1352" x2="839.0" y2="1343" stroke="#000" stroke-width="4.5" stroke-linecap="round"/>
<line x1="839.0" y1="746.2" x2="839.0" y2="757.7" stroke="#000" stroke-width="4.5" stroke-linecap="round"/>
<line x1="925.0" y1="1352" x2="925.0" y2="1338" stroke="#000" stroke-width="4.5" stroke-linecap="round"/>
<line x1="925.0" y1="746.2" x2="925.0" y2="761.7" stroke="#000" stroke-width="4.5" stroke-linecap="round"/>
<rect x="150" y="1307.8" width="10.5" height="32.0" fill="#000"/>
<rect x="1002.5" y="1307.8" width="11.5" height="32.0" fill="#000"/>
<line x1="150" y1="1338.0" x2="162.5" y2="1338.0" stroke="#000" stroke-width="3.0"/>
<line x1="1014" y1="1338.0" x2="1001.5" y2="1338.0" stroke="#000" stroke-width="3.0"/>
<rect x="150" y="1264.7" width="10.5" height="32.0" fill="#000"/>
<rect x="1002.5" y="1264.7" width="11.5" height="32.0" fill="#000"/>
<line x1="150" y1="1307.8" x2="166.5" y2="1307.8" stroke="#000" stroke-width="4.2"/>
<line x1="1014" y1="1307.8" x2="997.5" y2="1307.8" stroke="#000" stroke-width="4.2"/>
<line x1="150" y1="1294.8" x2="162.5" y2="1294.8" stroke="#000" stroke-width="3.0"/>
<line x1="1014" y1="1294.8" x2="1001.5" y2="1294.8" stroke="#000" stroke-width="3.0"/>
<rect x="150" y="1221.5" width="10.5" height="32.0" fill="#000"/>
<rect x="1002.5" y="1221.5" width="11.5" height="32.0" fill="#000"/>
<line x1="150" y1="1264.7" x2="166.5" y2="1264.7" stroke="#000" stroke-width="4.2"/>
<line x1="1014" y1="1264.7" x2="997.5" y2="1264.7" stroke="#000" stroke-width="4.2"/>
<line x1="150" y1="1251.7" x2="162.5" y2="1251.7" stroke="#000" stroke-width="3.0"/>
<line x1="1014" y1="1251.7" x2="1001.5" y2="1251.7" stroke="#000" stroke-width="3.0"/>
<rect x="150" y="1178.4" width="10.5" height="32.0" fill="#000"/>
<rect x="1002.5" y="1178.4" width="11.5" height="32.0" fill="#000"/>
<line x1="150" y1="1221.5" x2="166.5" y2="1221.5" stroke="#000" stroke-width="4.2"/>
<line x1="1014" y1="1221.5" x2="997.5" y2="1221.5" stroke="#000" stroke-width="4.2"/>
<line x1="150" y1="1208.6" x2="162.5" y2="1208.6" stroke="#000" stroke-width="3.0"/>
<line x1="1014" y1="1208.6" x2="1001.5" y2="1208.6" stroke="#000" stroke-width="3.0"/>
<rect x="150" y="1135.3" width="10.5" height="32.0" fill="#000"/>
<rect x="1002.5" y="1135.3" width="11.5" height="32.0" fill="#000"/>
<line x1="150" y1="1178.4" x2="166.5" y2="1178.4" stroke="#000" stroke-width="4.2"/>
<line x1="1014" y1="1178.4" x2="997.5" y2="1178.4" stroke="#000" stroke-width="4.2"/>
<line x1="150" y1="1165.4" x2="162.5" y2="1165.4" stroke="#000" stroke-width="3.0"/>
<line x1="1014" y1="1165.4" x2="1001.5" y2="1165.4" stroke="#000" stroke-width="3.0"/>
<rect x="150" y="1092.1" width="10.5" height="32.0" fill="#000"/>
<rect x="1002.5" y="1092.1" width="11.5" height="32.0" fill="#000"/>
<line x1="150" y1="1135.3" x2="166.5" y2="1135.3" stroke="#000" stroke-width="4.2"/>
<line x1="1014" y1="1135.3" x2="997.5" y2="1135.3" stroke="#000" stroke-width="4.2"/>
<line x1="150" y1="1122.3" x2="162.5" y2="1122.3" stroke="#000" stroke-width="3.0"/>
<line x1="1014" y1="1122.3" x2="1001.5" y2="1122.3" stroke="#000" stroke-width="3.0"/>
<rect x="150" y="1049.0" width="10.5" height="32.0" fill="#000"/>
<rect x="1002.5" y="1049.0" width="11.5" height="32.0" fill="#000"/>
<line x1="150" y1="1092.1" x2="166.5" y2="1092.1" stroke="#000" stroke-width="4.2"/>
<line x1="1014" y1="1092.1" x2="997.5" y2="1092.1" stroke="#000" stroke-width="4.2"/>
<line x1="150" y1="1079.1" x2="162.5" y2="1079.1" stroke="#000" stroke-width="3.0"/>
<line x1="1014" y1="1079.1" x2="1001.5" y2="1079.1" stroke="#000" stroke-width="3.0"/>
<rect x="150" y="1005.8" width="10.5" height="32.0" fill="#000"/>
<rect x="1002.5" y="1005.8" width="11.5" height="32.0" fill="#000"/>
<line x1="150" y1="1049.0" x2="166.5" y2="1049.0" stroke="#000" stroke-width="4.2"/>
<line x1="1014" y1="1049.0" x2="997.5" y2="1049.0" stroke="#000" stroke-width="4.2"/>
<line x1="150" y1="1036.0" x2="162.5" y2="1036.0" stroke="#000" stroke-width="3.0"/>
<line x1="1014" y1="1036.0" x2="1001.5" y2="1036.0" stroke="#000" stroke-width="3.0"/>
<rect x="150" y="962.7" width="10.5" height="32.0" fill="#000"/>
<rect x="1002.5" y="962.7" width="11.5" height="32.0" fill="#000"/>
<line x1="150" y1="1005.8" x2="166.5" y2="1005.8" stroke="#000" stroke-width="4.2"/>
<line x1="1014" y1="1005.8" x2="997.5" y2="1005.8" stroke="#000" stroke-width="4.2"/>
<line x1="150" y1="992.9" x2="162.5" y2="992.9" stroke="#000" stroke-width="3.0"/>
<line x1="1014" y1="992.9" x2="1001.5" y2="992.9" stroke="#000" stroke-width="3.0"/>
<rect x="150" y="919.6" width="10.5" height="32.0" fill="#000"/>
<rect x="1002.5" y="919.6" width="11.5" height="32.0" fill="#000"/>
<line x1="150" y1="962.7" x2="166.5" y2="962.7" stroke="#000" stroke-width="4.2"/>
<line x1="1014" y1="962.7" x2="997.5" y2="962.7" stroke="#000" stroke-width="4.2"/>
<line x1="150" y1="949.7" x2="162.5" y2="949.7" stroke="#000" stroke-width="3.0"/>
<line x1="1014" y1="949.7" x2="1001.5" y2="949.7" stroke="#000" stroke-width="3.0"/>
<rect x="150" y="876.4" width="10.5" height="32.0" fill="#000"/>
<rect x="1002.5" y="876.4" width="11.5" height="32.0" fill="#000"/>
<line x1="150" y1="919.6" x2="166.5" y2="919.6" stroke="#000" stroke-width="4.2"/>
<line x1="1014" y1="919.6" x2="997.5" y2="919.6" stroke="#000" stroke-width="4.2"/>
<line x1="150" y1="906.6" x2="162.5" y2="906.6" stroke="#000" stroke-width="3.0"/>
<line x1="1014" y1="906.6" x2="1001.5" y2="906.6" stroke="#000" stroke-width="3.0"/>
<rect x="150" y="833.3" width="10.5" height="32.0" fill="#000"/>
<rect x="1002.5" y="833.3" width="11.5" height="32.0" fill="#000"/>
<line x1="150" y1="876.4" x2="166.5" y2="876.4" stroke="#000" stroke-width="4.2"/>
<line x1="1014" y1="876.4" x2="997.5" y2="876.4" stroke="#000" stroke-width="4.2"/>
<line x1="150" y1="863.4" x2="162.5" y2="863.4" stroke="#000" stroke-width="3.0"/>
<line x1="1014" y1="863.4" x2="1001.5" y2="863.4" stroke="#000" stroke-width="3.0"/>
<rect x="150" y="790.1" width="10.5" height="32.0" fill="#000"/>
<rect x="1002.5" y="790.1" width="11.5" height="32.0" fill="#000"/>
<line x1="150" y1="833.3" x2="166.5" y2="833.3" stroke="#000" stroke-width="4.2"/>
<line x1="1014" y1="833.3" x2="997.5" y2="833.3" stroke="#000" stroke-width="4.2"/>
<line x1="150" y1="820.3" x2="162.5" y2="820.3" stroke="#000" stroke-width="3.0"/>
<line x1="1014" y1="820.3" x2="1001.5" y2="820.3" stroke="#000" stroke-width="3.0"/>
<rect x="150" y="747.0" width="10.5" height="32.0" fill="#000"/>
<rect x="1002.5" y="747.0" width="11.5" height="32.0" fill="#000"/>
<line x1="150" y1="790.1" x2="166.5" y2="790.1" stroke="#000" stroke-width="4.2"/>
<line x1="1014" y1="790.1" x2="997.5" y2="790.1" stroke="#000" stroke-width="4.2"/>
<line x1="150" y1="777.2" x2="162.5" y2="777.2" stroke="#000" stroke-width="3.0"/>
<line x1="1014" y1="777.2" x2="1001.5" y2="777.2" stroke="#000" stroke-width="3.0"/>
<rect x="150" y="746.2" width="864" height="605.8" fill="none" stroke="#000" stroke-width="7.5"/>
<text x="134" y="760.5" font-size="38" font-weight="bold" text-anchor="end" fill="#111">10<tspan font-size="20" dx="1.5" dy="-21.5">0</tspan></text>
<text x="134" y="846.8" font-size="38" font-weight="bold" text-anchor="end" fill="#111">10<tspan font-size="20" dx="1.5" dy="-21.5">-2</tspan></text>
<text x="134" y="933.1" font-size="38" font-weight="bold" text-anchor="end" fill="#111">10<tspan font-size="20" dx="1.5" dy="-21.5">-4</tspan></text>
<text x="134" y="1019.3" font-size="38" font-weight="bold" text-anchor="end" fill="#111">10<tspan font-size="20" dx="1.5" dy="-21.5">-6</tspan></text>
<text x="134" y="1105.6" font-size="38" font-weight="bold" text-anchor="end" fill="#111">10<tspan font-size="20" dx="1.5" dy="-21.5">-8</tspan></text>
<text x="134" y="1191.9" font-size="38" font-weight="bold" text-anchor="end" fill="#111">10<tspan font-size="20" dx="1.5" dy="-21.5">-10</tspan></text>
<text x="134" y="1278.2" font-size="38" font-weight="bold" text-anchor="end" fill="#111">10<tspan font-size="20" dx="1.5" dy="-21.5">-12</tspan></text>
<text x="134" y="1364.5" font-size="38" font-weight="bold" text-anchor="end" fill="#111">10<tspan font-size="20" dx="1.5" dy="-21.5">-14</tspan></text>
<text x="237.0" y="1392.0" font-size="32" font-weight="bold" text-anchor="middle" fill="#111" >-2</text>
<text x="409.0" y="1392.0" font-size="32" font-weight="bold" text-anchor="middle" fill="#111" >-1</text>
<text x="581.0" y="1392.0" font-size="32" font-weight="bold" text-anchor="middle" fill="#111" >0</text>
<text x="753.0" y="1392.0" font-size="32" font-weight="bold" text-anchor="middle" fill="#111" >1</text>
<text x="925.0" y="1392.0" font-size="32" font-weight="bold" text-anchor="middle" fill="#111" >2</text>
<text x="425.0" y="1431.5" font-size="46" font-weight="bold" text-anchor="start" fill="#111" textLength="312" lengthAdjust="spacingAndGlyphs" >VOLTAGE (V)</text>
<g transform="translate(50,1216.6) rotate(-90)"><text x="-2.5" y="0" font-size="49" font-weight="bold" fill="#111" textLength="238" lengthAdjust="spacingAndGlyphs">CURRENT</text><text x="241" y="0" font-size="49" font-weight="bold" fill="#111" textLength="77" lengthAdjust="spacingAndGlyphs">(A)</text></g>
<text x="927.0" y="807.0" font-size="44" font-weight="bold" text-anchor="start" fill="#111" textLength="58" lengthAdjust="spacingAndGlyphs" >(b)</text>
<text x="240.6" y="810.0" font-size="31" font-weight="bold" text-anchor="start" fill="#111" textLength="209" lengthAdjust="spacingAndGlyphs" >ON : state '1'</text>
<text x="177.5" y="1176.0" font-size="30" font-weight="bold" text-anchor="start" fill="#111" textLength="227" lengthAdjust="spacingAndGlyphs" >OFF : state '0'</text>
</svg></body></html>
